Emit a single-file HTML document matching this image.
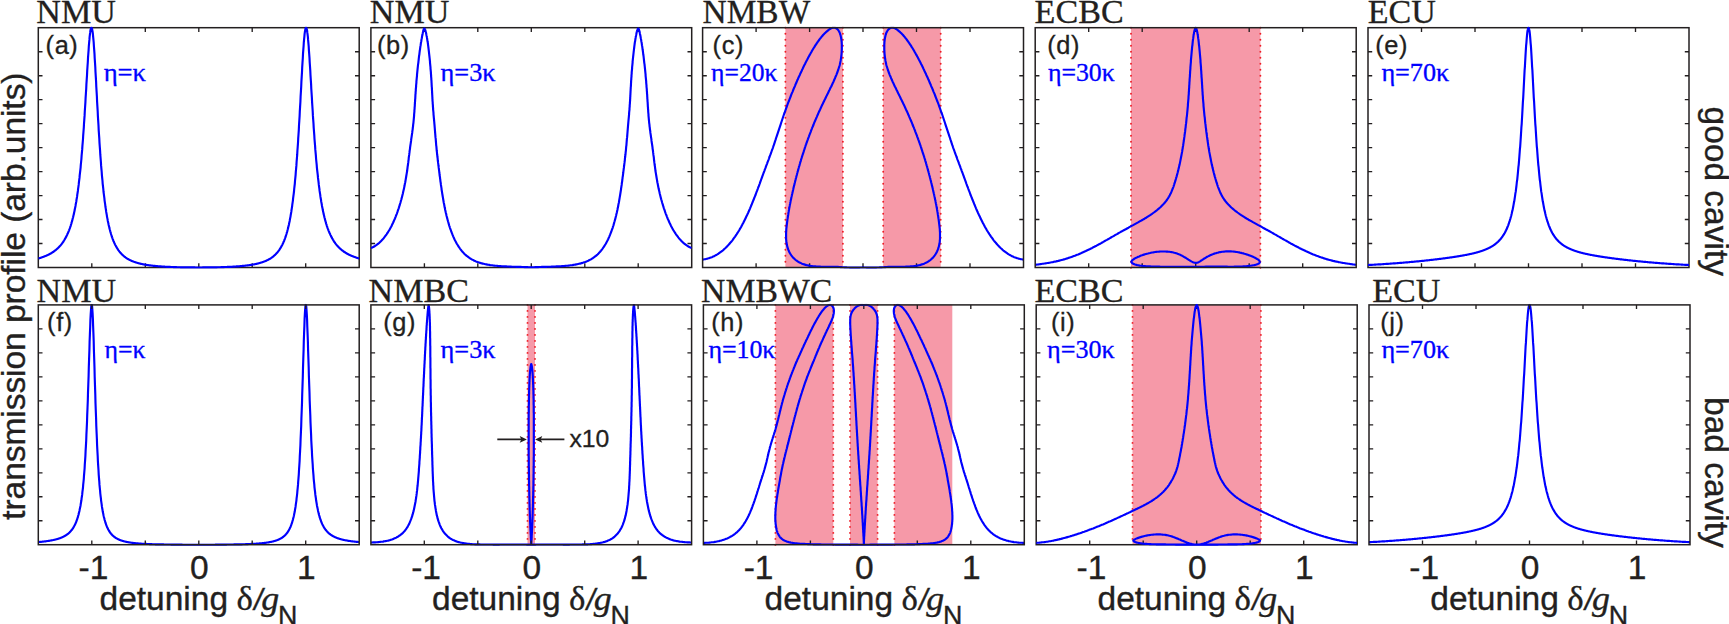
<!DOCTYPE html>
<html lang="en"><head><meta charset="utf-8"><title>Transmission profiles</title>
<style>html,body{margin:0;padding:0;background:#fff}svg{display:block}text{white-space:pre}</style></head>
<body>
<svg width="1729" height="624" viewBox="0 0 1729 624">
<rect width="1729" height="624" fill="#fff"/>
<g id="p-a">
<clipPath id="cl-a"><rect x="38.3" y="26.5" width="320.9" height="242.20000000000002"/></clipPath>
<rect x="38.3" y="27.7" width="320.9" height="239.8" fill="none" stroke="#231f20" stroke-width="1.5"/>
<path d="M91.8 27.7v4.2M91.8 267.5v-4.2M145.3 27.7v4.2M145.3 267.5v-4.2M198.8 27.7v4.2M198.8 267.5v-4.2M252.2 27.7v4.2M252.2 267.5v-4.2M305.7 27.7v4.2M305.7 267.5v-4.2M38.3 51.7h4.2M359.2 51.7h-4.2M38.3 75.7h4.2M359.2 75.7h-4.2M38.3 99.6h4.2M359.2 99.6h-4.2M38.3 123.6h4.2M359.2 123.6h-4.2M38.3 147.6h4.2M359.2 147.6h-4.2M38.3 171.6h4.2M359.2 171.6h-4.2M38.3 195.6h4.2M359.2 195.6h-4.2M38.3 219.5h4.2M359.2 219.5h-4.2M38.3 243.5h4.2M359.2 243.5h-4.2" stroke="#231f20" stroke-width="1.35" fill="none"/>
<path d="M38.3 258.5 L38.6 258.4 L38.8 258.3 L39.1 258.3 L39.4 258.2 L39.6 258.1 L39.9 258.0 L40.2 257.9 L40.4 257.9 L40.7 257.8 L41.0 257.7 L41.2 257.6 L41.5 257.5 L41.8 257.4 L42.0 257.3 L42.3 257.2 L42.6 257.1 L42.8 257.0 L43.1 256.9 L43.4 256.9 L43.6 256.8 L43.9 256.6 L44.2 256.5 L44.5 256.4 L44.7 256.3 L45.0 256.2 L45.3 256.1 L45.5 256.0 L45.8 255.9 L46.1 255.8 L46.3 255.7 L46.6 255.5 L46.9 255.4 L47.1 255.3 L47.4 255.2 L47.7 255.1 L47.9 254.9 L48.2 254.8 L48.5 254.7 L48.7 254.5 L49.0 254.4 L49.3 254.3 L49.5 254.1 L49.8 254.0 L50.1 253.8 L50.3 253.7 L50.6 253.5 L50.9 253.4 L51.1 253.2 L51.4 253.1 L51.7 252.9 L51.9 252.7 L52.2 252.6 L52.5 252.4 L52.7 252.2 L53.0 252.0 L53.3 251.9 L53.5 251.7 L53.8 251.5 L54.1 251.3 L54.3 251.1 L54.6 250.9 L54.9 250.7 L55.1 250.5 L55.4 250.3 L55.7 250.1 L55.9 249.8 L56.2 249.6 L56.5 249.4 L56.8 249.2 L57.0 248.9 L57.3 248.7 L57.6 248.4 L57.8 248.2 L58.1 247.9 L58.4 247.7 L58.6 247.4 L58.9 247.1 L59.2 246.9 L59.4 246.6 L59.7 246.3 L60.0 246.0 L60.2 245.7 L60.5 245.4 L60.8 245.1 L61.0 244.7 L61.3 244.4 L61.6 244.1 L61.8 243.7 L62.1 243.4 L62.4 243.0 L62.6 242.6 L62.9 242.2 L63.2 241.9 L63.4 241.5 L63.7 241.0 L64.0 240.6 L64.2 240.2 L64.5 239.8 L64.8 239.3 L65.0 238.8 L65.3 238.4 L65.6 237.9 L65.8 237.4 L66.1 236.9 L66.4 236.4 L66.6 235.8 L66.9 235.3 L67.2 234.7 L67.4 234.1 L67.7 233.5 L68.0 232.9 L68.3 232.3 L68.5 231.6 L68.8 231.0 L69.1 230.3 L69.3 229.6 L69.6 228.9 L69.9 228.1 L70.1 227.4 L70.4 226.6 L70.7 225.8 L70.9 224.9 L71.2 224.1 L71.5 223.2 L71.7 222.3 L72.0 221.3 L72.3 220.4 L72.5 219.4 L72.8 218.3 L73.1 217.3 L73.3 216.2 L73.6 215.0 L73.9 213.9 L74.1 212.7 L74.4 211.4 L74.7 210.1 L74.9 208.8 L75.2 207.4 L75.5 206.0 L75.7 204.5 L76.0 203.0 L76.3 201.5 L76.5 199.8 L76.8 198.2 L77.1 196.4 L77.3 194.6 L77.6 192.8 L77.9 190.9 L78.1 188.9 L78.4 186.8 L78.7 184.7 L78.9 182.5 L79.2 180.2 L79.5 177.9 L79.7 175.4 L80.0 172.9 L80.3 170.3 L80.6 167.6 L80.8 164.8 L81.1 162.0 L81.4 159.0 L81.6 155.9 L81.9 152.7 L82.2 149.4 L82.4 146.1 L82.7 142.6 L83.0 139.0 L83.2 135.3 L83.5 131.5 L83.8 127.6 L84.0 123.7 L84.3 119.6 L84.6 115.4 L84.8 111.2 L85.1 106.8 L85.4 102.4 L85.6 98.0 L85.9 93.5 L86.2 89.0 L86.4 84.4 L86.7 79.9 L87.0 75.4 L87.2 70.9 L87.5 66.5 L87.8 62.2 L88.0 58.0 L88.3 54.0 L88.6 50.1 L88.8 46.5 L89.1 43.1 L89.4 39.9 L89.6 37.1 L89.9 34.6 L90.2 32.4 L90.4 30.6 L90.7 29.3 L91.0 28.3 L91.2 27.8 L91.5 27.7 L91.8 28.1 L92.1 28.9 L92.3 30.1 L92.6 31.8 L92.9 33.9 L93.1 36.4 L93.4 39.3 L93.7 42.5 L93.9 46.0 L94.2 49.8 L94.5 53.9 L94.7 58.2 L95.0 62.6 L95.3 67.3 L95.5 72.0 L95.8 76.9 L96.1 81.8 L96.3 86.8 L96.6 91.8 L96.9 96.7 L97.1 101.7 L97.4 106.6 L97.7 111.5 L97.9 116.2 L98.2 120.9 L98.5 125.5 L98.7 130.1 L99.0 134.5 L99.3 138.7 L99.5 142.9 L99.8 147.0 L100.1 150.9 L100.3 154.7 L100.6 158.4 L100.9 162.0 L101.1 165.4 L101.4 168.8 L101.7 172.0 L101.9 175.1 L102.2 178.1 L102.5 181.0 L102.7 183.8 L103.0 186.4 L103.3 189.0 L103.5 191.5 L103.8 193.9 L104.1 196.2 L104.4 198.4 L104.6 200.6 L104.9 202.7 L105.2 204.6 L105.4 206.5 L105.7 208.4 L106.0 210.2 L106.2 211.9 L106.5 213.5 L106.8 215.1 L107.0 216.6 L107.3 218.1 L107.6 219.5 L107.8 220.9 L108.1 222.2 L108.4 223.5 L108.6 224.7 L108.9 225.9 L109.2 227.0 L109.4 228.1 L109.7 229.2 L110.0 230.2 L110.2 231.2 L110.5 232.2 L110.8 233.1 L111.0 234.0 L111.3 234.9 L111.6 235.7 L111.8 236.5 L112.1 237.3 L112.4 238.0 L112.6 238.8 L112.9 239.5 L113.2 240.2 L113.4 240.9 L113.7 241.5 L114.0 242.1 L114.2 242.7 L114.5 243.3 L114.8 243.9 L115.0 244.4 L115.3 245.0 L115.6 245.5 L115.9 246.0 L116.1 246.5 L116.4 247.0 L116.7 247.4 L116.9 247.9 L117.2 248.3 L117.5 248.7 L117.7 249.2 L118.0 249.6 L118.3 250.0 L118.5 250.3 L118.8 250.7 L119.1 251.1 L119.3 251.4 L119.6 251.8 L119.9 252.1 L120.1 252.4 L120.4 252.7 L120.7 253.0 L120.9 253.3 L121.2 253.6 L121.5 253.9 L121.7 254.2 L122.0 254.4 L122.3 254.7 L122.5 255.0 L122.8 255.2 L123.1 255.4 L123.3 255.7 L123.6 255.9 L123.9 256.1 L124.1 256.4 L124.4 256.6 L124.7 256.8 L124.9 257.0 L125.2 257.2 L125.5 257.4 L125.7 257.6 L126.0 257.8 L126.3 257.9 L126.5 258.1 L126.8 258.3 L127.1 258.5 L127.3 258.6 L127.6 258.8 L127.9 259.0 L128.2 259.1 L128.4 259.3 L128.7 259.4 L129.0 259.6 L129.2 259.7 L129.5 259.8 L129.8 260.0 L130.0 260.1 L130.3 260.2 L130.6 260.4 L130.8 260.5 L131.1 260.6 L131.4 260.7 L131.6 260.9 L131.9 261.0 L132.2 261.1 L132.4 261.2 L132.7 261.3 L133.0 261.4 L133.2 261.5 L133.5 261.6 L133.8 261.7 L134.0 261.8 L134.3 261.9 L134.6 262.0 L134.8 262.1 L135.1 262.2 L135.4 262.3 L135.6 262.4 L135.9 262.5 L136.2 262.5 L136.4 262.6 L136.7 262.7 L137.0 262.8 L137.2 262.9 L137.5 262.9 L137.8 263.0 L138.0 263.1 L138.3 263.2 L138.6 263.2 L138.8 263.3 L139.1 263.4 L139.4 263.4 L139.7 263.5 L139.9 263.6 L140.2 263.6 L140.5 263.7 L140.7 263.8 L141.0 263.8 L141.3 263.9 L141.5 263.9 L141.8 264.0 L142.1 264.1 L142.3 264.1 L142.6 264.2 L142.9 264.2 L143.1 264.3 L143.4 264.3 L143.7 264.4 L143.9 264.4 L144.2 264.5 L144.5 264.5 L144.7 264.6 L145.0 264.6 L145.3 264.7 L145.5 264.7 L145.8 264.8 L146.1 264.8 L146.3 264.8 L146.6 264.9 L146.9 264.9 L147.1 265.0 L147.4 265.0 L147.7 265.0 L147.9 265.1 L148.2 265.1 L148.5 265.2 L148.7 265.2 L149.0 265.2 L149.3 265.3 L149.5 265.3 L149.8 265.3 L150.1 265.4 L150.3 265.4 L150.6 265.4 L150.9 265.5 L151.1 265.5 L151.4 265.5 L151.7 265.6 L152.0 265.6 L152.2 265.6 L152.5 265.7 L152.8 265.7 L153.0 265.7 L153.3 265.8 L153.6 265.8 L153.8 265.8 L154.1 265.8 L154.4 265.9 L154.6 265.9 L154.9 265.9 L155.2 265.9 L155.4 266.0 L155.7 266.0 L156.0 266.0 L156.2 266.0 L156.5 266.1 L156.8 266.1 L157.0 266.1 L157.3 266.1 L157.6 266.2 L157.8 266.2 L158.1 266.2 L158.4 266.2 L158.6 266.2 L158.9 266.3 L159.2 266.3 L159.4 266.3 L159.7 266.3 L160.0 266.4 L160.2 266.4 L160.5 266.4 L160.8 266.4 L161.0 266.4 L161.3 266.4 L161.6 266.5 L161.8 266.5 L162.1 266.5 L162.4 266.5 L162.6 266.5 L162.9 266.6 L163.2 266.6 L163.5 266.6 L163.7 266.6 L164.0 266.6 L164.3 266.6 L164.5 266.6 L164.8 266.7 L165.1 266.7 L165.3 266.7 L165.6 266.7 L165.9 266.7 L166.1 266.7 L166.4 266.8 L166.7 266.8 L166.9 266.8 L167.2 266.8 L167.5 266.8 L167.7 266.8 L168.0 266.8 L168.3 266.8 L168.5 266.9 L168.8 266.9 L169.1 266.9 L169.3 266.9 L169.6 266.9 L169.9 266.9 L170.1 266.9 L170.4 266.9 L170.7 267.0 L170.9 267.0 L171.2 267.0 L171.5 267.0 L171.7 267.0 L172.0 267.0 L172.3 267.0 L172.5 267.0 L172.8 267.0 L173.1 267.0 L173.3 267.1 L173.6 267.1 L173.9 267.1 L174.1 267.1 L174.4 267.1 L174.7 267.1 L174.9 267.1 L175.2 267.1 L175.5 267.1 L175.8 267.1 L176.0 267.1 L176.3 267.1 L176.6 267.2 L176.8 267.2 L177.1 267.2 L177.4 267.2 L177.6 267.2 L177.9 267.2 L178.2 267.2 L178.4 267.2 L178.7 267.2 L179.0 267.2 L179.2 267.2 L179.5 267.2 L179.8 267.2 L180.0 267.2 L180.3 267.3 L180.6 267.3 L180.8 267.3 L181.1 267.3 L181.4 267.3 L181.6 267.3 L181.9 267.3 L182.2 267.3 L182.4 267.3 L182.7 267.3 L183.0 267.3 L183.2 267.3 L183.5 267.3 L183.8 267.3 L184.0 267.3 L184.3 267.3 L184.6 267.3 L184.8 267.3 L185.1 267.3 L185.4 267.4 L185.6 267.4 L185.9 267.4 L186.2 267.4 L186.4 267.4 L186.7 267.4 L187.0 267.4 L187.3 267.4 L187.5 267.4 L187.8 267.4 L188.1 267.4 L188.3 267.4 L188.6 267.4 L188.9 267.4 L189.1 267.4 L189.4 267.4 L189.7 267.4 L189.9 267.4 L190.2 267.4 L190.5 267.4 L190.7 267.4 L191.0 267.4 L191.3 267.4 L191.5 267.4 L191.8 267.4 L192.1 267.4 L192.3 267.4 L192.6 267.4 L192.9 267.4 L193.1 267.4 L193.4 267.4 L193.7 267.4 L193.9 267.4 L194.2 267.4 L194.5 267.4 L194.7 267.4 L195.0 267.4 L195.3 267.5 L195.5 267.5 L195.8 267.5 L196.1 267.5 L196.3 267.5 L196.6 267.5 L196.9 267.5 L197.1 267.5 L197.4 267.5 L197.7 267.5 L197.9 267.5 L198.2 267.5 L198.5 267.5 L198.8 267.5 L199.0 267.5 L199.3 267.5 L199.6 267.5 L199.8 267.5 L200.1 267.5 L200.4 267.5 L200.6 267.5 L200.9 267.5 L201.2 267.5 L201.4 267.5 L201.7 267.5 L202.0 267.5 L202.2 267.5 L202.5 267.4 L202.8 267.4 L203.0 267.4 L203.3 267.4 L203.6 267.4 L203.8 267.4 L204.1 267.4 L204.4 267.4 L204.6 267.4 L204.9 267.4 L205.2 267.4 L205.4 267.4 L205.7 267.4 L206.0 267.4 L206.2 267.4 L206.5 267.4 L206.8 267.4 L207.0 267.4 L207.3 267.4 L207.6 267.4 L207.8 267.4 L208.1 267.4 L208.4 267.4 L208.6 267.4 L208.9 267.4 L209.2 267.4 L209.4 267.4 L209.7 267.4 L210.0 267.4 L210.2 267.4 L210.5 267.4 L210.8 267.4 L211.1 267.4 L211.3 267.4 L211.6 267.4 L211.9 267.4 L212.1 267.4 L212.4 267.3 L212.7 267.3 L212.9 267.3 L213.2 267.3 L213.5 267.3 L213.7 267.3 L214.0 267.3 L214.3 267.3 L214.5 267.3 L214.8 267.3 L215.1 267.3 L215.3 267.3 L215.6 267.3 L215.9 267.3 L216.1 267.3 L216.4 267.3 L216.7 267.3 L216.9 267.3 L217.2 267.3 L217.5 267.2 L217.7 267.2 L218.0 267.2 L218.3 267.2 L218.5 267.2 L218.8 267.2 L219.1 267.2 L219.3 267.2 L219.6 267.2 L219.9 267.2 L220.1 267.2 L220.4 267.2 L220.7 267.2 L220.9 267.2 L221.2 267.1 L221.5 267.1 L221.7 267.1 L222.0 267.1 L222.3 267.1 L222.6 267.1 L222.8 267.1 L223.1 267.1 L223.4 267.1 L223.6 267.1 L223.9 267.1 L224.2 267.1 L224.4 267.0 L224.7 267.0 L225.0 267.0 L225.2 267.0 L225.5 267.0 L225.8 267.0 L226.0 267.0 L226.3 267.0 L226.6 267.0 L226.8 267.0 L227.1 266.9 L227.4 266.9 L227.6 266.9 L227.9 266.9 L228.2 266.9 L228.4 266.9 L228.7 266.9 L229.0 266.9 L229.2 266.8 L229.5 266.8 L229.8 266.8 L230.0 266.8 L230.3 266.8 L230.6 266.8 L230.8 266.8 L231.1 266.8 L231.4 266.7 L231.6 266.7 L231.9 266.7 L232.2 266.7 L232.4 266.7 L232.7 266.7 L233.0 266.6 L233.2 266.6 L233.5 266.6 L233.8 266.6 L234.0 266.6 L234.3 266.6 L234.6 266.6 L234.9 266.5 L235.1 266.5 L235.4 266.5 L235.7 266.5 L235.9 266.5 L236.2 266.4 L236.5 266.4 L236.7 266.4 L237.0 266.4 L237.3 266.4 L237.5 266.4 L237.8 266.3 L238.1 266.3 L238.3 266.3 L238.6 266.3 L238.9 266.2 L239.1 266.2 L239.4 266.2 L239.7 266.2 L239.9 266.2 L240.2 266.1 L240.5 266.1 L240.7 266.1 L241.0 266.1 L241.3 266.0 L241.5 266.0 L241.8 266.0 L242.1 266.0 L242.3 265.9 L242.6 265.9 L242.9 265.9 L243.1 265.9 L243.4 265.8 L243.7 265.8 L243.9 265.8 L244.2 265.8 L244.5 265.7 L244.7 265.7 L245.0 265.7 L245.3 265.6 L245.5 265.6 L245.8 265.6 L246.1 265.5 L246.4 265.5 L246.6 265.5 L246.9 265.4 L247.2 265.4 L247.4 265.4 L247.7 265.3 L248.0 265.3 L248.2 265.3 L248.5 265.2 L248.8 265.2 L249.0 265.2 L249.3 265.1 L249.6 265.1 L249.8 265.0 L250.1 265.0 L250.4 265.0 L250.6 264.9 L250.9 264.9 L251.2 264.8 L251.4 264.8 L251.7 264.8 L252.0 264.7 L252.2 264.7 L252.5 264.6 L252.8 264.6 L253.0 264.5 L253.3 264.5 L253.6 264.4 L253.8 264.4 L254.1 264.3 L254.4 264.3 L254.6 264.2 L254.9 264.2 L255.2 264.1 L255.4 264.1 L255.7 264.0 L256.0 263.9 L256.2 263.9 L256.5 263.8 L256.8 263.8 L257.0 263.7 L257.3 263.6 L257.6 263.6 L257.8 263.5 L258.1 263.4 L258.4 263.4 L258.7 263.3 L258.9 263.2 L259.2 263.2 L259.5 263.1 L259.7 263.0 L260.0 262.9 L260.3 262.9 L260.5 262.8 L260.8 262.7 L261.1 262.6 L261.3 262.5 L261.6 262.5 L261.9 262.4 L262.1 262.3 L262.4 262.2 L262.7 262.1 L262.9 262.0 L263.2 261.9 L263.5 261.8 L263.7 261.7 L264.0 261.6 L264.3 261.5 L264.5 261.4 L264.8 261.3 L265.1 261.2 L265.3 261.1 L265.6 261.0 L265.9 260.9 L266.1 260.7 L266.4 260.6 L266.7 260.5 L266.9 260.4 L267.2 260.2 L267.5 260.1 L267.7 260.0 L268.0 259.8 L268.3 259.7 L268.5 259.6 L268.8 259.4 L269.1 259.3 L269.3 259.1 L269.6 259.0 L269.9 258.8 L270.2 258.6 L270.4 258.5 L270.7 258.3 L271.0 258.1 L271.2 257.9 L271.5 257.8 L271.8 257.6 L272.0 257.4 L272.3 257.2 L272.6 257.0 L272.8 256.8 L273.1 256.6 L273.4 256.4 L273.6 256.1 L273.9 255.9 L274.2 255.7 L274.4 255.4 L274.7 255.2 L275.0 255.0 L275.2 254.7 L275.5 254.4 L275.8 254.2 L276.0 253.9 L276.3 253.6 L276.6 253.3 L276.8 253.0 L277.1 252.7 L277.4 252.4 L277.6 252.1 L277.9 251.8 L278.2 251.4 L278.4 251.1 L278.7 250.7 L279.0 250.3 L279.2 250.0 L279.5 249.6 L279.8 249.2 L280.0 248.7 L280.3 248.3 L280.6 247.9 L280.8 247.4 L281.1 247.0 L281.4 246.5 L281.6 246.0 L281.9 245.5 L282.2 245.0 L282.5 244.4 L282.7 243.9 L283.0 243.3 L283.3 242.7 L283.5 242.1 L283.8 241.5 L284.1 240.9 L284.3 240.2 L284.6 239.5 L284.9 238.8 L285.1 238.0 L285.4 237.3 L285.7 236.5 L285.9 235.7 L286.2 234.9 L286.5 234.0 L286.7 233.1 L287.0 232.2 L287.3 231.2 L287.5 230.2 L287.8 229.2 L288.1 228.1 L288.3 227.0 L288.6 225.9 L288.9 224.7 L289.1 223.5 L289.4 222.2 L289.7 220.9 L289.9 219.5 L290.2 218.1 L290.5 216.6 L290.7 215.1 L291.0 213.5 L291.3 211.9 L291.5 210.2 L291.8 208.4 L292.1 206.5 L292.3 204.6 L292.6 202.7 L292.9 200.6 L293.1 198.4 L293.4 196.2 L293.7 193.9 L294.0 191.5 L294.2 189.0 L294.5 186.4 L294.8 183.8 L295.0 181.0 L295.3 178.1 L295.6 175.1 L295.8 172.0 L296.1 168.8 L296.4 165.4 L296.6 162.0 L296.9 158.4 L297.2 154.7 L297.4 150.9 L297.7 147.0 L298.0 142.9 L298.2 138.7 L298.5 134.5 L298.8 130.1 L299.0 125.5 L299.3 120.9 L299.6 116.2 L299.8 111.5 L300.1 106.6 L300.4 101.7 L300.6 96.7 L300.9 91.8 L301.2 86.8 L301.4 81.8 L301.7 76.9 L302.0 72.0 L302.2 67.3 L302.5 62.6 L302.8 58.2 L303.0 53.9 L303.3 49.8 L303.6 46.0 L303.8 42.5 L304.1 39.3 L304.4 36.4 L304.6 33.9 L304.9 31.8 L305.2 30.1 L305.4 28.9 L305.7 28.1 L306.0 27.7 L306.3 27.8 L306.5 28.3 L306.8 29.3 L307.1 30.6 L307.3 32.4 L307.6 34.6 L307.9 37.1 L308.1 39.9 L308.4 43.1 L308.7 46.5 L308.9 50.1 L309.2 54.0 L309.5 58.0 L309.7 62.2 L310.0 66.5 L310.3 70.9 L310.5 75.4 L310.8 79.9 L311.1 84.4 L311.3 89.0 L311.6 93.5 L311.9 98.0 L312.1 102.4 L312.4 106.8 L312.7 111.2 L312.9 115.4 L313.2 119.6 L313.5 123.7 L313.7 127.6 L314.0 131.5 L314.3 135.3 L314.5 139.0 L314.8 142.6 L315.1 146.1 L315.3 149.4 L315.6 152.7 L315.9 155.9 L316.1 159.0 L316.4 162.0 L316.7 164.8 L316.9 167.6 L317.2 170.3 L317.5 172.9 L317.8 175.4 L318.0 177.9 L318.3 180.2 L318.6 182.5 L318.8 184.7 L319.1 186.8 L319.4 188.9 L319.6 190.9 L319.9 192.8 L320.2 194.6 L320.4 196.4 L320.7 198.2 L321.0 199.8 L321.2 201.5 L321.5 203.0 L321.8 204.5 L322.0 206.0 L322.3 207.4 L322.6 208.8 L322.8 210.1 L323.1 211.4 L323.4 212.7 L323.6 213.9 L323.9 215.0 L324.2 216.2 L324.4 217.3 L324.7 218.3 L325.0 219.4 L325.2 220.4 L325.5 221.3 L325.8 222.3 L326.0 223.2 L326.3 224.1 L326.6 224.9 L326.8 225.8 L327.1 226.6 L327.4 227.4 L327.6 228.1 L327.9 228.9 L328.2 229.6 L328.4 230.3 L328.7 231.0 L329.0 231.6 L329.2 232.3 L329.5 232.9 L329.8 233.5 L330.1 234.1 L330.3 234.7 L330.6 235.3 L330.9 235.8 L331.1 236.4 L331.4 236.9 L331.7 237.4 L331.9 237.9 L332.2 238.4 L332.5 238.8 L332.7 239.3 L333.0 239.8 L333.3 240.2 L333.5 240.6 L333.8 241.0 L334.1 241.5 L334.3 241.9 L334.6 242.2 L334.9 242.6 L335.1 243.0 L335.4 243.4 L335.7 243.7 L335.9 244.1 L336.2 244.4 L336.5 244.7 L336.7 245.1 L337.0 245.4 L337.3 245.7 L337.5 246.0 L337.8 246.3 L338.1 246.6 L338.3 246.9 L338.6 247.1 L338.9 247.4 L339.1 247.7 L339.4 247.9 L339.7 248.2 L339.9 248.4 L340.2 248.7 L340.5 248.9 L340.7 249.2 L341.0 249.4 L341.3 249.6 L341.6 249.8 L341.8 250.1 L342.1 250.3 L342.4 250.5 L342.6 250.7 L342.9 250.9 L343.2 251.1 L343.4 251.3 L343.7 251.5 L344.0 251.7 L344.2 251.9 L344.5 252.0 L344.8 252.2 L345.0 252.4 L345.3 252.6 L345.6 252.7 L345.8 252.9 L346.1 253.1 L346.4 253.2 L346.6 253.4 L346.9 253.5 L347.2 253.7 L347.4 253.8 L347.7 254.0 L348.0 254.1 L348.2 254.3 L348.5 254.4 L348.8 254.5 L349.0 254.7 L349.3 254.8 L349.6 254.9 L349.8 255.1 L350.1 255.2 L350.4 255.3 L350.6 255.4 L350.9 255.5 L351.2 255.7 L351.4 255.8 L351.7 255.9 L352.0 256.0 L352.2 256.1 L352.5 256.2 L352.8 256.3 L353.0 256.4 L353.3 256.5 L353.6 256.6 L353.9 256.8 L354.1 256.9 L354.4 256.9 L354.7 257.0 L354.9 257.1 L355.2 257.2 L355.5 257.3 L355.7 257.4 L356.0 257.5 L356.3 257.6 L356.5 257.7 L356.8 257.8 L357.1 257.9 L357.3 257.9 L357.6 258.0 L357.9 258.1 L358.1 258.2 L358.4 258.3 L358.7 258.3 L358.9 258.4 L359.2 258.5" fill="none" stroke="#0000ff" stroke-width="2.15" stroke-linejoin="round" clip-path="url(#cl-a)"/>
</g>
<g id="p-b">
<clipPath id="cl-b"><rect x="370.9" y="26.5" width="320.80000000000007" height="242.20000000000002"/></clipPath>
<rect x="370.9" y="27.7" width="320.8" height="239.8" fill="none" stroke="#231f20" stroke-width="1.5"/>
<path d="M424.4 27.7v4.2M424.4 267.5v-4.2M477.8 27.7v4.2M477.8 267.5v-4.2M531.3 27.7v4.2M531.3 267.5v-4.2M584.8 27.7v4.2M584.8 267.5v-4.2M638.2 27.7v4.2M638.2 267.5v-4.2M370.9 51.7h4.2M691.7 51.7h-4.2M370.9 75.7h4.2M691.7 75.7h-4.2M370.9 99.6h4.2M691.7 99.6h-4.2M370.9 123.6h4.2M691.7 123.6h-4.2M370.9 147.6h4.2M691.7 147.6h-4.2M370.9 171.6h4.2M691.7 171.6h-4.2M370.9 195.6h4.2M691.7 195.6h-4.2M370.9 219.5h4.2M691.7 219.5h-4.2M370.9 243.5h4.2M691.7 243.5h-4.2" stroke="#231f20" stroke-width="1.35" fill="none"/>
<path d="M370.9 248.1 L371.6 247.8 L372.4 247.4 L373.1 247.1 L373.8 246.7 L374.5 246.3 L375.2 245.8 L375.9 245.4 L376.6 244.9 L377.3 244.4 L378.0 243.9 L378.6 243.3 L379.3 242.8 L379.9 242.2 L380.6 241.5 L381.2 240.9 L381.8 240.3 L382.5 239.6 L383.1 238.9 L383.7 238.2 L384.3 237.4 L384.8 236.7 L385.4 235.9 L386.0 235.1 L386.6 234.3 L387.1 233.5 L387.7 232.7 L388.2 231.8 L388.7 231.0 L389.3 230.1 L389.8 229.2 L390.3 228.3 L390.8 227.3 L391.3 226.4 L391.8 225.4 L392.2 224.5 L392.7 223.5 L393.2 222.5 L393.6 221.5 L394.1 220.5 L394.5 219.4 L395.0 218.4 L395.4 217.3 L395.8 216.3 L396.2 215.2 L396.7 214.1 L397.1 213.0 L397.5 211.9 L397.8 210.8 L398.2 209.7 L398.6 208.6 L399.0 207.4 L399.3 206.3 L399.7 205.2 L400.0 204.0 L400.4 202.8 L400.7 201.7 L401.0 200.5 L401.4 199.3 L401.7 198.1 L402.0 197.0 L402.3 195.8 L402.6 194.6 L402.9 193.4 L403.1 192.2 L403.4 191.0 L403.7 189.8 L404.0 188.6 L404.2 187.4 L404.5 186.1 L404.7 184.9 L404.9 183.7 L405.2 182.5 L405.4 181.3 L405.6 180.1 L405.8 178.9 L406.0 177.7 L406.2 176.5 L406.4 175.3 L406.6 174.1 L406.8 172.9 L407.0 171.7 L407.2 170.5 L407.3 169.3 L407.5 168.1 L407.6 166.9 L407.8 165.7 L408.0 164.5 L408.1 163.4 L408.3 162.2 L408.4 161.0 L408.6 159.8 L408.7 158.5 L408.8 157.3 L409.0 156.1 L409.2 154.9 L409.3 153.6 L409.5 152.4 L409.6 151.1 L409.8 149.8 L410.0 148.6 L410.1 147.3 L410.3 146.0 L410.5 144.6 L410.7 143.3 L410.9 142.0 L411.1 140.7 L411.2 139.4 L411.4 138.1 L411.6 136.8 L411.8 135.4 L412.0 134.1 L412.2 132.9 L412.3 131.6 L412.5 130.3 L412.7 129.1 L412.8 127.8 L413.0 126.6 L413.1 125.4 L413.2 124.3 L413.4 123.1 L413.5 122.0 L413.6 120.9 L413.7 119.8 L413.8 118.8 L413.9 117.7 L414.0 116.7 L414.1 115.6 L414.1 114.6 L414.2 113.6 L414.3 112.6 L414.4 111.7 L414.4 110.7 L414.5 109.7 L414.6 108.7 L414.6 107.8 L414.7 106.8 L414.8 105.8 L414.8 104.9 L414.9 103.9 L414.9 102.9 L415.0 102.0 L415.1 101.0 L415.1 100.0 L415.2 99.1 L415.3 98.1 L415.3 97.1 L415.4 96.2 L415.4 95.2 L415.5 94.2 L415.6 93.3 L415.6 92.3 L415.7 91.3 L415.8 90.4 L415.8 89.4 L415.9 88.4 L416.0 87.5 L416.1 86.5 L416.1 85.5 L416.2 84.6 L416.3 83.6 L416.4 82.6 L416.4 81.6 L416.5 80.7 L416.6 79.7 L416.7 78.7 L416.8 77.7 L416.9 76.7 L417.0 75.8 L417.0 74.8 L417.1 73.8 L417.2 72.8 L417.3 71.8 L417.4 70.9 L417.5 69.9 L417.6 68.9 L417.7 67.9 L417.8 67.0 L417.9 66.0 L418.0 65.1 L418.1 64.1 L418.3 63.1 L418.4 62.2 L418.5 61.2 L418.6 60.3 L418.7 59.4 L418.8 58.4 L418.9 57.5 L419.0 56.6 L419.1 55.7 L419.3 54.8 L419.4 53.9 L419.5 53.0 L419.6 52.1 L419.7 51.3 L419.8 50.4 L420.0 49.6 L420.1 48.7 L420.2 47.9 L420.3 47.1 L420.4 46.3 L420.6 45.5 L420.7 44.7 L420.8 43.9 L420.9 43.2 L421.0 42.4 L421.2 41.7 L421.3 41.0 L421.4 40.3 L421.5 39.6 L421.6 38.9 L421.8 38.2 L421.9 37.6 L422.0 36.9 L422.1 36.3 L422.2 35.7 L422.4 35.1 L422.5 34.6 L422.6 34.0 L422.7 33.5 L422.8 32.9 L422.9 32.4 L423.0 32.0 L423.2 31.5 L423.3 31.1 L423.4 30.6 L423.5 30.2 L423.6 29.9 L423.7 29.5 L423.8 29.2 L423.9 29.0 L424.0 28.8 L424.2 28.6 L424.3 28.5 L424.4 28.5 L424.5 28.5 L424.6 28.6 L424.7 28.7 L424.8 28.9 L424.9 29.1 L425.1 29.4 L425.2 29.7 L425.3 30.1 L425.4 30.4 L425.5 30.8 L425.6 31.3 L425.7 31.7 L425.9 32.2 L426.0 32.7 L426.1 33.2 L426.2 33.7 L426.3 34.3 L426.4 34.8 L426.5 35.4 L426.6 36.0 L426.8 36.6 L426.9 37.2 L427.0 37.9 L427.1 38.5 L427.2 39.2 L427.3 39.9 L427.4 40.6 L427.5 41.3 L427.7 42.0 L427.8 42.8 L427.9 43.5 L428.0 44.3 L428.1 45.1 L428.2 45.9 L428.3 46.7 L428.4 47.5 L428.5 48.3 L428.6 49.2 L428.7 50.0 L428.8 50.9 L428.9 51.7 L429.0 52.6 L429.1 53.5 L429.2 54.4 L429.3 55.3 L429.4 56.2 L429.5 57.1 L429.6 58.0 L429.7 58.9 L429.8 59.9 L429.9 60.8 L430.0 61.7 L430.0 62.7 L430.1 63.6 L430.2 64.6 L430.3 65.6 L430.4 66.5 L430.5 67.5 L430.5 68.5 L430.6 69.4 L430.7 70.4 L430.8 71.4 L430.9 72.4 L430.9 73.4 L431.0 74.3 L431.1 75.3 L431.1 76.3 L431.2 77.3 L431.3 78.3 L431.3 79.2 L431.4 80.2 L431.5 81.2 L431.5 82.2 L431.6 83.1 L431.6 84.1 L431.7 85.1 L431.7 86.1 L431.8 87.0 L431.9 88.0 L431.9 89.0 L432.0 89.9 L432.0 90.9 L432.1 91.9 L432.1 92.8 L432.2 93.8 L432.2 94.8 L432.3 95.7 L432.3 96.7 L432.4 97.7 L432.4 98.6 L432.5 99.6 L432.5 100.6 L432.6 101.5 L432.7 102.5 L432.7 103.5 L432.8 104.4 L432.9 105.4 L432.9 106.4 L433.0 107.3 L433.1 108.3 L433.1 109.3 L433.2 110.3 L433.3 111.2 L433.4 112.2 L433.5 113.2 L433.5 114.2 L433.6 115.2 L433.7 116.2 L433.8 117.3 L433.9 118.3 L434.0 119.4 L434.1 120.4 L434.2 121.5 L434.3 122.6 L434.4 123.8 L434.5 124.9 L434.6 126.1 L434.7 127.3 L434.8 128.5 L434.9 129.8 L435.0 131.0 L435.1 132.3 L435.2 133.5 L435.3 134.8 L435.4 136.1 L435.5 137.4 L435.7 138.7 L435.8 140.1 L435.9 141.4 L436.0 142.7 L436.1 144.0 L436.2 145.3 L436.4 146.6 L436.5 147.9 L436.6 149.2 L436.7 150.5 L436.9 151.8 L437.0 153.0 L437.1 154.3 L437.3 155.5 L437.4 156.8 L437.6 158.0 L437.7 159.2 L437.8 160.5 L438.0 161.7 L438.1 162.9 L438.3 164.1 L438.4 165.3 L438.6 166.5 L438.7 167.7 L438.9 168.9 L439.0 170.1 L439.2 171.3 L439.3 172.5 L439.5 173.8 L439.6 175.0 L439.8 176.2 L440.0 177.4 L440.1 178.6 L440.3 179.8 L440.4 181.1 L440.6 182.3 L440.8 183.5 L440.9 184.7 L441.1 185.9 L441.3 187.2 L441.5 188.4 L441.6 189.6 L441.8 190.8 L442.0 192.0 L442.2 193.3 L442.4 194.5 L442.6 195.7 L442.8 196.9 L443.0 198.1 L443.2 199.3 L443.4 200.5 L443.6 201.7 L443.8 202.9 L444.1 204.1 L444.3 205.3 L444.5 206.5 L444.7 207.6 L445.0 208.8 L445.2 210.0 L445.5 211.1 L445.7 212.3 L446.0 213.4 L446.3 214.6 L446.5 215.7 L446.8 216.8 L447.1 217.9 L447.4 219.1 L447.7 220.2 L448.0 221.3 L448.3 222.3 L448.6 223.4 L448.9 224.5 L449.2 225.6 L449.6 226.6 L449.9 227.7 L450.2 228.7 L450.6 229.7 L451.0 230.7 L451.3 231.7 L451.7 232.7 L452.1 233.7 L452.5 234.7 L452.9 235.6 L453.3 236.6 L453.7 237.5 L454.1 238.4 L454.5 239.4 L455.0 240.3 L455.4 241.1 L455.9 242.0 L456.4 242.9 L456.8 243.7 L457.3 244.5 L457.8 245.3 L458.3 246.1 L458.8 246.9 L459.4 247.7 L459.9 248.5 L460.4 249.2 L461.0 249.9 L461.5 250.6 L462.1 251.3 L462.7 252.0 L463.3 252.6 L463.9 253.3 L464.5 253.9 L465.1 254.5 L465.8 255.1 L466.4 255.6 L467.1 256.2 L467.8 256.7 L468.4 257.2 L469.1 257.7 L469.8 258.2 L470.6 258.6 L471.3 259.1 L472.0 259.5 L472.8 259.9 L473.6 260.3 L474.3 260.7 L475.1 261.0 L475.9 261.4 L476.7 261.7 L477.5 262.0 L478.4 262.3 L479.2 262.6 L480.1 262.9 L480.9 263.1 L481.8 263.4 L482.7 263.6 L483.6 263.8 L484.5 264.0 L485.4 264.2 L486.4 264.4 L487.3 264.6 L488.3 264.8 L489.2 264.9 L490.2 265.1 L491.2 265.2 L492.2 265.3 L493.2 265.5 L494.2 265.6 L495.3 265.7 L496.3 265.8 L497.4 265.9 L498.4 266.0 L499.5 266.1 L500.6 266.1 L501.7 266.2 L502.8 266.3 L503.9 266.3 L505.1 266.4 L506.2 266.4 L507.3 266.5 L508.5 266.5 L509.7 266.6 L510.9 266.6 L512.1 266.7 L513.3 266.7 L514.5 266.7 L515.7 266.8 L517.0 266.8 L518.2 266.9 L519.5 266.9 L520.7 266.9 L522.0 267.0 L523.3 267.0 L524.6 267.1 L525.9 267.1 L527.3 267.1 L528.6 267.2 L529.9 267.2 L531.3 267.3 L531.3 267.3 L532.7 267.2 L534.0 267.2 L535.3 267.1 L536.7 267.1 L538.0 267.1 L539.3 267.0 L540.6 267.0 L541.9 266.9 L543.1 266.9 L544.4 266.9 L545.6 266.8 L546.9 266.8 L548.1 266.7 L549.3 266.7 L550.5 266.7 L551.7 266.6 L552.9 266.6 L554.1 266.5 L555.3 266.5 L556.4 266.4 L557.5 266.4 L558.7 266.3 L559.8 266.3 L560.9 266.2 L562.0 266.1 L563.1 266.1 L564.2 266.0 L565.2 265.9 L566.3 265.8 L567.3 265.7 L568.4 265.6 L569.4 265.5 L570.4 265.3 L571.4 265.2 L572.4 265.1 L573.4 264.9 L574.3 264.8 L575.3 264.6 L576.2 264.4 L577.2 264.2 L578.1 264.0 L579.0 263.8 L579.9 263.6 L580.8 263.4 L581.7 263.1 L582.5 262.9 L583.4 262.6 L584.2 262.3 L585.1 262.0 L585.9 261.7 L586.7 261.4 L587.5 261.0 L588.3 260.7 L589.0 260.3 L589.8 259.9 L590.6 259.5 L591.3 259.1 L592.0 258.6 L592.8 258.2 L593.5 257.7 L594.2 257.2 L594.8 256.7 L595.5 256.2 L596.2 255.6 L596.8 255.1 L597.5 254.5 L598.1 253.9 L598.7 253.3 L599.3 252.6 L599.9 252.0 L600.5 251.3 L601.1 250.6 L601.6 249.9 L602.2 249.2 L602.7 248.5 L603.2 247.7 L603.8 246.9 L604.3 246.1 L604.8 245.3 L605.3 244.5 L605.8 243.7 L606.2 242.9 L606.7 242.0 L607.2 241.1 L607.6 240.3 L608.1 239.4 L608.5 238.4 L608.9 237.5 L609.3 236.6 L609.7 235.6 L610.1 234.7 L610.5 233.7 L610.9 232.7 L611.3 231.7 L611.6 230.7 L612.0 229.7 L612.4 228.7 L612.7 227.7 L613.0 226.6 L613.4 225.6 L613.7 224.5 L614.0 223.4 L614.3 222.3 L614.6 221.3 L614.9 220.2 L615.2 219.1 L615.5 217.9 L615.8 216.8 L616.1 215.7 L616.3 214.6 L616.6 213.4 L616.9 212.3 L617.1 211.1 L617.4 210.0 L617.6 208.8 L617.9 207.6 L618.1 206.5 L618.3 205.3 L618.5 204.1 L618.8 202.9 L619.0 201.7 L619.2 200.5 L619.4 199.3 L619.6 198.1 L619.8 196.9 L620.0 195.7 L620.2 194.5 L620.4 193.3 L620.6 192.0 L620.8 190.8 L621.0 189.6 L621.1 188.4 L621.3 187.2 L621.5 185.9 L621.7 184.7 L621.8 183.5 L622.0 182.3 L622.2 181.1 L622.3 179.8 L622.5 178.6 L622.6 177.4 L622.8 176.2 L623.0 175.0 L623.1 173.8 L623.3 172.5 L623.4 171.3 L623.6 170.1 L623.7 168.9 L623.9 167.7 L624.0 166.5 L624.2 165.3 L624.3 164.1 L624.5 162.9 L624.6 161.7 L624.8 160.5 L624.9 159.2 L625.0 158.0 L625.2 156.8 L625.3 155.5 L625.5 154.3 L625.6 153.0 L625.7 151.8 L625.9 150.5 L626.0 149.2 L626.1 147.9 L626.2 146.6 L626.4 145.3 L626.5 144.0 L626.6 142.7 L626.7 141.4 L626.8 140.1 L626.9 138.7 L627.1 137.4 L627.2 136.1 L627.3 134.8 L627.4 133.5 L627.5 132.3 L627.6 131.0 L627.7 129.8 L627.8 128.5 L627.9 127.3 L628.0 126.1 L628.1 124.9 L628.2 123.8 L628.3 122.6 L628.4 121.5 L628.5 120.4 L628.6 119.4 L628.7 118.3 L628.8 117.3 L628.9 116.2 L629.0 115.2 L629.1 114.2 L629.1 113.2 L629.2 112.2 L629.3 111.2 L629.4 110.3 L629.5 109.3 L629.5 108.3 L629.6 107.3 L629.7 106.4 L629.7 105.4 L629.8 104.4 L629.9 103.5 L629.9 102.5 L630.0 101.5 L630.1 100.6 L630.1 99.6 L630.2 98.6 L630.2 97.7 L630.3 96.7 L630.3 95.7 L630.4 94.8 L630.4 93.8 L630.5 92.8 L630.5 91.9 L630.6 90.9 L630.6 89.9 L630.7 89.0 L630.7 88.0 L630.8 87.0 L630.9 86.1 L630.9 85.1 L631.0 84.1 L631.0 83.1 L631.1 82.2 L631.1 81.2 L631.2 80.2 L631.3 79.2 L631.3 78.3 L631.4 77.3 L631.5 76.3 L631.5 75.3 L631.6 74.3 L631.7 73.4 L631.7 72.4 L631.8 71.4 L631.9 70.4 L632.0 69.4 L632.1 68.5 L632.1 67.5 L632.2 66.5 L632.3 65.6 L632.4 64.6 L632.5 63.6 L632.6 62.7 L632.6 61.7 L632.7 60.8 L632.8 59.9 L632.9 58.9 L633.0 58.0 L633.1 57.1 L633.2 56.2 L633.3 55.3 L633.4 54.4 L633.5 53.5 L633.6 52.6 L633.7 51.7 L633.8 50.9 L633.9 50.0 L634.0 49.2 L634.1 48.3 L634.2 47.5 L634.3 46.7 L634.4 45.9 L634.5 45.1 L634.6 44.3 L634.7 43.5 L634.8 42.8 L634.9 42.0 L635.1 41.3 L635.2 40.6 L635.3 39.9 L635.4 39.2 L635.5 38.5 L635.6 37.9 L635.7 37.2 L635.8 36.6 L636.0 36.0 L636.1 35.4 L636.2 34.8 L636.3 34.3 L636.4 33.7 L636.5 33.2 L636.6 32.7 L636.7 32.2 L636.9 31.7 L637.0 31.3 L637.1 30.8 L637.2 30.4 L637.3 30.1 L637.4 29.7 L637.5 29.4 L637.7 29.1 L637.8 28.9 L637.9 28.7 L638.0 28.6 L638.1 28.5 L638.2 28.5 L638.3 28.5 L638.4 28.6 L638.6 28.8 L638.7 29.0 L638.8 29.2 L638.9 29.5 L639.0 29.9 L639.1 30.2 L639.2 30.6 L639.3 31.1 L639.4 31.5 L639.6 32.0 L639.7 32.4 L639.8 32.9 L639.9 33.5 L640.0 34.0 L640.1 34.6 L640.2 35.1 L640.4 35.7 L640.5 36.3 L640.6 36.9 L640.7 37.6 L640.8 38.2 L641.0 38.9 L641.1 39.6 L641.2 40.3 L641.3 41.0 L641.4 41.7 L641.6 42.4 L641.7 43.2 L641.8 43.9 L641.9 44.7 L642.0 45.5 L642.2 46.3 L642.3 47.1 L642.4 47.9 L642.5 48.7 L642.6 49.6 L642.8 50.4 L642.9 51.3 L643.0 52.1 L643.1 53.0 L643.2 53.9 L643.3 54.8 L643.5 55.7 L643.6 56.6 L643.7 57.5 L643.8 58.4 L643.9 59.4 L644.0 60.3 L644.1 61.2 L644.2 62.2 L644.3 63.1 L644.5 64.1 L644.6 65.1 L644.7 66.0 L644.8 67.0 L644.9 67.9 L645.0 68.9 L645.1 69.9 L645.2 70.9 L645.3 71.8 L645.4 72.8 L645.5 73.8 L645.6 74.8 L645.6 75.8 L645.7 76.7 L645.8 77.7 L645.9 78.7 L646.0 79.7 L646.1 80.7 L646.2 81.6 L646.2 82.6 L646.3 83.6 L646.4 84.6 L646.5 85.5 L646.5 86.5 L646.6 87.5 L646.7 88.4 L646.8 89.4 L646.8 90.4 L646.9 91.3 L647.0 92.3 L647.0 93.3 L647.1 94.2 L647.2 95.2 L647.2 96.2 L647.3 97.1 L647.3 98.1 L647.4 99.1 L647.5 100.0 L647.5 101.0 L647.6 102.0 L647.7 102.9 L647.7 103.9 L647.8 104.9 L647.8 105.8 L647.9 106.8 L648.0 107.8 L648.0 108.7 L648.1 109.7 L648.2 110.7 L648.2 111.7 L648.3 112.6 L648.4 113.6 L648.5 114.6 L648.5 115.6 L648.6 116.7 L648.7 117.7 L648.8 118.8 L648.9 119.8 L649.0 120.9 L649.1 122.0 L649.2 123.1 L649.4 124.3 L649.5 125.4 L649.6 126.6 L649.8 127.8 L649.9 129.1 L650.1 130.3 L650.3 131.6 L650.4 132.9 L650.6 134.1 L650.8 135.4 L651.0 136.8 L651.2 138.1 L651.4 139.4 L651.5 140.7 L651.7 142.0 L651.9 143.3 L652.1 144.6 L652.3 146.0 L652.5 147.3 L652.6 148.6 L652.8 149.8 L653.0 151.1 L653.1 152.4 L653.3 153.6 L653.4 154.9 L653.6 156.1 L653.8 157.3 L653.9 158.5 L654.0 159.8 L654.2 161.0 L654.3 162.2 L654.5 163.4 L654.6 164.5 L654.8 165.7 L655.0 166.9 L655.1 168.1 L655.3 169.3 L655.4 170.5 L655.6 171.7 L655.8 172.9 L656.0 174.1 L656.2 175.3 L656.4 176.5 L656.6 177.7 L656.8 178.9 L657.0 180.1 L657.2 181.3 L657.4 182.5 L657.7 183.7 L657.9 184.9 L658.1 186.1 L658.4 187.4 L658.6 188.6 L658.9 189.8 L659.2 191.0 L659.5 192.2 L659.7 193.4 L660.0 194.6 L660.3 195.8 L660.6 197.0 L660.9 198.1 L661.2 199.3 L661.6 200.5 L661.9 201.7 L662.2 202.8 L662.6 204.0 L662.9 205.2 L663.3 206.3 L663.6 207.4 L664.0 208.6 L664.4 209.7 L664.8 210.8 L665.1 211.9 L665.5 213.0 L665.9 214.1 L666.4 215.2 L666.8 216.3 L667.2 217.3 L667.6 218.4 L668.1 219.4 L668.5 220.5 L669.0 221.5 L669.4 222.5 L669.9 223.5 L670.4 224.5 L670.8 225.4 L671.3 226.4 L671.8 227.3 L672.3 228.3 L672.8 229.2 L673.3 230.1 L673.9 231.0 L674.4 231.8 L674.9 232.7 L675.5 233.5 L676.0 234.3 L676.6 235.1 L677.2 235.9 L677.8 236.7 L678.3 237.4 L678.9 238.2 L679.5 238.9 L680.1 239.6 L680.8 240.3 L681.4 240.9 L682.0 241.5 L682.7 242.2 L683.3 242.8 L684.0 243.3 L684.6 243.9 L685.3 244.4 L686.0 244.9 L686.7 245.4 L687.4 245.8 L688.1 246.3 L688.8 246.7 L689.5 247.1 L690.2 247.4 L691.0 247.8 L691.7 248.1" fill="none" stroke="#0000ff" stroke-width="2.15" stroke-linejoin="round" clip-path="url(#cl-b)"/>
</g>
<g id="p-c">
<clipPath id="cl-c"><rect x="702.6" y="26.5" width="320.9" height="242.20000000000002"/></clipPath>
<rect x="785.4" y="27.7" width="57.5" height="239.8" fill="#f699a8"/>
<line x1="785.4" y1="27.7" x2="785.4" y2="267.5" stroke="#ee1c25" stroke-width="1.9" stroke-dasharray="0.01 5.99" stroke-linecap="round"/>
<line x1="842.9" y1="27.7" x2="842.9" y2="267.5" stroke="#ee1c25" stroke-width="1.9" stroke-dasharray="0.01 5.99" stroke-linecap="round"/>
<rect x="883.2" y="27.7" width="57.5" height="239.8" fill="#f699a8"/>
<line x1="883.2" y1="27.7" x2="883.2" y2="267.5" stroke="#ee1c25" stroke-width="1.9" stroke-dasharray="0.01 5.99" stroke-linecap="round"/>
<line x1="940.7" y1="27.7" x2="940.7" y2="267.5" stroke="#ee1c25" stroke-width="1.9" stroke-dasharray="0.01 5.99" stroke-linecap="round"/>
<path d="M756.1 27.7v4.2M756.1 267.5v-4.2M809.6 27.7v4.2M809.6 267.5v-4.2M863.0 27.7v4.2M863.0 267.5v-4.2M916.5 27.7v4.2M916.5 267.5v-4.2M970.0 27.7v4.2M970.0 267.5v-4.2M702.6 51.7h4.2M1023.5 51.7h-4.2M702.6 75.7h4.2M1023.5 75.7h-4.2M702.6 99.6h4.2M1023.5 99.6h-4.2M702.6 123.6h4.2M1023.5 123.6h-4.2M702.6 147.6h4.2M1023.5 147.6h-4.2M702.6 171.6h4.2M1023.5 171.6h-4.2M702.6 195.6h4.2M1023.5 195.6h-4.2M702.6 219.5h4.2M1023.5 219.5h-4.2M702.6 243.5h4.2M1023.5 243.5h-4.2" stroke="#231f20" stroke-width="1.35" fill="none"/>
<path d="M702.6 259.6 L703.5 259.5 L704.3 259.3 L705.2 259.2 L706.0 259.0 L706.8 258.8 L707.7 258.6 L708.5 258.3 L709.3 258.1 L710.1 257.8 L710.9 257.5 L711.7 257.2 L712.4 256.9 L713.2 256.5 L714.0 256.2 L714.7 255.8 L715.5 255.4 L716.2 255.0 L716.9 254.6 L717.7 254.1 L718.4 253.7 L719.1 253.2 L719.8 252.7 L720.5 252.2 L721.2 251.7 L721.9 251.1 L722.6 250.6 L723.3 250.0 L723.9 249.4 L724.6 248.8 L725.3 248.2 L725.9 247.6 L726.6 246.9 L727.2 246.3 L727.9 245.6 L728.5 244.9 L729.1 244.2 L729.7 243.5 L730.3 242.8 L731.0 242.1 L731.6 241.3 L732.2 240.6 L732.8 239.8 L733.3 239.0 L733.9 238.2 L734.5 237.4 L735.1 236.6 L735.6 235.8 L736.2 234.9 L736.8 234.1 L737.3 233.2 L737.9 232.3 L738.4 231.5 L739.0 230.6 L739.5 229.7 L740.0 228.7 L740.6 227.8 L741.1 226.9 L741.6 225.9 L742.1 225.0 L742.6 224.0 L743.2 223.1 L743.7 222.1 L744.2 221.1 L744.7 220.1 L745.2 219.1 L745.7 218.1 L746.1 217.0 L746.6 216.0 L747.1 215.0 L747.6 213.9 L748.1 212.9 L748.6 211.8 L749.0 210.8 L749.5 209.7 L750.0 208.6 L750.4 207.5 L750.9 206.4 L751.3 205.3 L751.8 204.2 L752.2 203.1 L752.7 202.0 L753.1 200.9 L753.6 199.8 L754.0 198.6 L754.5 197.5 L754.9 196.4 L755.4 195.3 L755.8 194.1 L756.2 193.0 L756.6 191.9 L757.1 190.7 L757.5 189.6 L757.9 188.5 L758.3 187.3 L758.8 186.2 L759.2 185.1 L759.6 184.0 L760.0 182.8 L760.4 181.7 L760.8 180.6 L761.2 179.5 L761.6 178.4 L762.0 177.3 L762.4 176.2 L762.8 175.1 L763.2 174.0 L763.6 172.9 L764.0 171.8 L764.4 170.8 L764.8 169.7 L765.2 168.7 L765.6 167.6 L765.9 166.6 L766.3 165.6 L766.7 164.6 L767.1 163.6 L767.4 162.6 L767.8 161.6 L768.2 160.6 L768.6 159.6 L769.0 158.5 L769.3 157.5 L769.7 156.5 L770.1 155.4 L770.5 154.4 L770.9 153.3 L771.3 152.2 L771.7 151.0 L772.1 149.9 L772.6 148.7 L773.0 147.5 L773.4 146.2 L773.9 144.9 L774.3 143.6 L774.8 142.2 L775.2 140.8 L775.7 139.4 L776.1 138.0 L776.6 136.6 L777.1 135.1 L777.6 133.6 L778.1 132.1 L778.6 130.6 L779.1 129.1 L779.6 127.6 L780.1 126.1 L780.6 124.6 L781.1 123.0 L781.6 121.5 L782.1 120.0 L782.6 118.5 L783.1 117.0 L783.6 115.5 L784.1 114.0 L784.7 112.5 L785.2 111.0 L785.7 109.6 L786.2 108.2 L786.7 106.8 L787.2 105.4 L787.7 104.0 L788.2 102.6 L788.8 101.3 L789.3 99.9 L789.8 98.6 L790.3 97.3 L790.8 96.0 L791.3 94.7 L791.8 93.4 L792.4 92.1 L792.9 90.8 L793.4 89.5 L793.9 88.3 L794.5 87.0 L795.0 85.8 L795.5 84.5 L796.1 83.3 L796.6 82.0 L797.1 80.8 L797.7 79.6 L798.2 78.3 L798.8 77.1 L799.3 75.9 L799.9 74.7 L800.4 73.4 L801.0 72.2 L801.6 71.0 L802.1 69.8 L802.7 68.7 L803.2 67.5 L803.8 66.3 L804.4 65.1 L805.0 64.0 L805.5 62.8 L806.1 61.7 L806.7 60.6 L807.3 59.5 L807.8 58.4 L808.4 57.3 L809.0 56.2 L809.6 55.1 L810.2 54.1 L810.8 53.0 L811.4 52.0 L811.9 51.0 L812.5 50.0 L813.1 49.0 L813.7 48.0 L814.3 47.1 L814.9 46.1 L815.5 45.2 L816.1 44.3 L816.7 43.4 L817.3 42.5 L817.9 41.7 L818.5 40.8 L819.1 40.0 L819.7 39.2 L820.3 38.4 L820.9 37.7 L821.5 36.9 L822.1 36.2 L822.7 35.5 L823.3 34.8 L823.9 34.2 L824.5 33.6 L825.1 33.0 L825.7 32.4 L826.3 31.8 L826.9 31.3 L827.5 30.8 L828.1 30.3 L828.7 29.8 L829.3 29.4 L829.9 29.0 L830.5 28.7 L831.1 28.4 L831.7 28.1 L832.2 27.9 L832.8 27.8 L833.4 27.7 L833.9 27.7 L834.4 27.7 L835.0 27.8 L835.5 28.0 L836.0 28.2 L836.5 28.5 L836.9 28.8 L837.4 29.2 L837.8 29.6 L838.2 30.1 L838.6 30.6 L838.9 31.2 L839.3 31.9 L839.6 32.5 L839.9 33.2 L840.1 34.0 L840.4 34.8 L840.6 35.6 L840.8 36.4 L841.0 37.2 L841.1 38.1 L841.3 38.9 L841.4 39.8 L841.5 40.7 L841.6 41.6 L841.7 42.5 L841.7 43.4 L841.8 44.3 L841.8 45.1 L841.8 46.0 L841.8 46.9 L841.8 47.8 L841.8 48.7 L841.8 49.6 L841.7 50.5 L841.7 51.4 L841.6 52.3 L841.6 53.2 L841.5 54.1 L841.4 55.0 L841.3 55.9 L841.2 56.8 L841.1 57.7 L841.0 58.6 L840.8 59.5 L840.7 60.4 L840.5 61.4 L840.3 62.3 L840.1 63.2 L839.9 64.2 L839.7 65.1 L839.4 66.1 L839.1 67.0 L838.8 68.0 L838.5 69.0 L838.2 70.0 L837.8 71.0 L837.5 72.0 L837.1 73.0 L836.7 74.0 L836.3 75.1 L835.9 76.1 L835.4 77.1 L835.0 78.2 L834.5 79.2 L834.1 80.3 L833.6 81.4 L833.1 82.4 L832.6 83.5 L832.1 84.6 L831.6 85.7 L831.1 86.8 L830.5 87.8 L830.0 88.9 L829.5 90.0 L828.9 91.1 L828.4 92.2 L827.9 93.3 L827.3 94.4 L826.8 95.5 L826.2 96.6 L825.7 97.7 L825.2 98.8 L824.6 99.9 L824.1 101.0 L823.6 102.1 L823.0 103.2 L822.5 104.3 L822.0 105.3 L821.5 106.4 L821.0 107.5 L820.5 108.6 L820.0 109.7 L819.5 110.7 L819.0 111.8 L818.5 112.9 L818.1 114.0 L817.6 115.0 L817.1 116.1 L816.7 117.1 L816.2 118.2 L815.8 119.2 L815.3 120.3 L814.9 121.3 L814.4 122.4 L814.0 123.4 L813.6 124.5 L813.2 125.5 L812.8 126.5 L812.3 127.5 L811.9 128.6 L811.5 129.6 L811.1 130.6 L810.8 131.6 L810.4 132.6 L810.0 133.6 L809.6 134.6 L809.2 135.6 L808.9 136.6 L808.5 137.6 L808.1 138.6 L807.8 139.6 L807.4 140.5 L807.1 141.5 L806.7 142.5 L806.4 143.4 L806.1 144.4 L805.7 145.3 L805.4 146.3 L805.1 147.2 L804.8 148.2 L804.5 149.1 L804.2 150.0 L803.9 150.9 L803.6 151.9 L803.3 152.8 L803.0 153.7 L802.7 154.6 L802.4 155.5 L802.1 156.4 L801.8 157.3 L801.6 158.1 L801.3 159.0 L801.0 159.9 L800.8 160.8 L800.5 161.7 L800.2 162.6 L800.0 163.5 L799.7 164.4 L799.5 165.3 L799.2 166.2 L798.9 167.1 L798.7 168.0 L798.4 169.0 L798.2 169.9 L797.9 170.9 L797.6 171.8 L797.4 172.8 L797.1 173.8 L796.9 174.7 L796.6 175.7 L796.3 176.7 L796.1 177.7 L795.8 178.7 L795.6 179.6 L795.3 180.6 L795.1 181.6 L794.9 182.5 L794.6 183.5 L794.4 184.4 L794.2 185.4 L793.9 186.3 L793.7 187.2 L793.5 188.1 L793.3 189.1 L793.1 190.0 L792.9 190.8 L792.7 191.7 L792.5 192.6 L792.3 193.5 L792.1 194.3 L791.9 195.2 L791.7 196.0 L791.5 196.9 L791.3 197.7 L791.2 198.6 L791.0 199.4 L790.8 200.2 L790.6 201.1 L790.5 201.9 L790.3 202.7 L790.2 203.5 L790.0 204.3 L789.8 205.2 L789.7 206.0 L789.5 206.8 L789.4 207.6 L789.2 208.4 L789.1 209.2 L789.0 210.0 L788.8 210.8 L788.7 211.7 L788.5 212.5 L788.4 213.3 L788.3 214.1 L788.2 214.9 L788.0 215.8 L787.9 216.6 L787.8 217.4 L787.7 218.2 L787.5 219.1 L787.4 219.9 L787.3 220.8 L787.2 221.6 L787.1 222.4 L787.0 223.3 L786.9 224.1 L786.8 225.0 L786.7 225.9 L786.6 226.7 L786.5 227.6 L786.4 228.4 L786.3 229.2 L786.3 230.1 L786.2 230.9 L786.2 231.8 L786.1 232.6 L786.1 233.4 L786.1 234.2 L786.1 235.1 L786.1 235.9 L786.1 236.7 L786.1 237.5 L786.1 238.3 L786.1 239.0 L786.2 239.8 L786.3 240.6 L786.3 241.3 L786.4 242.1 L786.5 242.8 L786.7 243.5 L786.8 244.2 L786.9 244.9 L787.1 245.6 L787.2 246.3 L787.4 247.0 L787.6 247.7 L787.8 248.3 L788.0 249.0 L788.3 249.6 L788.5 250.2 L788.8 250.8 L789.0 251.4 L789.3 252.0 L789.6 252.6 L789.9 253.2 L790.3 253.7 L790.6 254.3 L791.0 254.8 L791.3 255.3 L791.7 255.8 L792.1 256.3 L792.5 256.8 L792.9 257.3 L793.3 257.8 L793.8 258.2 L794.3 258.7 L794.7 259.1 L795.2 259.5 L795.7 260.0 L796.2 260.4 L796.8 260.7 L797.3 261.1 L797.9 261.5 L798.4 261.8 L799.0 262.2 L799.6 262.5 L800.2 262.8 L800.9 263.1 L801.5 263.4 L802.2 263.7 L802.8 263.9 L803.5 264.2 L804.2 264.4 L804.9 264.6 L805.7 264.9 L806.4 265.1 L807.2 265.2 L808.0 265.4 L808.7 265.6 L809.5 265.7 L810.4 265.9 L811.2 266.0 L812.0 266.1 L812.9 266.2 L813.8 266.3 L814.6 266.3 L815.5 266.4 L816.4 266.5 L817.3 266.5 L818.2 266.6 L819.2 266.6 L820.1 266.6 L821.0 266.7 L821.9 266.7 L822.9 266.7 L823.8 266.7 L824.7 266.7 L825.6 266.7 L826.6 266.7 L827.5 266.7 L828.4 266.7 L829.3 266.7 L830.2 266.7 L831.1 266.7 L832.0 266.8 L832.9 266.8 L833.8 266.8 L834.7 266.8 L835.5 266.8 L836.4 266.9 L837.2 266.9 L838.1 266.9 L838.9 267.0 L839.7 267.0 L840.5 267.1 L841.3 267.1 L842.2 267.2 L843.0 267.2 L843.8 267.3 L844.7 267.3 L845.5 267.4 L846.4 267.4 L847.2 267.5 L848.1 267.5 L849.0 267.5 L849.9 267.6 L850.9 267.6 L851.8 267.6 L852.8 267.6 L853.8 267.6 L854.9 267.6 L855.9 267.6 L857.0 267.6 L858.2 267.6 L859.3 267.6 L860.5 267.5 L861.8 267.5 L863.0 267.4 L863.1 267.4 L864.3 267.5 L865.6 267.5 L866.8 267.6 L867.9 267.6 L869.1 267.6 L870.2 267.6 L871.2 267.6 L872.3 267.6 L873.3 267.6 L874.3 267.6 L875.2 267.6 L876.2 267.6 L877.1 267.5 L878.0 267.5 L878.9 267.5 L879.7 267.4 L880.6 267.4 L881.4 267.3 L882.3 267.3 L883.1 267.2 L883.9 267.2 L884.8 267.1 L885.6 267.1 L886.4 267.0 L887.2 267.0 L888.0 266.9 L888.9 266.9 L889.7 266.9 L890.6 266.8 L891.4 266.8 L892.3 266.8 L893.2 266.8 L894.1 266.8 L895.0 266.7 L895.9 266.7 L896.8 266.7 L897.7 266.7 L898.6 266.7 L899.5 266.7 L900.5 266.7 L901.4 266.7 L902.3 266.7 L903.2 266.7 L904.2 266.7 L905.1 266.7 L906.0 266.6 L906.9 266.6 L907.9 266.6 L908.8 266.5 L909.7 266.5 L910.6 266.4 L911.5 266.3 L912.3 266.3 L913.2 266.2 L914.1 266.1 L914.9 266.0 L915.7 265.9 L916.6 265.7 L917.4 265.6 L918.1 265.4 L918.9 265.2 L919.7 265.1 L920.4 264.9 L921.2 264.6 L921.9 264.4 L922.6 264.2 L923.3 263.9 L923.9 263.7 L924.6 263.4 L925.2 263.1 L925.9 262.8 L926.5 262.5 L927.1 262.2 L927.7 261.8 L928.2 261.5 L928.8 261.1 L929.3 260.7 L929.9 260.4 L930.4 260.0 L930.9 259.5 L931.4 259.1 L931.8 258.7 L932.3 258.2 L932.8 257.8 L933.2 257.3 L933.6 256.8 L934.0 256.3 L934.4 255.8 L934.8 255.3 L935.1 254.8 L935.5 254.3 L935.8 253.7 L936.2 253.2 L936.5 252.6 L936.8 252.0 L937.1 251.4 L937.3 250.8 L937.6 250.2 L937.8 249.6 L938.1 249.0 L938.3 248.3 L938.5 247.7 L938.7 247.0 L938.9 246.3 L939.0 245.6 L939.2 244.9 L939.3 244.2 L939.4 243.5 L939.6 242.8 L939.7 242.1 L939.8 241.3 L939.8 240.6 L939.9 239.8 L940.0 239.0 L940.0 238.3 L940.0 237.5 L940.0 236.7 L940.0 235.9 L940.0 235.1 L940.0 234.2 L940.0 233.4 L940.0 232.6 L939.9 231.8 L939.9 230.9 L939.8 230.1 L939.8 229.2 L939.7 228.4 L939.6 227.6 L939.5 226.7 L939.4 225.9 L939.3 225.0 L939.2 224.1 L939.1 223.3 L939.0 222.4 L938.9 221.6 L938.8 220.8 L938.7 219.9 L938.6 219.1 L938.4 218.2 L938.3 217.4 L938.2 216.6 L938.1 215.8 L937.9 214.9 L937.8 214.1 L937.7 213.3 L937.6 212.5 L937.4 211.7 L937.3 210.8 L937.1 210.0 L937.0 209.2 L936.9 208.4 L936.7 207.6 L936.6 206.8 L936.4 206.0 L936.3 205.2 L936.1 204.3 L935.9 203.5 L935.8 202.7 L935.6 201.9 L935.5 201.1 L935.3 200.2 L935.1 199.4 L934.9 198.6 L934.8 197.7 L934.6 196.9 L934.4 196.0 L934.2 195.2 L934.0 194.3 L933.8 193.5 L933.6 192.6 L933.4 191.7 L933.2 190.8 L933.0 190.0 L932.8 189.1 L932.6 188.1 L932.4 187.2 L932.2 186.3 L931.9 185.4 L931.7 184.4 L931.5 183.5 L931.2 182.5 L931.0 181.6 L930.8 180.6 L930.5 179.6 L930.3 178.7 L930.0 177.7 L929.8 176.7 L929.5 175.7 L929.2 174.7 L929.0 173.8 L928.7 172.8 L928.5 171.8 L928.2 170.9 L927.9 169.9 L927.7 169.0 L927.4 168.0 L927.2 167.1 L926.9 166.2 L926.6 165.3 L926.4 164.4 L926.1 163.5 L925.9 162.6 L925.6 161.7 L925.3 160.8 L925.1 159.9 L924.8 159.0 L924.5 158.1 L924.3 157.3 L924.0 156.4 L923.7 155.5 L923.4 154.6 L923.1 153.7 L922.8 152.8 L922.5 151.9 L922.2 150.9 L921.9 150.0 L921.6 149.1 L921.3 148.2 L921.0 147.2 L920.7 146.3 L920.4 145.3 L920.0 144.4 L919.7 143.4 L919.4 142.5 L919.0 141.5 L918.7 140.5 L918.3 139.6 L918.0 138.6 L917.6 137.6 L917.2 136.6 L916.9 135.6 L916.5 134.6 L916.1 133.6 L915.7 132.6 L915.3 131.6 L915.0 130.6 L914.6 129.6 L914.2 128.6 L913.8 127.5 L913.3 126.5 L912.9 125.5 L912.5 124.5 L912.1 123.4 L911.7 122.4 L911.2 121.3 L910.8 120.3 L910.3 119.2 L909.9 118.2 L909.4 117.1 L909.0 116.1 L908.5 115.0 L908.0 114.0 L907.6 112.9 L907.1 111.8 L906.6 110.7 L906.1 109.7 L905.6 108.6 L905.1 107.5 L904.6 106.4 L904.1 105.3 L903.6 104.3 L903.1 103.2 L902.5 102.1 L902.0 101.0 L901.5 99.9 L900.9 98.8 L900.4 97.7 L899.9 96.6 L899.3 95.5 L898.8 94.4 L898.2 93.3 L897.7 92.2 L897.2 91.1 L896.6 90.0 L896.1 88.9 L895.6 87.8 L895.0 86.8 L894.5 85.7 L894.0 84.6 L893.5 83.5 L893.0 82.4 L892.5 81.4 L892.0 80.3 L891.6 79.2 L891.1 78.2 L890.7 77.1 L890.2 76.1 L889.8 75.1 L889.4 74.0 L889.0 73.0 L888.6 72.0 L888.3 71.0 L887.9 70.0 L887.6 69.0 L887.3 68.0 L887.0 67.0 L886.7 66.1 L886.4 65.1 L886.2 64.2 L886.0 63.2 L885.8 62.3 L885.6 61.4 L885.4 60.4 L885.3 59.5 L885.1 58.6 L885.0 57.7 L884.9 56.8 L884.8 55.9 L884.7 55.0 L884.6 54.1 L884.5 53.2 L884.5 52.3 L884.4 51.4 L884.4 50.5 L884.3 49.6 L884.3 48.7 L884.3 47.8 L884.3 46.9 L884.3 46.0 L884.3 45.1 L884.3 44.3 L884.4 43.4 L884.4 42.5 L884.5 41.6 L884.6 40.7 L884.7 39.8 L884.8 38.9 L885.0 38.1 L885.1 37.2 L885.3 36.4 L885.5 35.6 L885.7 34.8 L886.0 34.0 L886.2 33.2 L886.5 32.5 L886.8 31.9 L887.2 31.2 L887.5 30.6 L887.9 30.1 L888.3 29.6 L888.7 29.2 L889.2 28.8 L889.6 28.5 L890.1 28.2 L890.6 28.0 L891.1 27.8 L891.7 27.7 L892.2 27.7 L892.7 27.7 L893.3 27.8 L893.9 27.9 L894.4 28.1 L895.0 28.4 L895.6 28.7 L896.2 29.0 L896.8 29.4 L897.4 29.8 L898.0 30.3 L898.6 30.8 L899.2 31.3 L899.8 31.8 L900.4 32.4 L901.0 33.0 L901.6 33.6 L902.2 34.2 L902.8 34.8 L903.4 35.5 L904.0 36.2 L904.6 36.9 L905.2 37.7 L905.8 38.4 L906.4 39.2 L907.0 40.0 L907.6 40.8 L908.2 41.7 L908.8 42.5 L909.4 43.4 L910.0 44.3 L910.6 45.2 L911.2 46.1 L911.8 47.1 L912.4 48.0 L913.0 49.0 L913.6 50.0 L914.2 51.0 L914.7 52.0 L915.3 53.0 L915.9 54.1 L916.5 55.1 L917.1 56.2 L917.7 57.3 L918.3 58.4 L918.8 59.5 L919.4 60.6 L920.0 61.7 L920.6 62.8 L921.1 64.0 L921.7 65.1 L922.3 66.3 L922.9 67.5 L923.4 68.7 L924.0 69.8 L924.5 71.0 L925.1 72.2 L925.7 73.4 L926.2 74.7 L926.8 75.9 L927.3 77.1 L927.9 78.3 L928.4 79.6 L929.0 80.8 L929.5 82.0 L930.0 83.3 L930.6 84.5 L931.1 85.8 L931.6 87.0 L932.2 88.3 L932.7 89.5 L933.2 90.8 L933.7 92.1 L934.3 93.4 L934.8 94.7 L935.3 96.0 L935.8 97.3 L936.3 98.6 L936.8 99.9 L937.3 101.3 L937.9 102.6 L938.4 104.0 L938.9 105.4 L939.4 106.8 L939.9 108.2 L940.4 109.6 L940.9 111.0 L941.4 112.5 L942.0 114.0 L942.5 115.5 L943.0 117.0 L943.5 118.5 L944.0 120.0 L944.5 121.5 L945.0 123.0 L945.5 124.6 L946.0 126.1 L946.5 127.6 L947.0 129.1 L947.5 130.6 L948.0 132.1 L948.5 133.6 L949.0 135.1 L949.5 136.6 L950.0 138.0 L950.4 139.4 L950.9 140.8 L951.3 142.2 L951.8 143.6 L952.2 144.9 L952.7 146.2 L953.1 147.5 L953.5 148.7 L954.0 149.9 L954.4 151.0 L954.8 152.2 L955.2 153.3 L955.6 154.4 L956.0 155.4 L956.4 156.5 L956.8 157.5 L957.1 158.5 L957.5 159.6 L957.9 160.6 L958.3 161.6 L958.7 162.6 L959.0 163.6 L959.4 164.6 L959.8 165.6 L960.2 166.6 L960.5 167.6 L960.9 168.7 L961.3 169.7 L961.7 170.8 L962.1 171.8 L962.5 172.9 L962.9 174.0 L963.3 175.1 L963.7 176.2 L964.1 177.3 L964.5 178.4 L964.9 179.5 L965.3 180.6 L965.7 181.7 L966.1 182.8 L966.5 184.0 L966.9 185.1 L967.3 186.2 L967.8 187.3 L968.2 188.5 L968.6 189.6 L969.0 190.7 L969.5 191.9 L969.9 193.0 L970.3 194.1 L970.7 195.3 L971.2 196.4 L971.6 197.5 L972.1 198.6 L972.5 199.8 L973.0 200.9 L973.4 202.0 L973.9 203.1 L974.3 204.2 L974.8 205.3 L975.2 206.4 L975.7 207.5 L976.1 208.6 L976.6 209.7 L977.1 210.8 L977.5 211.8 L978.0 212.9 L978.5 213.9 L979.0 215.0 L979.5 216.0 L980.0 217.0 L980.4 218.1 L980.9 219.1 L981.4 220.1 L981.9 221.1 L982.4 222.1 L982.9 223.1 L983.5 224.0 L984.0 225.0 L984.5 225.9 L985.0 226.9 L985.5 227.8 L986.1 228.7 L986.6 229.7 L987.1 230.6 L987.7 231.5 L988.2 232.3 L988.8 233.2 L989.3 234.1 L989.9 234.9 L990.5 235.8 L991.0 236.6 L991.6 237.4 L992.2 238.2 L992.8 239.0 L993.3 239.8 L993.9 240.6 L994.5 241.3 L995.1 242.1 L995.8 242.8 L996.4 243.5 L997.0 244.2 L997.6 244.9 L998.2 245.6 L998.9 246.3 L999.5 246.9 L1000.2 247.6 L1000.8 248.2 L1001.5 248.8 L1002.2 249.4 L1002.8 250.0 L1003.5 250.6 L1004.2 251.1 L1004.9 251.7 L1005.6 252.2 L1006.3 252.7 L1007.0 253.2 L1007.7 253.7 L1008.4 254.1 L1009.2 254.6 L1009.9 255.0 L1010.6 255.4 L1011.4 255.8 L1012.1 256.2 L1012.9 256.5 L1013.7 256.9 L1014.4 257.2 L1015.2 257.5 L1016.0 257.8 L1016.8 258.1 L1017.6 258.3 L1018.4 258.6 L1019.3 258.8 L1020.1 259.0 L1020.9 259.2 L1021.8 259.3 L1022.6 259.5 L1023.5 259.6" fill="none" stroke="#0000ff" stroke-width="2.15" stroke-linejoin="round" clip-path="url(#cl-c)"/>
<rect x="702.6" y="27.7" width="320.9" height="239.8" fill="none" stroke="#231f20" stroke-width="1.5"/>
</g>
<g id="p-d">
<clipPath id="cl-d"><rect x="1035.2" y="26.5" width="321.0" height="242.20000000000002"/></clipPath>
<rect x="1131.0" y="27.7" width="129.4" height="239.8" fill="#f699a8"/>
<line x1="1131.0" y1="27.7" x2="1131.0" y2="270.1" stroke="#ee1c25" stroke-width="1.9" stroke-dasharray="0.01 5.99" stroke-linecap="round"/>
<line x1="1260.4" y1="27.7" x2="1260.4" y2="270.1" stroke="#ee1c25" stroke-width="1.9" stroke-dasharray="0.01 5.99" stroke-linecap="round"/>
<path d="M1088.7 27.7v4.2M1088.7 267.5v-4.2M1142.2 27.7v4.2M1142.2 267.5v-4.2M1195.7 27.7v4.2M1195.7 267.5v-4.2M1249.2 27.7v4.2M1249.2 267.5v-4.2M1302.7 27.7v4.2M1302.7 267.5v-4.2M1035.2 51.7h4.2M1356.2 51.7h-4.2M1035.2 75.7h4.2M1356.2 75.7h-4.2M1035.2 99.6h4.2M1356.2 99.6h-4.2M1035.2 123.6h4.2M1356.2 123.6h-4.2M1035.2 147.6h4.2M1356.2 147.6h-4.2M1035.2 171.6h4.2M1356.2 171.6h-4.2M1035.2 195.6h4.2M1356.2 195.6h-4.2M1035.2 219.5h4.2M1356.2 219.5h-4.2M1035.2 243.5h4.2M1356.2 243.5h-4.2" stroke="#231f20" stroke-width="1.35" fill="none"/>
<path d="M1035.2 264.8 L1036.0 264.7 L1036.8 264.6 L1037.7 264.5 L1038.6 264.4 L1039.5 264.2 L1040.4 264.1 L1041.4 264.0 L1042.3 263.8 L1043.3 263.7 L1044.3 263.5 L1045.3 263.4 L1046.4 263.2 L1047.4 263.0 L1048.5 262.9 L1049.5 262.7 L1050.6 262.5 L1051.7 262.3 L1052.8 262.1 L1053.9 261.8 L1055.0 261.6 L1056.1 261.4 L1057.2 261.1 L1058.3 260.9 L1059.4 260.6 L1060.6 260.3 L1061.7 260.0 L1062.8 259.7 L1063.9 259.4 L1065.0 259.1 L1066.1 258.7 L1067.2 258.4 L1068.3 258.0 L1069.4 257.6 L1070.5 257.3 L1071.6 256.9 L1072.7 256.5 L1073.8 256.1 L1074.9 255.7 L1076.0 255.2 L1077.1 254.8 L1078.2 254.4 L1079.3 253.9 L1080.4 253.4 L1081.4 253.0 L1082.5 252.5 L1083.6 252.0 L1084.7 251.5 L1085.8 251.0 L1086.8 250.5 L1087.9 250.0 L1089.0 249.5 L1090.1 249.0 L1091.1 248.4 L1092.2 247.9 L1093.3 247.3 L1094.3 246.8 L1095.4 246.2 L1096.5 245.7 L1097.5 245.1 L1098.6 244.5 L1099.6 243.9 L1100.7 243.4 L1101.7 242.8 L1102.8 242.2 L1103.8 241.6 L1104.8 241.0 L1105.9 240.4 L1106.9 239.9 L1107.9 239.3 L1109.0 238.7 L1110.0 238.1 L1111.0 237.5 L1112.0 236.9 L1113.0 236.4 L1114.0 235.8 L1115.0 235.2 L1116.0 234.6 L1117.0 234.1 L1118.0 233.5 L1119.0 232.9 L1119.9 232.4 L1120.9 231.8 L1121.9 231.3 L1122.8 230.8 L1123.8 230.2 L1124.7 229.7 L1125.7 229.2 L1126.6 228.7 L1127.5 228.2 L1128.5 227.7 L1129.4 227.1 L1130.3 226.6 L1131.2 226.1 L1132.1 225.6 L1133.1 225.1 L1134.0 224.6 L1134.9 224.1 L1135.8 223.6 L1136.7 223.1 L1137.6 222.6 L1138.5 222.1 L1139.3 221.6 L1140.2 221.1 L1141.1 220.7 L1141.9 220.2 L1142.8 219.7 L1143.6 219.2 L1144.5 218.7 L1145.3 218.2 L1146.2 217.7 L1147.0 217.1 L1147.8 216.6 L1148.6 216.1 L1149.4 215.6 L1150.2 215.1 L1150.9 214.6 L1151.7 214.1 L1152.5 213.5 L1153.2 213.0 L1153.9 212.5 L1154.7 211.9 L1155.4 211.4 L1156.1 210.8 L1156.8 210.3 L1157.5 209.7 L1158.2 209.2 L1158.8 208.6 L1159.5 208.0 L1160.1 207.5 L1160.7 206.9 L1161.3 206.3 L1161.9 205.7 L1162.5 205.1 L1163.1 204.5 L1163.6 203.9 L1164.2 203.3 L1164.7 202.7 L1165.2 202.1 L1165.7 201.5 L1166.2 200.9 L1166.6 200.3 L1167.1 199.7 L1167.5 199.0 L1167.9 198.4 L1168.3 197.8 L1168.7 197.1 L1169.1 196.5 L1169.4 195.9 L1169.8 195.2 L1170.1 194.6 L1170.4 193.9 L1170.8 193.3 L1171.1 192.6 L1171.4 191.9 L1171.6 191.3 L1171.9 190.6 L1172.2 189.9 L1172.5 189.2 L1172.8 188.5 L1173.0 187.8 L1173.3 187.1 L1173.6 186.3 L1173.8 185.6 L1174.1 184.8 L1174.3 184.0 L1174.6 183.2 L1174.9 182.4 L1175.1 181.6 L1175.4 180.7 L1175.6 179.9 L1175.9 179.0 L1176.1 178.1 L1176.4 177.2 L1176.7 176.3 L1176.9 175.3 L1177.2 174.4 L1177.4 173.5 L1177.7 172.5 L1177.9 171.5 L1178.2 170.6 L1178.4 169.6 L1178.6 168.6 L1178.9 167.6 L1179.1 166.6 L1179.3 165.6 L1179.6 164.6 L1179.8 163.6 L1180.0 162.6 L1180.2 161.6 L1180.4 160.6 L1180.6 159.5 L1180.8 158.5 L1181.0 157.5 L1181.2 156.5 L1181.4 155.5 L1181.6 154.4 L1181.8 153.4 L1182.0 152.4 L1182.2 151.4 L1182.3 150.3 L1182.5 149.3 L1182.7 148.3 L1182.8 147.2 L1183.0 146.2 L1183.2 145.2 L1183.3 144.1 L1183.5 143.1 L1183.6 142.1 L1183.8 141.0 L1183.9 140.0 L1184.1 139.0 L1184.2 137.9 L1184.4 136.9 L1184.5 135.9 L1184.6 134.8 L1184.8 133.8 L1184.9 132.7 L1185.1 131.7 L1185.2 130.7 L1185.3 129.6 L1185.4 128.6 L1185.6 127.6 L1185.7 126.5 L1185.8 125.5 L1185.9 124.4 L1186.1 123.4 L1186.2 122.3 L1186.3 121.3 L1186.4 120.3 L1186.5 119.2 L1186.6 118.2 L1186.7 117.1 L1186.9 116.1 L1187.0 115.0 L1187.1 114.0 L1187.2 112.9 L1187.3 111.9 L1187.4 110.8 L1187.5 109.8 L1187.6 108.7 L1187.7 107.7 L1187.8 106.6 L1187.9 105.5 L1187.9 104.5 L1188.0 103.4 L1188.1 102.3 L1188.2 101.3 L1188.3 100.2 L1188.4 99.1 L1188.5 98.1 L1188.5 97.0 L1188.6 95.9 L1188.7 94.9 L1188.8 93.8 L1188.8 92.7 L1188.9 91.6 L1189.0 90.5 L1189.0 89.5 L1189.1 88.4 L1189.2 87.3 L1189.2 86.2 L1189.3 85.1 L1189.4 84.0 L1189.4 82.9 L1189.5 81.8 L1189.6 80.7 L1189.6 79.6 L1189.7 78.5 L1189.8 77.4 L1189.9 76.3 L1189.9 75.2 L1190.0 74.1 L1190.1 73.0 L1190.1 71.9 L1190.2 70.8 L1190.3 69.6 L1190.4 68.5 L1190.4 67.4 L1190.5 66.3 L1190.6 65.2 L1190.7 64.0 L1190.8 62.9 L1190.9 61.8 L1190.9 60.7 L1191.0 59.5 L1191.1 58.4 L1191.2 57.3 L1191.3 56.2 L1191.4 55.1 L1191.5 54.0 L1191.6 52.8 L1191.7 51.7 L1191.8 50.6 L1191.9 49.6 L1192.0 48.5 L1192.1 47.4 L1192.2 46.3 L1192.4 45.3 L1192.5 44.2 L1192.6 43.2 L1192.7 42.2 L1192.8 41.2 L1192.9 40.3 L1193.0 39.4 L1193.2 38.4 L1193.3 37.6 L1193.4 36.7 L1193.5 35.9 L1193.6 35.1 L1193.8 34.3 L1193.9 33.6 L1194.0 32.9 L1194.1 32.2 L1194.3 31.6 L1194.4 31.0 L1194.5 30.5 L1194.7 30.0 L1194.8 29.5 L1195.0 29.1 L1195.1 28.7 L1195.2 28.4 L1195.4 28.1 L1195.5 27.9 L1195.7 27.7 L1195.7 27.7 L1195.9 27.9 L1196.0 28.1 L1196.2 28.4 L1196.3 28.7 L1196.4 29.1 L1196.6 29.5 L1196.7 30.0 L1196.9 30.5 L1197.0 31.0 L1197.1 31.6 L1197.3 32.2 L1197.4 32.9 L1197.5 33.6 L1197.6 34.3 L1197.8 35.1 L1197.9 35.9 L1198.0 36.7 L1198.1 37.6 L1198.2 38.4 L1198.4 39.4 L1198.5 40.3 L1198.6 41.2 L1198.7 42.2 L1198.8 43.2 L1198.9 44.2 L1199.0 45.3 L1199.2 46.3 L1199.3 47.4 L1199.4 48.5 L1199.5 49.6 L1199.6 50.6 L1199.7 51.7 L1199.8 52.8 L1199.9 54.0 L1200.0 55.1 L1200.1 56.2 L1200.2 57.3 L1200.3 58.4 L1200.4 59.5 L1200.5 60.7 L1200.5 61.8 L1200.6 62.9 L1200.7 64.0 L1200.8 65.2 L1200.9 66.3 L1201.0 67.4 L1201.0 68.5 L1201.1 69.6 L1201.2 70.8 L1201.3 71.9 L1201.3 73.0 L1201.4 74.1 L1201.5 75.2 L1201.5 76.3 L1201.6 77.4 L1201.7 78.5 L1201.8 79.6 L1201.8 80.7 L1201.9 81.8 L1202.0 82.9 L1202.0 84.0 L1202.1 85.1 L1202.2 86.2 L1202.2 87.3 L1202.3 88.4 L1202.4 89.5 L1202.4 90.5 L1202.5 91.6 L1202.6 92.7 L1202.6 93.8 L1202.7 94.9 L1202.8 95.9 L1202.9 97.0 L1202.9 98.1 L1203.0 99.1 L1203.1 100.2 L1203.2 101.3 L1203.3 102.3 L1203.4 103.4 L1203.5 104.5 L1203.5 105.5 L1203.6 106.6 L1203.7 107.7 L1203.8 108.7 L1203.9 109.8 L1204.0 110.8 L1204.1 111.9 L1204.2 112.9 L1204.3 114.0 L1204.4 115.0 L1204.5 116.1 L1204.7 117.1 L1204.8 118.2 L1204.9 119.2 L1205.0 120.3 L1205.1 121.3 L1205.2 122.3 L1205.3 123.4 L1205.5 124.4 L1205.6 125.5 L1205.7 126.5 L1205.8 127.6 L1206.0 128.6 L1206.1 129.6 L1206.2 130.7 L1206.3 131.7 L1206.5 132.7 L1206.6 133.8 L1206.8 134.8 L1206.9 135.9 L1207.0 136.9 L1207.2 137.9 L1207.3 139.0 L1207.5 140.0 L1207.6 141.0 L1207.8 142.1 L1207.9 143.1 L1208.1 144.1 L1208.2 145.2 L1208.4 146.2 L1208.6 147.2 L1208.7 148.3 L1208.9 149.3 L1209.1 150.3 L1209.2 151.4 L1209.4 152.4 L1209.6 153.4 L1209.8 154.4 L1210.0 155.5 L1210.2 156.5 L1210.4 157.5 L1210.6 158.5 L1210.8 159.5 L1211.0 160.6 L1211.2 161.6 L1211.4 162.6 L1211.6 163.6 L1211.8 164.6 L1212.1 165.6 L1212.3 166.6 L1212.5 167.6 L1212.8 168.6 L1213.0 169.6 L1213.2 170.6 L1213.5 171.5 L1213.7 172.5 L1214.0 173.5 L1214.2 174.4 L1214.5 175.3 L1214.7 176.3 L1215.0 177.2 L1215.3 178.1 L1215.5 179.0 L1215.8 179.9 L1216.0 180.7 L1216.3 181.6 L1216.5 182.4 L1216.8 183.2 L1217.1 184.0 L1217.3 184.8 L1217.6 185.6 L1217.8 186.3 L1218.1 187.1 L1218.4 187.8 L1218.6 188.5 L1218.9 189.2 L1219.2 189.9 L1219.5 190.6 L1219.8 191.3 L1220.0 191.9 L1220.3 192.6 L1220.6 193.3 L1221.0 193.9 L1221.3 194.6 L1221.6 195.2 L1222.0 195.9 L1222.3 196.5 L1222.7 197.1 L1223.1 197.8 L1223.5 198.4 L1223.9 199.0 L1224.3 199.7 L1224.8 200.3 L1225.2 200.9 L1225.7 201.5 L1226.2 202.1 L1226.7 202.7 L1227.2 203.3 L1227.8 203.9 L1228.3 204.5 L1228.9 205.1 L1229.5 205.7 L1230.1 206.3 L1230.7 206.9 L1231.3 207.5 L1231.9 208.0 L1232.6 208.6 L1233.2 209.2 L1233.9 209.7 L1234.6 210.3 L1235.3 210.8 L1236.0 211.4 L1236.7 211.9 L1237.5 212.5 L1238.2 213.0 L1238.9 213.5 L1239.7 214.1 L1240.5 214.6 L1241.2 215.1 L1242.0 215.6 L1242.8 216.1 L1243.6 216.6 L1244.4 217.1 L1245.2 217.7 L1246.1 218.2 L1246.9 218.7 L1247.8 219.2 L1248.6 219.7 L1249.5 220.2 L1250.3 220.7 L1251.2 221.1 L1252.1 221.6 L1252.9 222.1 L1253.8 222.6 L1254.7 223.1 L1255.6 223.6 L1256.5 224.1 L1257.4 224.6 L1258.3 225.1 L1259.3 225.6 L1260.2 226.1 L1261.1 226.6 L1262.0 227.1 L1262.9 227.7 L1263.9 228.2 L1264.8 228.7 L1265.7 229.2 L1266.7 229.7 L1267.6 230.2 L1268.6 230.8 L1269.5 231.3 L1270.5 231.8 L1271.5 232.4 L1272.4 232.9 L1273.4 233.5 L1274.4 234.1 L1275.4 234.6 L1276.4 235.2 L1277.4 235.8 L1278.4 236.4 L1279.4 236.9 L1280.4 237.5 L1281.4 238.1 L1282.4 238.7 L1283.5 239.3 L1284.5 239.9 L1285.5 240.4 L1286.6 241.0 L1287.6 241.6 L1288.6 242.2 L1289.7 242.8 L1290.7 243.4 L1291.8 243.9 L1292.8 244.5 L1293.9 245.1 L1294.9 245.7 L1296.0 246.2 L1297.1 246.8 L1298.1 247.3 L1299.2 247.9 L1300.3 248.4 L1301.3 249.0 L1302.4 249.5 L1303.5 250.0 L1304.6 250.5 L1305.6 251.0 L1306.7 251.5 L1307.8 252.0 L1308.9 252.5 L1310.0 253.0 L1311.0 253.4 L1312.1 253.9 L1313.2 254.4 L1314.3 254.8 L1315.4 255.2 L1316.5 255.7 L1317.6 256.1 L1318.7 256.5 L1319.8 256.9 L1320.9 257.3 L1322.0 257.6 L1323.1 258.0 L1324.2 258.4 L1325.3 258.7 L1326.4 259.1 L1327.5 259.4 L1328.6 259.7 L1329.7 260.0 L1330.8 260.3 L1332.0 260.6 L1333.1 260.9 L1334.2 261.1 L1335.3 261.4 L1336.4 261.6 L1337.5 261.8 L1338.6 262.1 L1339.7 262.3 L1340.8 262.5 L1341.9 262.7 L1342.9 262.9 L1344.0 263.0 L1345.0 263.2 L1346.1 263.4 L1347.1 263.5 L1348.1 263.7 L1349.1 263.8 L1350.0 264.0 L1351.0 264.1 L1351.9 264.2 L1352.8 264.4 L1353.7 264.5 L1354.6 264.6 L1355.4 264.7 L1356.2 264.8" fill="none" stroke="#0000ff" stroke-width="2.15" stroke-linejoin="round" clip-path="url(#cl-d)"/>
<path d="M1195.7 266.8 L1193.6 266.8 L1191.5 266.8 L1189.4 266.8 L1187.5 266.8 L1185.5 266.7 L1183.7 266.7 L1181.8 266.7 L1180.0 266.7 L1178.3 266.7 L1176.6 266.7 L1175.0 266.7 L1173.4 266.7 L1171.8 266.7 L1170.3 266.7 L1168.8 266.7 L1167.3 266.7 L1165.9 266.7 L1164.5 266.7 L1163.2 266.7 L1161.9 266.7 L1160.6 266.7 L1159.3 266.6 L1158.1 266.6 L1156.9 266.6 L1155.7 266.6 L1154.5 266.6 L1153.4 266.5 L1152.3 266.5 L1151.2 266.5 L1150.1 266.4 L1149.1 266.4 L1148.0 266.3 L1147.0 266.3 L1146.0 266.2 L1145.0 266.1 L1144.0 266.1 L1143.1 266.0 L1142.2 265.9 L1141.3 265.8 L1140.4 265.7 L1139.6 265.6 L1138.8 265.4 L1138.0 265.3 L1137.2 265.1 L1136.5 264.9 L1135.8 264.7 L1135.1 264.5 L1134.5 264.3 L1133.9 264.1 L1133.3 263.8 L1132.8 263.6 L1132.4 263.3 L1132.0 263.0 L1131.8 262.7 L1131.6 262.3 L1131.4 262.0 L1131.4 261.6 L1131.5 261.3 L1131.8 260.9 L1132.1 260.5 L1132.5 260.1 L1133.0 259.7 L1133.6 259.3 L1134.2 258.8 L1134.9 258.4 L1135.7 258.0 L1136.5 257.6 L1137.4 257.2 L1138.2 256.8 L1139.2 256.4 L1140.1 256.0 L1141.1 255.6 L1142.0 255.3 L1143.0 254.9 L1144.0 254.6 L1145.0 254.3 L1146.0 254.0 L1147.0 253.7 L1148.0 253.5 L1149.0 253.2 L1150.0 253.0 L1151.0 252.7 L1152.1 252.5 L1153.1 252.4 L1154.1 252.2 L1155.2 252.0 L1156.2 251.9 L1157.2 251.8 L1158.3 251.7 L1159.3 251.6 L1160.3 251.5 L1161.4 251.5 L1162.4 251.5 L1163.4 251.5 L1164.5 251.5 L1165.5 251.5 L1166.5 251.6 L1167.5 251.6 L1168.5 251.7 L1169.5 251.8 L1170.5 252.0 L1171.5 252.1 L1172.4 252.3 L1173.4 252.5 L1174.3 252.8 L1175.3 253.0 L1176.2 253.3 L1177.1 253.6 L1178.0 253.9 L1178.9 254.3 L1179.8 254.6 L1180.6 255.0 L1181.5 255.4 L1182.3 255.9 L1183.1 256.3 L1183.9 256.8 L1184.7 257.3 L1185.5 257.7 L1186.2 258.2 L1187.0 258.7 L1187.7 259.1 L1188.4 259.6 L1189.1 260.0 L1189.8 260.5 L1190.5 260.9 L1191.1 261.2 L1191.8 261.6 L1192.4 261.9 L1193.0 262.2 L1193.6 262.4 L1194.2 262.6 L1194.8 262.7 L1195.3 262.8 L1195.9 262.8 L1196.4 262.8 L1197.0 262.7 L1197.5 262.6 L1198.0 262.4 L1198.5 262.2 L1199.1 261.9 L1199.6 261.6 L1200.1 261.3 L1200.7 260.9 L1201.3 260.5 L1201.9 260.1 L1202.6 259.6 L1203.3 259.2 L1204.0 258.7 L1204.7 258.3 L1205.5 257.8 L1206.3 257.3 L1207.2 256.8 L1208.0 256.4 L1208.9 255.9 L1209.8 255.5 L1210.7 255.1 L1211.6 254.7 L1212.6 254.3 L1213.5 254.0 L1214.4 253.6 L1215.4 253.3 L1216.4 253.1 L1217.3 252.8 L1218.3 252.6 L1219.2 252.3 L1220.2 252.1 L1221.2 252.0 L1222.1 251.8 L1223.1 251.7 L1224.1 251.6 L1225.1 251.5 L1226.0 251.4 L1227.0 251.4 L1228.0 251.3 L1229.0 251.3 L1230.0 251.4 L1231.0 251.4 L1232.0 251.5 L1233.0 251.5 L1234.0 251.6 L1235.0 251.7 L1236.0 251.9 L1237.0 252.0 L1238.1 252.2 L1239.1 252.4 L1240.2 252.7 L1241.2 252.9 L1242.3 253.2 L1243.4 253.4 L1244.4 253.7 L1245.5 254.0 L1246.6 254.4 L1247.6 254.7 L1248.6 255.1 L1249.6 255.4 L1250.6 255.8 L1251.6 256.2 L1252.5 256.6 L1253.4 257.0 L1254.2 257.4 L1255.0 257.8 L1255.8 258.2 L1256.5 258.6 L1257.1 259.0 L1257.7 259.3 L1258.3 259.7 L1258.7 260.1 L1259.1 260.5 L1259.4 260.9 L1259.7 261.2 L1259.8 261.6 L1259.9 261.9 L1259.8 262.3 L1259.7 262.6 L1259.4 262.9 L1259.1 263.2 L1258.8 263.5 L1258.3 263.8 L1257.8 264.0 L1257.2 264.2 L1256.5 264.5 L1255.8 264.7 L1255.1 264.9 L1254.3 265.1 L1253.5 265.2 L1252.6 265.4 L1251.8 265.5 L1250.9 265.7 L1249.9 265.8 L1249.0 265.9 L1248.1 266.0 L1247.2 266.1 L1246.2 266.2 L1245.2 266.3 L1244.3 266.3 L1243.3 266.4 L1242.2 266.5 L1241.2 266.5 L1240.2 266.5 L1239.1 266.6 L1238.0 266.6 L1236.9 266.6 L1235.7 266.6 L1234.6 266.6 L1233.4 266.7 L1232.1 266.7 L1230.9 266.7 L1229.6 266.7 L1228.3 266.7 L1226.9 266.6 L1225.6 266.6 L1224.2 266.6 L1222.7 266.6 L1221.2 266.6 L1219.7 266.6 L1218.1 266.6 L1216.5 266.6 L1214.8 266.6 L1213.1 266.6 L1211.4 266.6 L1209.6 266.6 L1207.8 266.6 L1205.9 266.6 L1204.0 266.7 L1202.0 266.7 L1199.9 266.7 L1197.8 266.8 L1195.7 266.8" fill="none" stroke="#0000ff" stroke-width="2.15" stroke-linejoin="round" clip-path="url(#cl-d)"/>
<rect x="1035.2" y="27.7" width="321.0" height="239.8" fill="none" stroke="#231f20" stroke-width="1.5"/>
</g>
<g id="p-e">
<clipPath id="cl-e"><rect x="1368.0" y="26.5" width="321.0" height="242.20000000000002"/></clipPath>
<rect x="1368.0" y="27.7" width="321.0" height="239.8" fill="none" stroke="#231f20" stroke-width="1.5"/>
<path d="M1421.5 27.7v4.2M1421.5 267.5v-4.2M1475.0 27.7v4.2M1475.0 267.5v-4.2M1528.5 27.7v4.2M1528.5 267.5v-4.2M1582.0 27.7v4.2M1582.0 267.5v-4.2M1635.5 27.7v4.2M1635.5 267.5v-4.2M1368.0 51.7h4.2M1689.0 51.7h-4.2M1368.0 75.7h4.2M1689.0 75.7h-4.2M1368.0 99.6h4.2M1689.0 99.6h-4.2M1368.0 123.6h4.2M1689.0 123.6h-4.2M1368.0 147.6h4.2M1689.0 147.6h-4.2M1368.0 171.6h4.2M1689.0 171.6h-4.2M1368.0 195.6h4.2M1689.0 195.6h-4.2M1368.0 219.5h4.2M1689.0 219.5h-4.2M1368.0 243.5h4.2M1689.0 243.5h-4.2" stroke="#231f20" stroke-width="1.35" fill="none"/>
<path d="M1368.0 265.0 L1368.2 265.0 L1368.4 265.0 L1368.6 265.0 L1368.9 264.9 L1369.1 264.9 L1369.3 264.9 L1369.5 264.9 L1369.7 264.9 L1369.9 264.9 L1370.1 264.9 L1370.4 264.9 L1370.6 264.9 L1370.8 264.8 L1371.0 264.8 L1371.2 264.8 L1371.4 264.8 L1371.6 264.8 L1371.9 264.8 L1372.1 264.8 L1372.3 264.8 L1372.5 264.7 L1372.7 264.7 L1372.9 264.7 L1373.1 264.7 L1373.3 264.7 L1373.6 264.7 L1373.8 264.7 L1374.0 264.7 L1374.2 264.7 L1374.4 264.6 L1374.6 264.6 L1374.8 264.6 L1375.1 264.6 L1375.3 264.6 L1375.5 264.6 L1375.7 264.6 L1375.9 264.6 L1376.1 264.5 L1376.3 264.5 L1376.6 264.5 L1376.8 264.5 L1377.0 264.5 L1377.2 264.5 L1377.4 264.5 L1377.6 264.5 L1377.8 264.4 L1378.1 264.4 L1378.3 264.4 L1378.5 264.4 L1378.7 264.4 L1378.9 264.4 L1379.1 264.4 L1379.3 264.4 L1379.6 264.3 L1379.8 264.3 L1380.0 264.3 L1380.2 264.3 L1380.4 264.3 L1380.6 264.3 L1380.8 264.3 L1381.1 264.3 L1381.3 264.2 L1381.5 264.2 L1381.7 264.2 L1381.9 264.2 L1382.1 264.2 L1382.3 264.2 L1382.6 264.2 L1382.8 264.1 L1383.0 264.1 L1383.2 264.1 L1383.4 264.1 L1383.6 264.1 L1383.8 264.1 L1384.0 264.1 L1384.3 264.0 L1384.5 264.0 L1384.7 264.0 L1384.9 264.0 L1385.1 264.0 L1385.3 264.0 L1385.5 264.0 L1385.8 263.9 L1386.0 263.9 L1386.2 263.9 L1386.4 263.9 L1386.6 263.9 L1386.8 263.9 L1387.0 263.9 L1387.3 263.8 L1387.5 263.8 L1387.7 263.8 L1387.9 263.8 L1388.1 263.8 L1388.3 263.8 L1388.5 263.8 L1388.8 263.7 L1389.0 263.7 L1389.2 263.7 L1389.4 263.7 L1389.6 263.7 L1389.8 263.7 L1390.0 263.7 L1390.3 263.6 L1390.5 263.6 L1390.7 263.6 L1390.9 263.6 L1391.1 263.6 L1391.3 263.6 L1391.5 263.5 L1391.8 263.5 L1392.0 263.5 L1392.2 263.5 L1392.4 263.5 L1392.6 263.5 L1392.8 263.5 L1393.0 263.4 L1393.3 263.4 L1393.5 263.4 L1393.7 263.4 L1393.9 263.4 L1394.1 263.4 L1394.3 263.3 L1394.5 263.3 L1394.8 263.3 L1395.0 263.3 L1395.2 263.3 L1395.4 263.3 L1395.6 263.2 L1395.8 263.2 L1396.0 263.2 L1396.2 263.2 L1396.5 263.2 L1396.7 263.2 L1396.9 263.2 L1397.1 263.1 L1397.3 263.1 L1397.5 263.1 L1397.7 263.1 L1398.0 263.1 L1398.2 263.1 L1398.4 263.0 L1398.6 263.0 L1398.8 263.0 L1399.0 263.0 L1399.2 263.0 L1399.5 263.0 L1399.7 262.9 L1399.9 262.9 L1400.1 262.9 L1400.3 262.9 L1400.5 262.9 L1400.7 262.8 L1401.0 262.8 L1401.2 262.8 L1401.4 262.8 L1401.6 262.8 L1401.8 262.8 L1402.0 262.7 L1402.2 262.7 L1402.5 262.7 L1402.7 262.7 L1402.9 262.7 L1403.1 262.7 L1403.3 262.6 L1403.5 262.6 L1403.7 262.6 L1404.0 262.6 L1404.2 262.6 L1404.4 262.5 L1404.6 262.5 L1404.8 262.5 L1405.0 262.5 L1405.2 262.5 L1405.5 262.5 L1405.7 262.4 L1405.9 262.4 L1406.1 262.4 L1406.3 262.4 L1406.5 262.4 L1406.7 262.3 L1406.9 262.3 L1407.2 262.3 L1407.4 262.3 L1407.6 262.3 L1407.8 262.3 L1408.0 262.2 L1408.2 262.2 L1408.4 262.2 L1408.7 262.2 L1408.9 262.2 L1409.1 262.1 L1409.3 262.1 L1409.5 262.1 L1409.7 262.1 L1409.9 262.1 L1410.2 262.0 L1410.4 262.0 L1410.6 262.0 L1410.8 262.0 L1411.0 262.0 L1411.2 261.9 L1411.4 261.9 L1411.7 261.9 L1411.9 261.9 L1412.1 261.9 L1412.3 261.8 L1412.5 261.8 L1412.7 261.8 L1412.9 261.8 L1413.2 261.8 L1413.4 261.7 L1413.6 261.7 L1413.8 261.7 L1414.0 261.7 L1414.2 261.7 L1414.4 261.6 L1414.7 261.6 L1414.9 261.6 L1415.1 261.6 L1415.3 261.6 L1415.5 261.5 L1415.7 261.5 L1415.9 261.5 L1416.2 261.5 L1416.4 261.5 L1416.6 261.4 L1416.8 261.4 L1417.0 261.4 L1417.2 261.4 L1417.4 261.4 L1417.6 261.3 L1417.9 261.3 L1418.1 261.3 L1418.3 261.3 L1418.5 261.3 L1418.7 261.2 L1418.9 261.2 L1419.1 261.2 L1419.4 261.2 L1419.6 261.1 L1419.8 261.1 L1420.0 261.1 L1420.2 261.1 L1420.4 261.1 L1420.6 261.0 L1420.9 261.0 L1421.1 261.0 L1421.3 261.0 L1421.5 261.0 L1421.7 260.9 L1421.9 260.9 L1422.1 260.9 L1422.4 260.9 L1422.6 260.8 L1422.8 260.8 L1423.0 260.8 L1423.2 260.8 L1423.4 260.8 L1423.6 260.7 L1423.9 260.7 L1424.1 260.7 L1424.3 260.7 L1424.5 260.6 L1424.7 260.6 L1424.9 260.6 L1425.1 260.6 L1425.4 260.5 L1425.6 260.5 L1425.8 260.5 L1426.0 260.5 L1426.2 260.5 L1426.4 260.4 L1426.6 260.4 L1426.8 260.4 L1427.1 260.4 L1427.3 260.3 L1427.5 260.3 L1427.7 260.3 L1427.9 260.3 L1428.1 260.2 L1428.3 260.2 L1428.6 260.2 L1428.8 260.2 L1429.0 260.2 L1429.2 260.1 L1429.4 260.1 L1429.6 260.1 L1429.8 260.1 L1430.1 260.0 L1430.3 260.0 L1430.5 260.0 L1430.7 260.0 L1430.9 259.9 L1431.1 259.9 L1431.3 259.9 L1431.6 259.9 L1431.8 259.8 L1432.0 259.8 L1432.2 259.8 L1432.4 259.8 L1432.6 259.7 L1432.8 259.7 L1433.1 259.7 L1433.3 259.7 L1433.5 259.6 L1433.7 259.6 L1433.9 259.6 L1434.1 259.6 L1434.3 259.5 L1434.6 259.5 L1434.8 259.5 L1435.0 259.5 L1435.2 259.4 L1435.4 259.4 L1435.6 259.4 L1435.8 259.4 L1436.1 259.3 L1436.3 259.3 L1436.5 259.3 L1436.7 259.3 L1436.9 259.2 L1437.1 259.2 L1437.3 259.2 L1437.5 259.2 L1437.8 259.1 L1438.0 259.1 L1438.2 259.1 L1438.4 259.1 L1438.6 259.0 L1438.8 259.0 L1439.0 259.0 L1439.3 258.9 L1439.5 258.9 L1439.7 258.9 L1439.9 258.9 L1440.1 258.8 L1440.3 258.8 L1440.5 258.8 L1440.8 258.8 L1441.0 258.7 L1441.2 258.7 L1441.4 258.7 L1441.6 258.7 L1441.8 258.6 L1442.0 258.6 L1442.3 258.6 L1442.5 258.5 L1442.7 258.5 L1442.9 258.5 L1443.1 258.5 L1443.3 258.4 L1443.5 258.4 L1443.8 258.4 L1444.0 258.3 L1444.2 258.3 L1444.4 258.3 L1444.6 258.3 L1444.8 258.2 L1445.0 258.2 L1445.3 258.2 L1445.5 258.1 L1445.7 258.1 L1445.9 258.1 L1446.1 258.1 L1446.3 258.0 L1446.5 258.0 L1446.8 258.0 L1447.0 257.9 L1447.2 257.9 L1447.4 257.9 L1447.6 257.9 L1447.8 257.8 L1448.0 257.8 L1448.2 257.8 L1448.5 257.7 L1448.7 257.7 L1448.9 257.7 L1449.1 257.6 L1449.3 257.6 L1449.5 257.6 L1449.7 257.6 L1450.0 257.5 L1450.2 257.5 L1450.4 257.5 L1450.6 257.4 L1450.8 257.4 L1451.0 257.4 L1451.2 257.3 L1451.5 257.3 L1451.7 257.3 L1451.9 257.2 L1452.1 257.2 L1452.3 257.2 L1452.5 257.2 L1452.7 257.1 L1453.0 257.1 L1453.2 257.1 L1453.4 257.0 L1453.6 257.0 L1453.8 257.0 L1454.0 256.9 L1454.2 256.9 L1454.5 256.9 L1454.7 256.8 L1454.9 256.8 L1455.1 256.8 L1455.3 256.7 L1455.5 256.7 L1455.7 256.7 L1456.0 256.6 L1456.2 256.6 L1456.4 256.6 L1456.6 256.5 L1456.8 256.5 L1457.0 256.5 L1457.2 256.4 L1457.5 256.4 L1457.7 256.4 L1457.9 256.3 L1458.1 256.3 L1458.3 256.3 L1458.5 256.2 L1458.7 256.2 L1459.0 256.1 L1459.2 256.1 L1459.4 256.1 L1459.6 256.0 L1459.8 256.0 L1460.0 256.0 L1460.2 255.9 L1460.4 255.9 L1460.7 255.9 L1460.9 255.8 L1461.1 255.8 L1461.3 255.7 L1461.5 255.7 L1461.7 255.7 L1461.9 255.6 L1462.2 255.6 L1462.4 255.6 L1462.6 255.5 L1462.8 255.5 L1463.0 255.4 L1463.2 255.4 L1463.4 255.4 L1463.7 255.3 L1463.9 255.3 L1464.1 255.2 L1464.3 255.2 L1464.5 255.2 L1464.7 255.1 L1464.9 255.1 L1465.2 255.0 L1465.4 255.0 L1465.6 255.0 L1465.8 254.9 L1466.0 254.9 L1466.2 254.8 L1466.4 254.8 L1466.7 254.8 L1466.9 254.7 L1467.1 254.7 L1467.3 254.6 L1467.5 254.6 L1467.7 254.5 L1467.9 254.5 L1468.2 254.5 L1468.4 254.4 L1468.6 254.4 L1468.8 254.3 L1469.0 254.3 L1469.2 254.2 L1469.4 254.2 L1469.7 254.1 L1469.9 254.1 L1470.1 254.0 L1470.3 254.0 L1470.5 254.0 L1470.7 253.9 L1470.9 253.9 L1471.1 253.8 L1471.4 253.8 L1471.6 253.7 L1471.8 253.7 L1472.0 253.6 L1472.2 253.6 L1472.4 253.5 L1472.6 253.5 L1472.9 253.4 L1473.1 253.4 L1473.3 253.3 L1473.5 253.3 L1473.7 253.2 L1473.9 253.2 L1474.1 253.1 L1474.4 253.1 L1474.6 253.0 L1474.8 252.9 L1475.0 252.9 L1475.2 252.8 L1475.4 252.8 L1475.6 252.7 L1475.9 252.7 L1476.1 252.6 L1476.3 252.6 L1476.5 252.5 L1476.7 252.4 L1476.9 252.4 L1477.1 252.3 L1477.4 252.3 L1477.6 252.2 L1477.8 252.1 L1478.0 252.1 L1478.2 252.0 L1478.4 252.0 L1478.6 251.9 L1478.9 251.8 L1479.1 251.8 L1479.3 251.7 L1479.5 251.6 L1479.7 251.6 L1479.9 251.5 L1480.1 251.4 L1480.3 251.4 L1480.6 251.3 L1480.8 251.2 L1481.0 251.2 L1481.2 251.1 L1481.4 251.0 L1481.6 251.0 L1481.8 250.9 L1482.1 250.8 L1482.3 250.7 L1482.5 250.7 L1482.7 250.6 L1482.9 250.5 L1483.1 250.4 L1483.3 250.4 L1483.6 250.3 L1483.8 250.2 L1484.0 250.1 L1484.2 250.0 L1484.4 250.0 L1484.6 249.9 L1484.8 249.8 L1485.1 249.7 L1485.3 249.6 L1485.5 249.5 L1485.7 249.5 L1485.9 249.4 L1486.1 249.3 L1486.3 249.2 L1486.6 249.1 L1486.8 249.0 L1487.0 248.9 L1487.2 248.8 L1487.4 248.7 L1487.6 248.6 L1487.8 248.5 L1488.1 248.4 L1488.3 248.3 L1488.5 248.2 L1488.7 248.1 L1488.9 248.0 L1489.1 247.9 L1489.3 247.8 L1489.6 247.7 L1489.8 247.6 L1490.0 247.5 L1490.2 247.3 L1490.4 247.2 L1490.6 247.1 L1490.8 247.0 L1491.0 246.9 L1491.3 246.7 L1491.5 246.6 L1491.7 246.5 L1491.9 246.4 L1492.1 246.2 L1492.3 246.1 L1492.5 246.0 L1492.8 245.8 L1493.0 245.7 L1493.2 245.6 L1493.4 245.4 L1493.6 245.3 L1493.8 245.1 L1494.0 245.0 L1494.3 244.8 L1494.5 244.7 L1494.7 244.5 L1494.9 244.4 L1495.1 244.2 L1495.3 244.0 L1495.5 243.9 L1495.8 243.7 L1496.0 243.5 L1496.2 243.4 L1496.4 243.2 L1496.6 243.0 L1496.8 242.8 L1497.0 242.6 L1497.3 242.4 L1497.5 242.3 L1497.7 242.1 L1497.9 241.9 L1498.1 241.7 L1498.3 241.4 L1498.5 241.2 L1498.8 241.0 L1499.0 240.8 L1499.2 240.6 L1499.4 240.3 L1499.6 240.1 L1499.8 239.9 L1500.0 239.6 L1500.3 239.4 L1500.5 239.1 L1500.7 238.9 L1500.9 238.6 L1501.1 238.4 L1501.3 238.1 L1501.5 237.8 L1501.8 237.5 L1502.0 237.2 L1502.2 236.9 L1502.4 236.6 L1502.6 236.3 L1502.8 236.0 L1503.0 235.7 L1503.2 235.4 L1503.5 235.0 L1503.7 234.7 L1503.9 234.4 L1504.1 234.0 L1504.3 233.6 L1504.5 233.3 L1504.7 232.9 L1505.0 232.5 L1505.2 232.1 L1505.4 231.7 L1505.6 231.3 L1505.8 230.8 L1506.0 230.4 L1506.2 229.9 L1506.5 229.5 L1506.7 229.0 L1506.9 228.5 L1507.1 228.0 L1507.3 227.5 L1507.5 227.0 L1507.7 226.5 L1508.0 225.9 L1508.2 225.4 L1508.4 224.8 L1508.6 224.2 L1508.8 223.6 L1509.0 223.0 L1509.2 222.4 L1509.5 221.7 L1509.7 221.0 L1509.9 220.3 L1510.1 219.6 L1510.3 218.9 L1510.5 218.2 L1510.7 217.4 L1511.0 216.6 L1511.2 215.8 L1511.4 214.9 L1511.6 214.1 L1511.8 213.2 L1512.0 212.3 L1512.2 211.3 L1512.5 210.4 L1512.7 209.4 L1512.9 208.4 L1513.1 207.3 L1513.3 206.2 L1513.5 205.1 L1513.7 204.0 L1513.9 202.8 L1514.2 201.6 L1514.4 200.3 L1514.6 199.0 L1514.8 197.7 L1515.0 196.3 L1515.2 194.8 L1515.4 193.4 L1515.7 191.9 L1515.9 190.3 L1516.1 188.7 L1516.3 187.0 L1516.5 185.3 L1516.7 183.5 L1516.9 181.7 L1517.2 179.8 L1517.4 177.9 L1517.6 175.8 L1517.8 173.8 L1518.0 171.6 L1518.2 169.4 L1518.4 167.2 L1518.7 164.8 L1518.9 162.4 L1519.1 159.9 L1519.3 157.3 L1519.5 154.7 L1519.7 152.0 L1519.9 149.2 L1520.2 146.3 L1520.4 143.3 L1520.6 140.3 L1520.8 137.1 L1521.0 133.9 L1521.2 130.7 L1521.4 127.3 L1521.7 123.8 L1521.9 120.3 L1522.1 116.7 L1522.3 113.1 L1522.5 109.4 L1522.7 105.6 L1522.9 101.8 L1523.2 97.9 L1523.4 94.0 L1523.6 90.1 L1523.8 86.1 L1524.0 82.2 L1524.2 78.2 L1524.4 74.3 L1524.6 70.4 L1524.9 66.6 L1525.1 62.8 L1525.3 59.2 L1525.5 55.6 L1525.7 52.2 L1525.9 48.9 L1526.1 45.8 L1526.4 42.8 L1526.6 40.1 L1526.8 37.6 L1527.0 35.4 L1527.2 33.4 L1527.4 31.7 L1527.6 30.3 L1527.9 29.2 L1528.1 28.3 L1528.3 27.9 L1528.5 27.7 L1528.7 27.9 L1528.9 28.3 L1529.1 29.2 L1529.4 30.3 L1529.6 31.7 L1529.8 33.4 L1530.0 35.4 L1530.2 37.6 L1530.4 40.1 L1530.6 42.8 L1530.9 45.8 L1531.1 48.9 L1531.3 52.2 L1531.5 55.6 L1531.7 59.2 L1531.9 62.8 L1532.1 66.6 L1532.4 70.4 L1532.6 74.3 L1532.8 78.2 L1533.0 82.2 L1533.2 86.1 L1533.4 90.1 L1533.6 94.0 L1533.8 97.9 L1534.1 101.8 L1534.3 105.6 L1534.5 109.4 L1534.7 113.1 L1534.9 116.7 L1535.1 120.3 L1535.3 123.8 L1535.6 127.3 L1535.8 130.7 L1536.0 133.9 L1536.2 137.1 L1536.4 140.3 L1536.6 143.3 L1536.8 146.3 L1537.1 149.2 L1537.3 152.0 L1537.5 154.7 L1537.7 157.3 L1537.9 159.9 L1538.1 162.4 L1538.3 164.8 L1538.6 167.2 L1538.8 169.4 L1539.0 171.6 L1539.2 173.8 L1539.4 175.8 L1539.6 177.9 L1539.8 179.8 L1540.1 181.7 L1540.3 183.5 L1540.5 185.3 L1540.7 187.0 L1540.9 188.7 L1541.1 190.3 L1541.3 191.9 L1541.6 193.4 L1541.8 194.8 L1542.0 196.3 L1542.2 197.7 L1542.4 199.0 L1542.6 200.3 L1542.8 201.6 L1543.1 202.8 L1543.3 204.0 L1543.5 205.1 L1543.7 206.2 L1543.9 207.3 L1544.1 208.4 L1544.3 209.4 L1544.5 210.4 L1544.8 211.3 L1545.0 212.3 L1545.2 213.2 L1545.4 214.1 L1545.6 214.9 L1545.8 215.8 L1546.0 216.6 L1546.3 217.4 L1546.5 218.2 L1546.7 218.9 L1546.9 219.6 L1547.1 220.3 L1547.3 221.0 L1547.5 221.7 L1547.8 222.4 L1548.0 223.0 L1548.2 223.6 L1548.4 224.2 L1548.6 224.8 L1548.8 225.4 L1549.0 225.9 L1549.3 226.5 L1549.5 227.0 L1549.7 227.5 L1549.9 228.0 L1550.1 228.5 L1550.3 229.0 L1550.5 229.5 L1550.8 229.9 L1551.0 230.4 L1551.2 230.8 L1551.4 231.3 L1551.6 231.7 L1551.8 232.1 L1552.0 232.5 L1552.3 232.9 L1552.5 233.3 L1552.7 233.6 L1552.9 234.0 L1553.1 234.4 L1553.3 234.7 L1553.5 235.0 L1553.8 235.4 L1554.0 235.7 L1554.2 236.0 L1554.4 236.3 L1554.6 236.6 L1554.8 236.9 L1555.0 237.2 L1555.2 237.5 L1555.5 237.8 L1555.7 238.1 L1555.9 238.4 L1556.1 238.6 L1556.3 238.9 L1556.5 239.1 L1556.7 239.4 L1557.0 239.6 L1557.2 239.9 L1557.4 240.1 L1557.6 240.3 L1557.8 240.6 L1558.0 240.8 L1558.2 241.0 L1558.5 241.2 L1558.7 241.4 L1558.9 241.7 L1559.1 241.9 L1559.3 242.1 L1559.5 242.3 L1559.7 242.4 L1560.0 242.6 L1560.2 242.8 L1560.4 243.0 L1560.6 243.2 L1560.8 243.4 L1561.0 243.5 L1561.2 243.7 L1561.5 243.9 L1561.7 244.0 L1561.9 244.2 L1562.1 244.4 L1562.3 244.5 L1562.5 244.7 L1562.7 244.8 L1563.0 245.0 L1563.2 245.1 L1563.4 245.3 L1563.6 245.4 L1563.8 245.6 L1564.0 245.7 L1564.2 245.8 L1564.5 246.0 L1564.7 246.1 L1564.9 246.2 L1565.1 246.4 L1565.3 246.5 L1565.5 246.6 L1565.7 246.7 L1566.0 246.9 L1566.2 247.0 L1566.4 247.1 L1566.6 247.2 L1566.8 247.3 L1567.0 247.5 L1567.2 247.6 L1567.4 247.7 L1567.7 247.8 L1567.9 247.9 L1568.1 248.0 L1568.3 248.1 L1568.5 248.2 L1568.7 248.3 L1568.9 248.4 L1569.2 248.5 L1569.4 248.6 L1569.6 248.7 L1569.8 248.8 L1570.0 248.9 L1570.2 249.0 L1570.4 249.1 L1570.7 249.2 L1570.9 249.3 L1571.1 249.4 L1571.3 249.5 L1571.5 249.5 L1571.7 249.6 L1571.9 249.7 L1572.2 249.8 L1572.4 249.9 L1572.6 250.0 L1572.8 250.0 L1573.0 250.1 L1573.2 250.2 L1573.4 250.3 L1573.7 250.4 L1573.9 250.4 L1574.1 250.5 L1574.3 250.6 L1574.5 250.7 L1574.7 250.7 L1574.9 250.8 L1575.2 250.9 L1575.4 251.0 L1575.6 251.0 L1575.8 251.1 L1576.0 251.2 L1576.2 251.2 L1576.4 251.3 L1576.7 251.4 L1576.9 251.4 L1577.1 251.5 L1577.3 251.6 L1577.5 251.6 L1577.7 251.7 L1577.9 251.8 L1578.1 251.8 L1578.4 251.9 L1578.6 252.0 L1578.8 252.0 L1579.0 252.1 L1579.2 252.1 L1579.4 252.2 L1579.6 252.3 L1579.9 252.3 L1580.1 252.4 L1580.3 252.4 L1580.5 252.5 L1580.7 252.6 L1580.9 252.6 L1581.1 252.7 L1581.4 252.7 L1581.6 252.8 L1581.8 252.8 L1582.0 252.9 L1582.2 252.9 L1582.4 253.0 L1582.6 253.1 L1582.9 253.1 L1583.1 253.2 L1583.3 253.2 L1583.5 253.3 L1583.7 253.3 L1583.9 253.4 L1584.1 253.4 L1584.4 253.5 L1584.6 253.5 L1584.8 253.6 L1585.0 253.6 L1585.2 253.7 L1585.4 253.7 L1585.6 253.8 L1585.9 253.8 L1586.1 253.9 L1586.3 253.9 L1586.5 254.0 L1586.7 254.0 L1586.9 254.0 L1587.1 254.1 L1587.3 254.1 L1587.6 254.2 L1587.8 254.2 L1588.0 254.3 L1588.2 254.3 L1588.4 254.4 L1588.6 254.4 L1588.8 254.5 L1589.1 254.5 L1589.3 254.5 L1589.5 254.6 L1589.7 254.6 L1589.9 254.7 L1590.1 254.7 L1590.3 254.8 L1590.6 254.8 L1590.8 254.8 L1591.0 254.9 L1591.2 254.9 L1591.4 255.0 L1591.6 255.0 L1591.8 255.0 L1592.1 255.1 L1592.3 255.1 L1592.5 255.2 L1592.7 255.2 L1592.9 255.2 L1593.1 255.3 L1593.3 255.3 L1593.6 255.4 L1593.8 255.4 L1594.0 255.4 L1594.2 255.5 L1594.4 255.5 L1594.6 255.6 L1594.8 255.6 L1595.1 255.6 L1595.3 255.7 L1595.5 255.7 L1595.7 255.7 L1595.9 255.8 L1596.1 255.8 L1596.3 255.9 L1596.6 255.9 L1596.8 255.9 L1597.0 256.0 L1597.2 256.0 L1597.4 256.0 L1597.6 256.1 L1597.8 256.1 L1598.0 256.1 L1598.3 256.2 L1598.5 256.2 L1598.7 256.3 L1598.9 256.3 L1599.1 256.3 L1599.3 256.4 L1599.5 256.4 L1599.8 256.4 L1600.0 256.5 L1600.2 256.5 L1600.4 256.5 L1600.6 256.6 L1600.8 256.6 L1601.0 256.6 L1601.3 256.7 L1601.5 256.7 L1601.7 256.7 L1601.9 256.8 L1602.1 256.8 L1602.3 256.8 L1602.5 256.9 L1602.8 256.9 L1603.0 256.9 L1603.2 257.0 L1603.4 257.0 L1603.6 257.0 L1603.8 257.1 L1604.0 257.1 L1604.3 257.1 L1604.5 257.2 L1604.7 257.2 L1604.9 257.2 L1605.1 257.2 L1605.3 257.3 L1605.5 257.3 L1605.8 257.3 L1606.0 257.4 L1606.2 257.4 L1606.4 257.4 L1606.6 257.5 L1606.8 257.5 L1607.0 257.5 L1607.3 257.6 L1607.5 257.6 L1607.7 257.6 L1607.9 257.6 L1608.1 257.7 L1608.3 257.7 L1608.5 257.7 L1608.8 257.8 L1609.0 257.8 L1609.2 257.8 L1609.4 257.9 L1609.6 257.9 L1609.8 257.9 L1610.0 257.9 L1610.2 258.0 L1610.5 258.0 L1610.7 258.0 L1610.9 258.1 L1611.1 258.1 L1611.3 258.1 L1611.5 258.1 L1611.7 258.2 L1612.0 258.2 L1612.2 258.2 L1612.4 258.3 L1612.6 258.3 L1612.8 258.3 L1613.0 258.3 L1613.2 258.4 L1613.5 258.4 L1613.7 258.4 L1613.9 258.5 L1614.1 258.5 L1614.3 258.5 L1614.5 258.5 L1614.7 258.6 L1615.0 258.6 L1615.2 258.6 L1615.4 258.7 L1615.6 258.7 L1615.8 258.7 L1616.0 258.7 L1616.2 258.8 L1616.5 258.8 L1616.7 258.8 L1616.9 258.8 L1617.1 258.9 L1617.3 258.9 L1617.5 258.9 L1617.7 258.9 L1618.0 259.0 L1618.2 259.0 L1618.4 259.0 L1618.6 259.1 L1618.8 259.1 L1619.0 259.1 L1619.2 259.1 L1619.5 259.2 L1619.7 259.2 L1619.9 259.2 L1620.1 259.2 L1620.3 259.3 L1620.5 259.3 L1620.7 259.3 L1620.9 259.3 L1621.2 259.4 L1621.4 259.4 L1621.6 259.4 L1621.8 259.4 L1622.0 259.5 L1622.2 259.5 L1622.4 259.5 L1622.7 259.5 L1622.9 259.6 L1623.1 259.6 L1623.3 259.6 L1623.5 259.6 L1623.7 259.7 L1623.9 259.7 L1624.2 259.7 L1624.4 259.7 L1624.6 259.8 L1624.8 259.8 L1625.0 259.8 L1625.2 259.8 L1625.4 259.9 L1625.7 259.9 L1625.9 259.9 L1626.1 259.9 L1626.3 260.0 L1626.5 260.0 L1626.7 260.0 L1626.9 260.0 L1627.2 260.1 L1627.4 260.1 L1627.6 260.1 L1627.8 260.1 L1628.0 260.2 L1628.2 260.2 L1628.4 260.2 L1628.7 260.2 L1628.9 260.2 L1629.1 260.3 L1629.3 260.3 L1629.5 260.3 L1629.7 260.3 L1629.9 260.4 L1630.2 260.4 L1630.4 260.4 L1630.6 260.4 L1630.8 260.5 L1631.0 260.5 L1631.2 260.5 L1631.4 260.5 L1631.6 260.5 L1631.9 260.6 L1632.1 260.6 L1632.3 260.6 L1632.5 260.6 L1632.7 260.7 L1632.9 260.7 L1633.1 260.7 L1633.4 260.7 L1633.6 260.8 L1633.8 260.8 L1634.0 260.8 L1634.2 260.8 L1634.4 260.8 L1634.6 260.9 L1634.9 260.9 L1635.1 260.9 L1635.3 260.9 L1635.5 261.0 L1635.7 261.0 L1635.9 261.0 L1636.1 261.0 L1636.4 261.0 L1636.6 261.1 L1636.8 261.1 L1637.0 261.1 L1637.2 261.1 L1637.4 261.1 L1637.6 261.2 L1637.9 261.2 L1638.1 261.2 L1638.3 261.2 L1638.5 261.3 L1638.7 261.3 L1638.9 261.3 L1639.1 261.3 L1639.4 261.3 L1639.6 261.4 L1639.8 261.4 L1640.0 261.4 L1640.2 261.4 L1640.4 261.4 L1640.6 261.5 L1640.8 261.5 L1641.1 261.5 L1641.3 261.5 L1641.5 261.5 L1641.7 261.6 L1641.9 261.6 L1642.1 261.6 L1642.3 261.6 L1642.6 261.6 L1642.8 261.7 L1643.0 261.7 L1643.2 261.7 L1643.4 261.7 L1643.6 261.7 L1643.8 261.8 L1644.1 261.8 L1644.3 261.8 L1644.5 261.8 L1644.7 261.8 L1644.9 261.9 L1645.1 261.9 L1645.3 261.9 L1645.6 261.9 L1645.8 261.9 L1646.0 262.0 L1646.2 262.0 L1646.4 262.0 L1646.6 262.0 L1646.8 262.0 L1647.1 262.1 L1647.3 262.1 L1647.5 262.1 L1647.7 262.1 L1647.9 262.1 L1648.1 262.2 L1648.3 262.2 L1648.6 262.2 L1648.8 262.2 L1649.0 262.2 L1649.2 262.3 L1649.4 262.3 L1649.6 262.3 L1649.8 262.3 L1650.1 262.3 L1650.3 262.3 L1650.5 262.4 L1650.7 262.4 L1650.9 262.4 L1651.1 262.4 L1651.3 262.4 L1651.5 262.5 L1651.8 262.5 L1652.0 262.5 L1652.2 262.5 L1652.4 262.5 L1652.6 262.5 L1652.8 262.6 L1653.0 262.6 L1653.3 262.6 L1653.5 262.6 L1653.7 262.6 L1653.9 262.7 L1654.1 262.7 L1654.3 262.7 L1654.5 262.7 L1654.8 262.7 L1655.0 262.7 L1655.2 262.8 L1655.4 262.8 L1655.6 262.8 L1655.8 262.8 L1656.0 262.8 L1656.3 262.8 L1656.5 262.9 L1656.7 262.9 L1656.9 262.9 L1657.1 262.9 L1657.3 262.9 L1657.5 263.0 L1657.8 263.0 L1658.0 263.0 L1658.2 263.0 L1658.4 263.0 L1658.6 263.0 L1658.8 263.1 L1659.0 263.1 L1659.3 263.1 L1659.5 263.1 L1659.7 263.1 L1659.9 263.1 L1660.1 263.2 L1660.3 263.2 L1660.5 263.2 L1660.8 263.2 L1661.0 263.2 L1661.2 263.2 L1661.4 263.2 L1661.6 263.3 L1661.8 263.3 L1662.0 263.3 L1662.2 263.3 L1662.5 263.3 L1662.7 263.3 L1662.9 263.4 L1663.1 263.4 L1663.3 263.4 L1663.5 263.4 L1663.7 263.4 L1664.0 263.4 L1664.2 263.5 L1664.4 263.5 L1664.6 263.5 L1664.8 263.5 L1665.0 263.5 L1665.2 263.5 L1665.5 263.5 L1665.7 263.6 L1665.9 263.6 L1666.1 263.6 L1666.3 263.6 L1666.5 263.6 L1666.7 263.6 L1667.0 263.7 L1667.2 263.7 L1667.4 263.7 L1667.6 263.7 L1667.8 263.7 L1668.0 263.7 L1668.2 263.7 L1668.5 263.8 L1668.7 263.8 L1668.9 263.8 L1669.1 263.8 L1669.3 263.8 L1669.5 263.8 L1669.7 263.8 L1670.0 263.9 L1670.2 263.9 L1670.4 263.9 L1670.6 263.9 L1670.8 263.9 L1671.0 263.9 L1671.2 263.9 L1671.5 264.0 L1671.7 264.0 L1671.9 264.0 L1672.1 264.0 L1672.3 264.0 L1672.5 264.0 L1672.7 264.0 L1673.0 264.1 L1673.2 264.1 L1673.4 264.1 L1673.6 264.1 L1673.8 264.1 L1674.0 264.1 L1674.2 264.1 L1674.4 264.2 L1674.7 264.2 L1674.9 264.2 L1675.1 264.2 L1675.3 264.2 L1675.5 264.2 L1675.7 264.2 L1675.9 264.3 L1676.2 264.3 L1676.4 264.3 L1676.6 264.3 L1676.8 264.3 L1677.0 264.3 L1677.2 264.3 L1677.4 264.3 L1677.7 264.4 L1677.9 264.4 L1678.1 264.4 L1678.3 264.4 L1678.5 264.4 L1678.7 264.4 L1678.9 264.4 L1679.2 264.4 L1679.4 264.5 L1679.6 264.5 L1679.8 264.5 L1680.0 264.5 L1680.2 264.5 L1680.4 264.5 L1680.7 264.5 L1680.9 264.5 L1681.1 264.6 L1681.3 264.6 L1681.5 264.6 L1681.7 264.6 L1681.9 264.6 L1682.2 264.6 L1682.4 264.6 L1682.6 264.6 L1682.8 264.7 L1683.0 264.7 L1683.2 264.7 L1683.4 264.7 L1683.7 264.7 L1683.9 264.7 L1684.1 264.7 L1684.3 264.7 L1684.5 264.7 L1684.7 264.8 L1684.9 264.8 L1685.1 264.8 L1685.4 264.8 L1685.6 264.8 L1685.8 264.8 L1686.0 264.8 L1686.2 264.8 L1686.4 264.9 L1686.6 264.9 L1686.9 264.9 L1687.1 264.9 L1687.3 264.9 L1687.5 264.9 L1687.7 264.9 L1687.9 264.9 L1688.1 264.9 L1688.4 265.0 L1688.6 265.0 L1688.8 265.0 L1689.0 265.0" fill="none" stroke="#0000ff" stroke-width="2.15" stroke-linejoin="round" clip-path="url(#cl-e)"/>
</g>
<g id="p-f">
<clipPath id="cl-f"><rect x="38.3" y="303.7" width="320.9" height="242.20000000000007"/></clipPath>
<path d="M38.3 542.0 L38.6 542.0 L38.8 542.0 L39.1 542.0 L39.4 542.0 L39.6 541.9 L39.9 541.9 L40.2 541.9 L40.4 541.9 L40.7 541.8 L41.0 541.8 L41.2 541.8 L41.5 541.8 L41.8 541.7 L42.0 541.7 L42.3 541.7 L42.6 541.6 L42.8 541.6 L43.1 541.6 L43.4 541.6 L43.6 541.5 L43.9 541.5 L44.2 541.5 L44.5 541.4 L44.7 541.4 L45.0 541.4 L45.3 541.3 L45.5 541.3 L45.8 541.3 L46.1 541.2 L46.3 541.2 L46.6 541.2 L46.9 541.1 L47.1 541.1 L47.4 541.0 L47.7 541.0 L47.9 541.0 L48.2 540.9 L48.5 540.9 L48.7 540.8 L49.0 540.8 L49.3 540.8 L49.5 540.7 L49.8 540.7 L50.1 540.6 L50.3 540.6 L50.6 540.5 L50.9 540.5 L51.1 540.4 L51.4 540.4 L51.7 540.3 L51.9 540.3 L52.2 540.2 L52.5 540.2 L52.7 540.1 L53.0 540.1 L53.3 540.0 L53.5 540.0 L53.8 539.9 L54.1 539.8 L54.3 539.8 L54.6 539.7 L54.9 539.7 L55.1 539.6 L55.4 539.5 L55.7 539.5 L55.9 539.4 L56.2 539.3 L56.5 539.2 L56.8 539.2 L57.0 539.1 L57.3 539.0 L57.6 538.9 L57.8 538.9 L58.1 538.8 L58.4 538.7 L58.6 538.6 L58.9 538.5 L59.2 538.4 L59.4 538.3 L59.7 538.3 L60.0 538.2 L60.2 538.1 L60.5 538.0 L60.8 537.9 L61.0 537.8 L61.3 537.6 L61.6 537.5 L61.8 537.4 L62.1 537.3 L62.4 537.2 L62.6 537.1 L62.9 536.9 L63.2 536.8 L63.4 536.7 L63.7 536.5 L64.0 536.4 L64.2 536.3 L64.5 536.1 L64.8 536.0 L65.0 535.8 L65.3 535.7 L65.6 535.5 L65.8 535.3 L66.1 535.1 L66.4 535.0 L66.6 534.8 L66.9 534.6 L67.2 534.4 L67.4 534.2 L67.7 534.0 L68.0 533.8 L68.3 533.6 L68.5 533.3 L68.8 533.1 L69.1 532.9 L69.3 532.6 L69.6 532.4 L69.9 532.1 L70.1 531.8 L70.4 531.5 L70.7 531.2 L70.9 530.9 L71.2 530.6 L71.5 530.3 L71.7 530.0 L72.0 529.6 L72.3 529.2 L72.5 528.9 L72.8 528.5 L73.1 528.1 L73.3 527.6 L73.6 527.2 L73.9 526.7 L74.1 526.3 L74.4 525.8 L74.7 525.3 L74.9 524.7 L75.2 524.2 L75.5 523.6 L75.7 523.0 L76.0 522.3 L76.3 521.7 L76.5 521.0 L76.8 520.2 L77.1 519.5 L77.3 518.7 L77.6 517.8 L77.9 517.0 L78.1 516.0 L78.4 515.1 L78.7 514.1 L78.9 513.0 L79.2 511.9 L79.5 510.7 L79.7 509.4 L80.0 508.1 L80.3 506.7 L80.6 505.2 L80.8 503.7 L81.1 502.0 L81.4 500.3 L81.6 498.4 L81.9 496.5 L82.2 494.4 L82.4 492.2 L82.7 489.8 L83.0 487.3 L83.2 484.7 L83.5 481.8 L83.8 478.8 L84.0 475.6 L84.3 472.1 L84.6 468.5 L84.8 464.5 L85.1 460.4 L85.4 455.9 L85.6 451.1 L85.9 446.1 L86.2 440.7 L86.4 434.9 L86.7 428.8 L87.0 422.3 L87.2 415.4 L87.5 408.2 L87.8 400.7 L88.0 392.8 L88.3 384.6 L88.6 376.1 L88.8 367.6 L89.1 358.9 L89.4 350.4 L89.6 342.0 L89.9 334.1 L90.2 326.7 L90.4 320.1 L90.7 314.4 L91.0 309.9 L91.2 306.8 L91.5 305.1 L91.8 304.9 L92.1 306.3 L92.3 309.1 L92.6 313.4 L92.9 319.0 L93.1 325.6 L93.4 333.1 L93.7 341.3 L93.9 349.9 L94.2 358.9 L94.5 368.0 L94.7 377.0 L95.0 385.9 L95.3 394.6 L95.5 403.0 L95.8 411.0 L96.1 418.7 L96.3 426.0 L96.6 432.8 L96.9 439.3 L97.1 445.3 L97.4 451.0 L97.7 456.3 L97.9 461.3 L98.2 465.9 L98.5 470.3 L98.7 474.3 L99.0 478.1 L99.3 481.6 L99.5 484.9 L99.8 488.0 L100.1 490.8 L100.3 493.5 L100.6 496.1 L100.9 498.4 L101.1 500.6 L101.4 502.7 L101.7 504.6 L101.9 506.4 L102.2 508.2 L102.5 509.8 L102.7 511.3 L103.0 512.7 L103.3 514.1 L103.5 515.3 L103.8 516.6 L104.1 517.7 L104.4 518.8 L104.6 519.8 L104.9 520.7 L105.2 521.7 L105.4 522.5 L105.7 523.3 L106.0 524.1 L106.2 524.9 L106.5 525.6 L106.8 526.3 L107.0 526.9 L107.3 527.5 L107.6 528.1 L107.8 528.6 L108.1 529.2 L108.4 529.7 L108.6 530.2 L108.9 530.6 L109.2 531.1 L109.4 531.5 L109.7 531.9 L110.0 532.3 L110.2 532.7 L110.5 533.0 L110.8 533.4 L111.0 533.7 L111.3 534.0 L111.6 534.3 L111.8 534.6 L112.1 534.9 L112.4 535.2 L112.6 535.4 L112.9 535.7 L113.2 535.9 L113.4 536.2 L113.7 536.4 L114.0 536.6 L114.2 536.8 L114.5 537.0 L114.8 537.2 L115.0 537.4 L115.3 537.6 L115.6 537.8 L115.9 538.0 L116.1 538.1 L116.4 538.3 L116.7 538.4 L116.9 538.6 L117.2 538.7 L117.5 538.9 L117.7 539.0 L118.0 539.1 L118.3 539.3 L118.5 539.4 L118.8 539.5 L119.1 539.6 L119.3 539.8 L119.6 539.9 L119.9 540.0 L120.1 540.1 L120.4 540.2 L120.7 540.3 L120.9 540.4 L121.2 540.5 L121.5 540.6 L121.7 540.6 L122.0 540.7 L122.3 540.8 L122.5 540.9 L122.8 541.0 L123.1 541.0 L123.3 541.1 L123.6 541.2 L123.9 541.3 L124.1 541.3 L124.4 541.4 L124.7 541.5 L124.9 541.5 L125.2 541.6 L125.5 541.7 L125.7 541.7 L126.0 541.8 L126.3 541.8 L126.5 541.9 L126.8 541.9 L127.1 542.0 L127.3 542.0 L127.6 542.1 L127.9 542.1 L128.2 542.2 L128.4 542.2 L128.7 542.3 L129.0 542.3 L129.2 542.4 L129.5 542.4 L129.8 542.5 L130.0 542.5 L130.3 542.5 L130.6 542.6 L130.8 542.6 L131.1 542.7 L131.4 542.7 L131.6 542.7 L131.9 542.8 L132.2 542.8 L132.4 542.8 L132.7 542.9 L133.0 542.9 L133.2 542.9 L133.5 543.0 L133.8 543.0 L134.0 543.0 L134.3 543.1 L134.6 543.1 L134.8 543.1 L135.1 543.1 L135.4 543.2 L135.6 543.2 L135.9 543.2 L136.2 543.2 L136.4 543.3 L136.7 543.3 L137.0 543.3 L137.2 543.3 L137.5 543.4 L137.8 543.4 L138.0 543.4 L138.3 543.4 L138.6 543.5 L138.8 543.5 L139.1 543.5 L139.4 543.5 L139.7 543.5 L139.9 543.6 L140.2 543.6 L140.5 543.6 L140.7 543.6 L141.0 543.6 L141.3 543.6 L141.5 543.7 L141.8 543.7 L142.1 543.7 L142.3 543.7 L142.6 543.7 L142.9 543.7 L143.1 543.8 L143.4 543.8 L143.7 543.8 L143.9 543.8 L144.2 543.8 L144.5 543.8 L144.7 543.8 L145.0 543.9 L145.3 543.9 L145.5 543.9 L145.8 543.9 L146.1 543.9 L146.3 543.9 L146.6 543.9 L146.9 544.0 L147.1 544.0 L147.4 544.0 L147.7 544.0 L147.9 544.0 L148.2 544.0 L148.5 544.0 L148.7 544.0 L149.0 544.0 L149.3 544.1 L149.5 544.1 L149.8 544.1 L150.1 544.1 L150.3 544.1 L150.6 544.1 L150.9 544.1 L151.1 544.1 L151.4 544.1 L151.7 544.1 L152.0 544.2 L152.2 544.2 L152.5 544.2 L152.8 544.2 L153.0 544.2 L153.3 544.2 L153.6 544.2 L153.8 544.2 L154.1 544.2 L154.4 544.2 L154.6 544.2 L154.9 544.2 L155.2 544.3 L155.4 544.3 L155.7 544.3 L156.0 544.3 L156.2 544.3 L156.5 544.3 L156.8 544.3 L157.0 544.3 L157.3 544.3 L157.6 544.3 L157.8 544.3 L158.1 544.3 L158.4 544.3 L158.6 544.3 L158.9 544.4 L159.2 544.4 L159.4 544.4 L159.7 544.4 L160.0 544.4 L160.2 544.4 L160.5 544.4 L160.8 544.4 L161.0 544.4 L161.3 544.4 L161.6 544.4 L161.8 544.4 L162.1 544.4 L162.4 544.4 L162.6 544.4 L162.9 544.4 L163.2 544.4 L163.5 544.4 L163.7 544.4 L164.0 544.5 L164.3 544.5 L164.5 544.5 L164.8 544.5 L165.1 544.5 L165.3 544.5 L165.6 544.5 L165.9 544.5 L166.1 544.5 L166.4 544.5 L166.7 544.5 L166.9 544.5 L167.2 544.5 L167.5 544.5 L167.7 544.5 L168.0 544.5 L168.3 544.5 L168.5 544.5 L168.8 544.5 L169.1 544.5 L169.3 544.5 L169.6 544.5 L169.9 544.5 L170.1 544.5 L170.4 544.5 L170.7 544.5 L170.9 544.6 L171.2 544.6 L171.5 544.6 L171.7 544.6 L172.0 544.6 L172.3 544.6 L172.5 544.6 L172.8 544.6 L173.1 544.6 L173.3 544.6 L173.6 544.6 L173.9 544.6 L174.1 544.6 L174.4 544.6 L174.7 544.6 L174.9 544.6 L175.2 544.6 L175.5 544.6 L175.8 544.6 L176.0 544.6 L176.3 544.6 L176.6 544.6 L176.8 544.6 L177.1 544.6 L177.4 544.6 L177.6 544.6 L177.9 544.6 L178.2 544.6 L178.4 544.6 L178.7 544.6 L179.0 544.6 L179.2 544.6 L179.5 544.6 L179.8 544.6 L180.0 544.6 L180.3 544.6 L180.6 544.6 L180.8 544.6 L181.1 544.6 L181.4 544.6 L181.6 544.6 L181.9 544.6 L182.2 544.6 L182.4 544.7 L182.7 544.7 L183.0 544.7 L183.2 544.7 L183.5 544.7 L183.8 544.7 L184.0 544.7 L184.3 544.7 L184.6 544.7 L184.8 544.7 L185.1 544.7 L185.4 544.7 L185.6 544.7 L185.9 544.7 L186.2 544.7 L186.4 544.7 L186.7 544.7 L187.0 544.7 L187.3 544.7 L187.5 544.7 L187.8 544.7 L188.1 544.7 L188.3 544.7 L188.6 544.7 L188.9 544.7 L189.1 544.7 L189.4 544.7 L189.7 544.7 L189.9 544.7 L190.2 544.7 L190.5 544.7 L190.7 544.7 L191.0 544.7 L191.3 544.7 L191.5 544.7 L191.8 544.7 L192.1 544.7 L192.3 544.7 L192.6 544.7 L192.9 544.7 L193.1 544.7 L193.4 544.7 L193.7 544.7 L193.9 544.7 L194.2 544.7 L194.5 544.7 L194.7 544.7 L195.0 544.7 L195.3 544.7 L195.5 544.7 L195.8 544.7 L196.1 544.7 L196.3 544.7 L196.6 544.7 L196.9 544.7 L197.1 544.7 L197.4 544.7 L197.7 544.7 L197.9 544.7 L198.2 544.7 L198.5 544.7 L198.8 544.7 L199.0 544.7 L199.3 544.7 L199.6 544.7 L199.8 544.7 L200.1 544.7 L200.4 544.7 L200.6 544.7 L200.9 544.7 L201.2 544.7 L201.4 544.7 L201.7 544.7 L202.0 544.7 L202.2 544.7 L202.5 544.7 L202.8 544.7 L203.0 544.7 L203.3 544.7 L203.6 544.7 L203.8 544.7 L204.1 544.7 L204.4 544.7 L204.6 544.7 L204.9 544.7 L205.2 544.7 L205.4 544.7 L205.7 544.7 L206.0 544.7 L206.2 544.7 L206.5 544.7 L206.8 544.7 L207.0 544.7 L207.3 544.7 L207.6 544.7 L207.8 544.7 L208.1 544.7 L208.4 544.7 L208.6 544.7 L208.9 544.7 L209.2 544.7 L209.4 544.7 L209.7 544.7 L210.0 544.7 L210.2 544.7 L210.5 544.7 L210.8 544.7 L211.1 544.7 L211.3 544.7 L211.6 544.7 L211.9 544.7 L212.1 544.7 L212.4 544.7 L212.7 544.7 L212.9 544.7 L213.2 544.7 L213.5 544.7 L213.7 544.7 L214.0 544.7 L214.3 544.7 L214.5 544.7 L214.8 544.7 L215.1 544.7 L215.3 544.6 L215.6 544.6 L215.9 544.6 L216.1 544.6 L216.4 544.6 L216.7 544.6 L216.9 544.6 L217.2 544.6 L217.5 544.6 L217.7 544.6 L218.0 544.6 L218.3 544.6 L218.5 544.6 L218.8 544.6 L219.1 544.6 L219.3 544.6 L219.6 544.6 L219.9 544.6 L220.1 544.6 L220.4 544.6 L220.7 544.6 L220.9 544.6 L221.2 544.6 L221.5 544.6 L221.7 544.6 L222.0 544.6 L222.3 544.6 L222.6 544.6 L222.8 544.6 L223.1 544.6 L223.4 544.6 L223.6 544.6 L223.9 544.6 L224.2 544.6 L224.4 544.6 L224.7 544.6 L225.0 544.6 L225.2 544.6 L225.5 544.6 L225.8 544.6 L226.0 544.6 L226.3 544.6 L226.6 544.6 L226.8 544.5 L227.1 544.5 L227.4 544.5 L227.6 544.5 L227.9 544.5 L228.2 544.5 L228.4 544.5 L228.7 544.5 L229.0 544.5 L229.2 544.5 L229.5 544.5 L229.8 544.5 L230.0 544.5 L230.3 544.5 L230.6 544.5 L230.8 544.5 L231.1 544.5 L231.4 544.5 L231.6 544.5 L231.9 544.5 L232.2 544.5 L232.4 544.5 L232.7 544.5 L233.0 544.5 L233.2 544.5 L233.5 544.5 L233.8 544.4 L234.0 544.4 L234.3 544.4 L234.6 544.4 L234.9 544.4 L235.1 544.4 L235.4 544.4 L235.7 544.4 L235.9 544.4 L236.2 544.4 L236.5 544.4 L236.7 544.4 L237.0 544.4 L237.3 544.4 L237.5 544.4 L237.8 544.4 L238.1 544.4 L238.3 544.4 L238.6 544.4 L238.9 544.3 L239.1 544.3 L239.4 544.3 L239.7 544.3 L239.9 544.3 L240.2 544.3 L240.5 544.3 L240.7 544.3 L241.0 544.3 L241.3 544.3 L241.5 544.3 L241.8 544.3 L242.1 544.3 L242.3 544.3 L242.6 544.2 L242.9 544.2 L243.1 544.2 L243.4 544.2 L243.7 544.2 L243.9 544.2 L244.2 544.2 L244.5 544.2 L244.7 544.2 L245.0 544.2 L245.3 544.2 L245.5 544.2 L245.8 544.1 L246.1 544.1 L246.4 544.1 L246.6 544.1 L246.9 544.1 L247.2 544.1 L247.4 544.1 L247.7 544.1 L248.0 544.1 L248.2 544.1 L248.5 544.0 L248.8 544.0 L249.0 544.0 L249.3 544.0 L249.6 544.0 L249.8 544.0 L250.1 544.0 L250.4 544.0 L250.6 544.0 L250.9 543.9 L251.2 543.9 L251.4 543.9 L251.7 543.9 L252.0 543.9 L252.2 543.9 L252.5 543.9 L252.8 543.8 L253.0 543.8 L253.3 543.8 L253.6 543.8 L253.8 543.8 L254.1 543.8 L254.4 543.8 L254.6 543.7 L254.9 543.7 L255.2 543.7 L255.4 543.7 L255.7 543.7 L256.0 543.7 L256.2 543.6 L256.5 543.6 L256.8 543.6 L257.0 543.6 L257.3 543.6 L257.6 543.6 L257.8 543.5 L258.1 543.5 L258.4 543.5 L258.7 543.5 L258.9 543.5 L259.2 543.4 L259.5 543.4 L259.7 543.4 L260.0 543.4 L260.3 543.3 L260.5 543.3 L260.8 543.3 L261.1 543.3 L261.3 543.2 L261.6 543.2 L261.9 543.2 L262.1 543.2 L262.4 543.1 L262.7 543.1 L262.9 543.1 L263.2 543.1 L263.5 543.0 L263.7 543.0 L264.0 543.0 L264.3 542.9 L264.5 542.9 L264.8 542.9 L265.1 542.8 L265.3 542.8 L265.6 542.8 L265.9 542.7 L266.1 542.7 L266.4 542.7 L266.7 542.6 L266.9 542.6 L267.2 542.5 L267.5 542.5 L267.7 542.5 L268.0 542.4 L268.3 542.4 L268.5 542.3 L268.8 542.3 L269.1 542.2 L269.3 542.2 L269.6 542.1 L269.9 542.1 L270.2 542.0 L270.4 542.0 L270.7 541.9 L271.0 541.9 L271.2 541.8 L271.5 541.8 L271.8 541.7 L272.0 541.7 L272.3 541.6 L272.6 541.5 L272.8 541.5 L273.1 541.4 L273.4 541.3 L273.6 541.3 L273.9 541.2 L274.2 541.1 L274.4 541.0 L274.7 541.0 L275.0 540.9 L275.2 540.8 L275.5 540.7 L275.8 540.6 L276.0 540.6 L276.3 540.5 L276.6 540.4 L276.8 540.3 L277.1 540.2 L277.4 540.1 L277.6 540.0 L277.9 539.9 L278.2 539.8 L278.4 539.6 L278.7 539.5 L279.0 539.4 L279.2 539.3 L279.5 539.1 L279.8 539.0 L280.0 538.9 L280.3 538.7 L280.6 538.6 L280.8 538.4 L281.1 538.3 L281.4 538.1 L281.6 538.0 L281.9 537.8 L282.2 537.6 L282.5 537.4 L282.7 537.2 L283.0 537.0 L283.3 536.8 L283.5 536.6 L283.8 536.4 L284.1 536.2 L284.3 535.9 L284.6 535.7 L284.9 535.4 L285.1 535.2 L285.4 534.9 L285.7 534.6 L285.9 534.3 L286.2 534.0 L286.5 533.7 L286.7 533.4 L287.0 533.0 L287.3 532.7 L287.5 532.3 L287.8 531.9 L288.1 531.5 L288.3 531.1 L288.6 530.6 L288.9 530.2 L289.1 529.7 L289.4 529.2 L289.7 528.6 L289.9 528.1 L290.2 527.5 L290.5 526.9 L290.7 526.3 L291.0 525.6 L291.3 524.9 L291.5 524.1 L291.8 523.3 L292.1 522.5 L292.3 521.7 L292.6 520.7 L292.9 519.8 L293.1 518.8 L293.4 517.7 L293.7 516.6 L294.0 515.3 L294.2 514.1 L294.5 512.7 L294.8 511.3 L295.0 509.8 L295.3 508.2 L295.6 506.4 L295.8 504.6 L296.1 502.7 L296.4 500.6 L296.6 498.4 L296.9 496.1 L297.2 493.5 L297.4 490.8 L297.7 488.0 L298.0 484.9 L298.2 481.6 L298.5 478.1 L298.8 474.3 L299.0 470.3 L299.3 465.9 L299.6 461.3 L299.8 456.3 L300.1 451.0 L300.4 445.3 L300.6 439.3 L300.9 432.8 L301.2 426.0 L301.4 418.7 L301.7 411.0 L302.0 403.0 L302.2 394.6 L302.5 385.9 L302.8 377.0 L303.0 368.0 L303.3 358.9 L303.6 349.9 L303.8 341.3 L304.1 333.1 L304.4 325.6 L304.6 319.0 L304.9 313.4 L305.2 309.1 L305.4 306.3 L305.7 304.9 L306.0 305.1 L306.3 306.8 L306.5 309.9 L306.8 314.4 L307.1 320.1 L307.3 326.7 L307.6 334.1 L307.9 342.0 L308.1 350.4 L308.4 358.9 L308.7 367.6 L308.9 376.1 L309.2 384.6 L309.5 392.8 L309.7 400.7 L310.0 408.2 L310.3 415.4 L310.5 422.3 L310.8 428.8 L311.1 434.9 L311.3 440.7 L311.6 446.1 L311.9 451.1 L312.1 455.9 L312.4 460.4 L312.7 464.5 L312.9 468.5 L313.2 472.1 L313.5 475.6 L313.7 478.8 L314.0 481.8 L314.3 484.7 L314.5 487.3 L314.8 489.8 L315.1 492.2 L315.3 494.4 L315.6 496.5 L315.9 498.4 L316.1 500.3 L316.4 502.0 L316.7 503.7 L316.9 505.2 L317.2 506.7 L317.5 508.1 L317.8 509.4 L318.0 510.7 L318.3 511.9 L318.6 513.0 L318.8 514.1 L319.1 515.1 L319.4 516.0 L319.6 517.0 L319.9 517.8 L320.2 518.7 L320.4 519.5 L320.7 520.2 L321.0 521.0 L321.2 521.7 L321.5 522.3 L321.8 523.0 L322.0 523.6 L322.3 524.2 L322.6 524.7 L322.8 525.3 L323.1 525.8 L323.4 526.3 L323.6 526.7 L323.9 527.2 L324.2 527.6 L324.4 528.1 L324.7 528.5 L325.0 528.9 L325.2 529.2 L325.5 529.6 L325.8 530.0 L326.0 530.3 L326.3 530.6 L326.6 530.9 L326.8 531.2 L327.1 531.5 L327.4 531.8 L327.6 532.1 L327.9 532.4 L328.2 532.6 L328.4 532.9 L328.7 533.1 L329.0 533.3 L329.2 533.6 L329.5 533.8 L329.8 534.0 L330.1 534.2 L330.3 534.4 L330.6 534.6 L330.9 534.8 L331.1 535.0 L331.4 535.1 L331.7 535.3 L331.9 535.5 L332.2 535.7 L332.5 535.8 L332.7 536.0 L333.0 536.1 L333.3 536.3 L333.5 536.4 L333.8 536.5 L334.1 536.7 L334.3 536.8 L334.6 536.9 L334.9 537.1 L335.1 537.2 L335.4 537.3 L335.7 537.4 L335.9 537.5 L336.2 537.6 L336.5 537.8 L336.7 537.9 L337.0 538.0 L337.3 538.1 L337.5 538.2 L337.8 538.3 L338.1 538.3 L338.3 538.4 L338.6 538.5 L338.9 538.6 L339.1 538.7 L339.4 538.8 L339.7 538.9 L339.9 538.9 L340.2 539.0 L340.5 539.1 L340.7 539.2 L341.0 539.2 L341.3 539.3 L341.6 539.4 L341.8 539.5 L342.1 539.5 L342.4 539.6 L342.6 539.7 L342.9 539.7 L343.2 539.8 L343.4 539.8 L343.7 539.9 L344.0 540.0 L344.2 540.0 L344.5 540.1 L344.8 540.1 L345.0 540.2 L345.3 540.2 L345.6 540.3 L345.8 540.3 L346.1 540.4 L346.4 540.4 L346.6 540.5 L346.9 540.5 L347.2 540.6 L347.4 540.6 L347.7 540.7 L348.0 540.7 L348.2 540.8 L348.5 540.8 L348.8 540.8 L349.0 540.9 L349.3 540.9 L349.6 541.0 L349.8 541.0 L350.1 541.0 L350.4 541.1 L350.6 541.1 L350.9 541.2 L351.2 541.2 L351.4 541.2 L351.7 541.3 L352.0 541.3 L352.2 541.3 L352.5 541.4 L352.8 541.4 L353.0 541.4 L353.3 541.5 L353.6 541.5 L353.9 541.5 L354.1 541.6 L354.4 541.6 L354.7 541.6 L354.9 541.6 L355.2 541.7 L355.5 541.7 L355.7 541.7 L356.0 541.8 L356.3 541.8 L356.5 541.8 L356.8 541.8 L357.1 541.9 L357.3 541.9 L357.6 541.9 L357.9 541.9 L358.1 542.0 L358.4 542.0 L358.7 542.0 L358.9 542.0 L359.2 542.0" fill="none" stroke="#0000ff" stroke-width="2.15" stroke-linejoin="round" clip-path="url(#cl-f)"/>
<rect x="38.3" y="304.9" width="320.9" height="239.8" fill="none" stroke="#231f20" stroke-width="1.5"/>
<path d="M91.8 304.9v4.2M91.8 544.7v-4.2M145.3 304.9v4.2M145.3 544.7v-4.2M198.8 304.9v4.2M198.8 544.7v-4.2M252.2 304.9v4.2M252.2 544.7v-4.2M305.7 304.9v4.2M305.7 544.7v-4.2M38.3 328.9h4.2M359.2 328.9h-4.2M38.3 352.9h4.2M359.2 352.9h-4.2M38.3 376.8h4.2M359.2 376.8h-4.2M38.3 400.8h4.2M359.2 400.8h-4.2M38.3 424.8h4.2M359.2 424.8h-4.2M38.3 448.8h4.2M359.2 448.8h-4.2M38.3 472.8h4.2M359.2 472.8h-4.2M38.3 496.7h4.2M359.2 496.7h-4.2M38.3 520.7h4.2M359.2 520.7h-4.2" stroke="#231f20" stroke-width="1.35" fill="none"/>
</g>
<g id="p-g">
<clipPath id="cl-g"><rect x="370.9" y="303.7" width="320.70000000000005" height="242.20000000000007"/></clipPath>
<rect x="527.5" y="304.9" width="7.5" height="239.80000000000007" fill="#f699a8"/>
<line x1="527.5" y1="304.9" x2="527.5" y2="544.7" stroke="#ee1c25" stroke-width="1.9" stroke-dasharray="0.01 5.99" stroke-linecap="round"/>
<line x1="535.0" y1="304.9" x2="535.0" y2="544.7" stroke="#ee1c25" stroke-width="1.9" stroke-dasharray="0.01 5.99" stroke-linecap="round"/>
<path d="M370.9 542.5 L372.0 542.5 L373.1 542.4 L374.2 542.4 L375.2 542.4 L376.2 542.3 L377.2 542.2 L378.2 542.1 L379.2 542.0 L380.2 541.9 L381.1 541.8 L382.0 541.7 L383.0 541.6 L383.8 541.4 L384.7 541.3 L385.6 541.1 L386.4 541.0 L387.2 540.8 L388.1 540.6 L388.9 540.4 L389.6 540.2 L390.4 539.9 L391.1 539.7 L391.9 539.5 L392.6 539.2 L393.3 538.9 L394.0 538.6 L394.7 538.3 L395.3 538.0 L396.0 537.7 L396.6 537.4 L397.2 537.0 L397.9 536.7 L398.4 536.3 L399.0 535.9 L399.6 535.5 L400.2 535.1 L400.7 534.7 L401.2 534.3 L401.8 533.8 L402.3 533.4 L402.8 532.9 L403.3 532.4 L403.7 531.9 L404.2 531.4 L404.7 530.9 L405.1 530.3 L405.5 529.8 L406.0 529.2 L406.4 528.6 L406.8 528.0 L407.2 527.4 L407.6 526.8 L407.9 526.1 L408.3 525.5 L408.7 524.8 L409.0 524.1 L409.4 523.4 L409.7 522.7 L410.0 521.9 L410.3 521.2 L410.6 520.4 L410.9 519.7 L411.2 518.9 L411.5 518.0 L411.8 517.2 L412.1 516.4 L412.3 515.5 L412.6 514.7 L412.8 513.8 L413.1 512.9 L413.3 512.0 L413.6 511.1 L413.8 510.1 L414.0 509.2 L414.2 508.2 L414.4 507.2 L414.6 506.3 L414.8 505.3 L415.0 504.3 L415.2 503.3 L415.4 502.2 L415.6 501.2 L415.7 500.2 L415.9 499.1 L416.1 498.0 L416.2 497.0 L416.4 495.9 L416.5 494.8 L416.7 493.7 L416.8 492.6 L416.9 491.5 L417.1 490.4 L417.2 489.3 L417.3 488.1 L417.4 487.0 L417.6 485.8 L417.7 484.7 L417.8 483.5 L417.9 482.4 L418.0 481.2 L418.1 480.1 L418.2 478.9 L418.3 477.7 L418.4 476.5 L418.5 475.3 L418.6 474.2 L418.7 473.0 L418.8 471.8 L418.9 470.6 L418.9 469.4 L419.0 468.2 L419.1 467.0 L419.2 465.8 L419.3 464.6 L419.4 463.4 L419.4 462.2 L419.5 461.0 L419.6 459.8 L419.7 458.6 L419.8 457.4 L419.8 456.3 L419.9 455.1 L420.0 453.9 L420.1 452.7 L420.1 451.5 L420.2 450.3 L420.3 449.1 L420.3 447.9 L420.4 446.7 L420.5 445.5 L420.6 444.3 L420.6 443.1 L420.7 442.0 L420.8 440.8 L420.8 439.6 L420.9 438.4 L421.0 437.2 L421.0 436.0 L421.1 434.8 L421.2 433.7 L421.2 432.5 L421.3 431.3 L421.4 430.1 L421.4 428.9 L421.5 427.7 L421.5 426.6 L421.6 425.4 L421.7 424.2 L421.7 423.0 L421.8 421.9 L421.8 420.7 L421.9 419.5 L421.9 418.3 L422.0 417.1 L422.1 416.0 L422.1 414.8 L422.2 413.6 L422.2 412.4 L422.3 411.2 L422.3 410.1 L422.4 408.9 L422.4 407.7 L422.5 406.5 L422.6 405.3 L422.6 404.1 L422.7 402.9 L422.7 401.7 L422.8 400.5 L422.8 399.3 L422.9 398.1 L422.9 396.9 L423.0 395.7 L423.1 394.4 L423.1 393.2 L423.2 392.0 L423.2 390.7 L423.3 389.5 L423.3 388.3 L423.4 387.0 L423.5 385.8 L423.5 384.5 L423.6 383.2 L423.6 382.0 L423.7 380.7 L423.7 379.4 L423.8 378.2 L423.9 376.9 L423.9 375.6 L424.0 374.3 L424.1 373.1 L424.1 371.8 L424.2 370.5 L424.2 369.2 L424.3 367.9 L424.4 366.7 L424.4 365.4 L424.5 364.1 L424.6 362.9 L424.6 361.6 L424.7 360.4 L424.8 359.1 L424.8 357.8 L424.9 356.6 L424.9 355.4 L425.0 354.1 L425.1 352.9 L425.1 351.7 L425.2 350.5 L425.3 349.3 L425.3 348.1 L425.4 346.9 L425.5 345.7 L425.5 344.5 L425.6 343.4 L425.7 342.2 L425.7 341.1 L425.8 339.9 L425.9 338.8 L425.9 337.7 L426.0 336.6 L426.1 335.5 L426.1 334.4 L426.2 333.4 L426.3 332.3 L426.3 331.3 L426.4 330.3 L426.5 329.3 L426.5 328.3 L426.6 327.3 L426.6 326.3 L426.7 325.4 L426.8 324.5 L426.8 323.5 L426.9 322.7 L427.0 321.8 L427.0 320.9 L427.1 320.1 L427.2 319.2 L427.2 318.4 L427.3 317.6 L427.3 316.9 L427.4 316.1 L427.5 315.4 L427.5 314.7 L427.6 314.0 L427.6 313.3 L427.7 312.6 L427.7 312.0 L427.8 311.4 L427.9 310.8 L427.9 310.2 L428.0 309.7 L428.0 309.2 L428.1 308.7 L428.1 308.2 L428.2 307.8 L428.2 307.3 L428.3 306.9 L428.3 306.5 L428.4 306.2 L428.5 305.8 L428.5 305.5 L428.6 305.3 L428.6 305.0 L428.6 305.0 L428.7 305.2 L428.7 305.5 L428.8 305.8 L428.9 306.1 L428.9 306.5 L429.0 306.9 L429.0 307.3 L429.1 307.8 L429.1 308.3 L429.2 308.8 L429.2 309.3 L429.3 309.9 L429.3 310.5 L429.4 311.1 L429.4 311.8 L429.4 312.5 L429.5 313.2 L429.5 313.9 L429.6 314.6 L429.6 315.4 L429.6 316.2 L429.7 317.0 L429.7 317.9 L429.7 318.8 L429.8 319.6 L429.8 320.6 L429.8 321.5 L429.9 322.4 L429.9 323.4 L429.9 324.4 L429.9 325.4 L430.0 326.4 L430.0 327.5 L430.0 328.6 L430.0 329.6 L430.0 330.7 L430.1 331.8 L430.1 333.0 L430.1 334.1 L430.1 335.3 L430.1 336.4 L430.1 337.6 L430.2 338.8 L430.2 340.0 L430.2 341.3 L430.2 342.5 L430.2 343.7 L430.2 345.0 L430.3 346.3 L430.3 347.5 L430.3 348.8 L430.3 350.1 L430.3 351.4 L430.3 352.7 L430.3 354.1 L430.3 355.4 L430.3 356.7 L430.4 358.1 L430.4 359.4 L430.4 360.8 L430.4 362.1 L430.4 363.5 L430.4 364.8 L430.4 366.2 L430.4 367.6 L430.5 368.9 L430.5 370.3 L430.5 371.7 L430.5 373.1 L430.5 374.4 L430.5 375.8 L430.5 377.2 L430.5 378.6 L430.6 379.9 L430.6 381.3 L430.6 382.7 L430.6 384.0 L430.6 385.4 L430.6 386.7 L430.6 388.1 L430.7 389.4 L430.7 390.8 L430.7 392.1 L430.7 393.5 L430.7 394.8 L430.8 396.1 L430.8 397.4 L430.8 398.7 L430.8 400.1 L430.8 401.4 L430.9 402.7 L430.9 404.0 L430.9 405.3 L430.9 406.6 L431.0 407.8 L431.0 409.1 L431.0 410.4 L431.0 411.7 L431.1 413.0 L431.1 414.3 L431.1 415.5 L431.2 416.8 L431.2 418.1 L431.2 419.3 L431.2 420.6 L431.3 421.9 L431.3 423.1 L431.3 424.4 L431.4 425.6 L431.4 426.9 L431.4 428.1 L431.5 429.4 L431.5 430.6 L431.5 431.9 L431.5 433.1 L431.6 434.4 L431.6 435.6 L431.6 436.9 L431.7 438.1 L431.7 439.4 L431.7 440.6 L431.8 441.9 L431.8 443.1 L431.9 444.3 L431.9 445.6 L431.9 446.8 L432.0 448.1 L432.0 449.3 L432.0 450.6 L432.1 451.8 L432.1 453.1 L432.1 454.3 L432.2 455.6 L432.2 456.8 L432.3 458.1 L432.3 459.3 L432.3 460.6 L432.4 461.9 L432.4 463.1 L432.4 464.4 L432.5 465.6 L432.5 466.9 L432.6 468.2 L432.6 469.4 L432.6 470.7 L432.7 472.0 L432.7 473.2 L432.8 474.5 L432.8 475.7 L432.9 477.0 L432.9 478.3 L433.0 479.5 L433.0 480.7 L433.1 482.0 L433.2 483.2 L433.2 484.5 L433.3 485.7 L433.4 486.9 L433.4 488.1 L433.5 489.3 L433.6 490.6 L433.7 491.8 L433.8 492.9 L433.9 494.1 L434.0 495.3 L434.1 496.5 L434.2 497.6 L434.3 498.8 L434.4 499.9 L434.5 501.1 L434.7 502.2 L434.8 503.3 L434.9 504.4 L435.1 505.5 L435.3 506.6 L435.4 507.6 L435.6 508.7 L435.8 509.7 L435.9 510.7 L436.1 511.7 L436.3 512.7 L436.5 513.7 L436.7 514.7 L436.9 515.7 L437.2 516.6 L437.4 517.5 L437.6 518.4 L437.9 519.3 L438.1 520.2 L438.4 521.0 L438.7 521.9 L439.0 522.7 L439.3 523.5 L439.6 524.3 L439.9 525.1 L440.2 525.8 L440.5 526.6 L440.9 527.3 L441.2 528.0 L441.6 528.7 L442.0 529.3 L442.4 530.0 L442.7 530.6 L443.2 531.3 L443.6 531.9 L444.0 532.4 L444.4 533.0 L444.9 533.6 L445.3 534.1 L445.8 534.6 L446.3 535.1 L446.8 535.6 L447.3 536.1 L447.8 536.6 L448.4 537.0 L448.9 537.5 L449.5 537.9 L450.1 538.3 L450.7 538.7 L451.3 539.0 L451.9 539.4 L452.5 539.7 L453.1 540.0 L453.8 540.3 L454.5 540.6 L455.2 540.9 L455.9 541.2 L456.6 541.4 L457.3 541.7 L458.0 541.9 L458.8 542.1 L459.5 542.3 L460.3 542.5 L461.1 542.7 L461.9 542.8 L462.6 543.0 L463.5 543.1 L464.3 543.3 L465.1 543.4 L465.9 543.5 L466.7 543.6 L467.6 543.7 L468.4 543.8 L469.3 543.9 L470.1 544.0 L471.0 544.1 L471.8 544.1 L472.7 544.2 L473.6 544.2 L474.5 544.3 L475.3 544.3 L476.2 544.3 L477.1 544.4 L477.9 544.4 L478.8 544.4 L479.7 544.4 L480.6 544.5 L481.4 544.5 L482.3 544.5 L483.2 544.5 L484.0 544.5 L484.9 544.5 L485.8 544.5 L486.6 544.5 L487.5 544.5 L488.3 544.5 L489.2 544.5 L490.0 544.5 L490.8 544.5 L491.7 544.5 L492.5 544.5 L493.3 544.6 L494.2 544.6 L495.0 544.6 L495.8 544.6 L496.6 544.6 L497.5 544.6 L498.3 544.6 L499.1 544.6 L499.9 544.5 L500.7 544.5 L501.5 544.5 L502.3 544.5 L503.2 544.5 L504.0 544.5 L504.8 544.5 L505.6 544.5 L506.4 544.5 L507.2 544.5 L508.0 544.5 L508.8 544.5 L509.6 544.5 L510.4 544.5 L511.3 544.5 L512.1 544.5 L512.9 544.5 L513.7 544.5 L514.5 544.5 L515.3 544.5 L516.1 544.5 L517.0 544.5 L517.8 544.5 L518.6 544.5 L519.4 544.5 L520.2 544.5 L521.1 544.5 L521.9 544.5 L522.7 544.5 L523.6 544.5 L524.4 544.5 L525.3 544.5 L526.1 544.5 L527.0 544.6 L527.8 544.6 L528.7 544.6 L529.5 544.6 L530.4 544.6 L531.2 544.6 L531.3 544.6 L532.1 544.6 L533.0 544.6 L533.8 544.6 L534.7 544.6 L535.5 544.6 L536.4 544.5 L537.2 544.5 L538.1 544.5 L538.9 544.5 L539.8 544.5 L540.6 544.5 L541.4 544.5 L542.3 544.5 L543.1 544.5 L543.9 544.5 L544.7 544.5 L545.5 544.5 L546.4 544.5 L547.2 544.5 L548.0 544.5 L548.8 544.5 L549.6 544.5 L550.4 544.5 L551.2 544.5 L552.1 544.5 L552.9 544.5 L553.7 544.5 L554.5 544.5 L555.3 544.5 L556.1 544.5 L556.9 544.5 L557.7 544.5 L558.5 544.5 L559.3 544.5 L560.2 544.5 L561.0 544.5 L561.8 544.5 L562.6 544.5 L563.4 544.6 L564.2 544.6 L565.0 544.6 L565.9 544.6 L566.7 544.6 L567.5 544.6 L568.3 544.6 L569.2 544.6 L570.0 544.5 L570.8 544.5 L571.7 544.5 L572.5 544.5 L573.3 544.5 L574.2 544.5 L575.0 544.5 L575.9 544.5 L576.7 544.5 L577.6 544.5 L578.5 544.5 L579.3 544.5 L580.2 544.5 L581.1 544.5 L581.9 544.5 L582.8 544.4 L583.7 544.4 L584.6 544.4 L585.4 544.4 L586.3 544.3 L587.2 544.3 L588.0 544.3 L588.9 544.2 L589.8 544.2 L590.7 544.1 L591.5 544.1 L592.4 544.0 L593.2 543.9 L594.1 543.8 L594.9 543.7 L595.8 543.6 L596.6 543.5 L597.4 543.4 L598.2 543.3 L599.0 543.1 L599.9 543.0 L600.6 542.8 L601.4 542.7 L602.2 542.5 L603.0 542.3 L603.7 542.1 L604.5 541.9 L605.2 541.7 L605.9 541.4 L606.6 541.2 L607.3 540.9 L608.0 540.6 L608.7 540.3 L609.4 540.0 L610.0 539.7 L610.6 539.4 L611.2 539.0 L611.8 538.7 L612.4 538.3 L613.0 537.9 L613.6 537.5 L614.1 537.0 L614.7 536.6 L615.2 536.1 L615.7 535.6 L616.2 535.1 L616.7 534.6 L617.2 534.1 L617.6 533.6 L618.1 533.0 L618.5 532.4 L618.9 531.9 L619.3 531.3 L619.8 530.6 L620.1 530.0 L620.5 529.3 L620.9 528.7 L621.3 528.0 L621.6 527.3 L622.0 526.6 L622.3 525.8 L622.6 525.1 L622.9 524.3 L623.2 523.5 L623.5 522.7 L623.8 521.9 L624.1 521.0 L624.4 520.2 L624.6 519.3 L624.9 518.4 L625.1 517.5 L625.3 516.6 L625.6 515.7 L625.8 514.7 L626.0 513.7 L626.2 512.7 L626.4 511.7 L626.6 510.7 L626.7 509.7 L626.9 508.7 L627.1 507.6 L627.2 506.6 L627.4 505.5 L627.6 504.4 L627.7 503.3 L627.8 502.2 L628.0 501.1 L628.1 499.9 L628.2 498.8 L628.3 497.6 L628.4 496.5 L628.5 495.3 L628.6 494.1 L628.7 492.9 L628.8 491.8 L628.9 490.6 L629.0 489.3 L629.1 488.1 L629.1 486.9 L629.2 485.7 L629.3 484.5 L629.3 483.2 L629.4 482.0 L629.5 480.7 L629.5 479.5 L629.6 478.3 L629.6 477.0 L629.7 475.7 L629.7 474.5 L629.8 473.2 L629.8 472.0 L629.9 470.7 L629.9 469.4 L629.9 468.2 L630.0 466.9 L630.0 465.6 L630.1 464.4 L630.1 463.1 L630.1 461.9 L630.2 460.6 L630.2 459.3 L630.2 458.1 L630.3 456.8 L630.3 455.6 L630.4 454.3 L630.4 453.1 L630.4 451.8 L630.5 450.6 L630.5 449.3 L630.5 448.1 L630.6 446.8 L630.6 445.6 L630.6 444.3 L630.7 443.1 L630.7 441.9 L630.8 440.6 L630.8 439.4 L630.8 438.1 L630.9 436.9 L630.9 435.6 L630.9 434.4 L631.0 433.1 L631.0 431.9 L631.0 430.6 L631.0 429.4 L631.1 428.1 L631.1 426.9 L631.1 425.6 L631.2 424.4 L631.2 423.1 L631.2 421.9 L631.3 420.6 L631.3 419.3 L631.3 418.1 L631.3 416.8 L631.4 415.5 L631.4 414.3 L631.4 413.0 L631.5 411.7 L631.5 410.4 L631.5 409.1 L631.5 407.8 L631.6 406.6 L631.6 405.3 L631.6 404.0 L631.6 402.7 L631.7 401.4 L631.7 400.1 L631.7 398.7 L631.7 397.4 L631.7 396.1 L631.8 394.8 L631.8 393.5 L631.8 392.1 L631.8 390.8 L631.8 389.4 L631.9 388.1 L631.9 386.7 L631.9 385.4 L631.9 384.0 L631.9 382.7 L631.9 381.3 L631.9 379.9 L632.0 378.6 L632.0 377.2 L632.0 375.8 L632.0 374.4 L632.0 373.1 L632.0 371.7 L632.0 370.3 L632.0 368.9 L632.1 367.6 L632.1 366.2 L632.1 364.8 L632.1 363.5 L632.1 362.1 L632.1 360.8 L632.1 359.4 L632.1 358.1 L632.2 356.7 L632.2 355.4 L632.2 354.1 L632.2 352.7 L632.2 351.4 L632.2 350.1 L632.2 348.8 L632.2 347.5 L632.2 346.3 L632.3 345.0 L632.3 343.7 L632.3 342.5 L632.3 341.3 L632.3 340.0 L632.3 338.8 L632.4 337.6 L632.4 336.4 L632.4 335.3 L632.4 334.1 L632.4 333.0 L632.4 331.8 L632.5 330.7 L632.5 329.6 L632.5 328.6 L632.5 327.5 L632.5 326.4 L632.6 325.4 L632.6 324.4 L632.6 323.4 L632.6 322.4 L632.7 321.5 L632.7 320.6 L632.7 319.6 L632.8 318.8 L632.8 317.9 L632.8 317.0 L632.9 316.2 L632.9 315.4 L632.9 314.6 L633.0 313.9 L633.0 313.2 L633.1 312.5 L633.1 311.8 L633.1 311.1 L633.2 310.5 L633.2 309.9 L633.3 309.3 L633.3 308.8 L633.4 308.3 L633.4 307.8 L633.5 307.3 L633.5 306.9 L633.6 306.5 L633.6 306.1 L633.7 305.8 L633.8 305.5 L633.8 305.2 L633.9 305.0 L633.9 305.0 L633.9 305.3 L634.0 305.5 L634.0 305.8 L634.1 306.2 L634.2 306.5 L634.2 306.9 L634.3 307.3 L634.3 307.8 L634.4 308.2 L634.4 308.7 L634.5 309.2 L634.5 309.7 L634.6 310.2 L634.6 310.8 L634.7 311.4 L634.8 312.0 L634.8 312.6 L634.9 313.3 L634.9 314.0 L635.0 314.7 L635.0 315.4 L635.1 316.1 L635.2 316.9 L635.2 317.6 L635.3 318.4 L635.3 319.2 L635.4 320.1 L635.5 320.9 L635.5 321.8 L635.6 322.7 L635.7 323.5 L635.7 324.5 L635.8 325.4 L635.9 326.3 L635.9 327.3 L636.0 328.3 L636.0 329.3 L636.1 330.3 L636.2 331.3 L636.2 332.3 L636.3 333.4 L636.4 334.4 L636.4 335.5 L636.5 336.6 L636.6 337.7 L636.6 338.8 L636.7 339.9 L636.8 341.1 L636.8 342.2 L636.9 343.4 L637.0 344.5 L637.0 345.7 L637.1 346.9 L637.2 348.1 L637.2 349.3 L637.3 350.5 L637.4 351.7 L637.4 352.9 L637.5 354.1 L637.6 355.4 L637.6 356.6 L637.7 357.8 L637.7 359.1 L637.8 360.4 L637.9 361.6 L637.9 362.9 L638.0 364.1 L638.1 365.4 L638.1 366.7 L638.2 367.9 L638.3 369.2 L638.3 370.5 L638.4 371.8 L638.4 373.1 L638.5 374.3 L638.6 375.6 L638.6 376.9 L638.7 378.2 L638.8 379.4 L638.8 380.7 L638.9 382.0 L638.9 383.2 L639.0 384.5 L639.0 385.8 L639.1 387.0 L639.2 388.3 L639.2 389.5 L639.3 390.7 L639.3 392.0 L639.4 393.2 L639.4 394.4 L639.5 395.7 L639.6 396.9 L639.6 398.1 L639.7 399.3 L639.7 400.5 L639.8 401.7 L639.8 402.9 L639.9 404.1 L639.9 405.3 L640.0 406.5 L640.1 407.7 L640.1 408.9 L640.2 410.1 L640.2 411.2 L640.3 412.4 L640.3 413.6 L640.4 414.8 L640.4 416.0 L640.5 417.1 L640.6 418.3 L640.6 419.5 L640.7 420.7 L640.7 421.9 L640.8 423.0 L640.8 424.2 L640.9 425.4 L641.0 426.6 L641.0 427.7 L641.1 428.9 L641.1 430.1 L641.2 431.3 L641.3 432.5 L641.3 433.7 L641.4 434.8 L641.5 436.0 L641.5 437.2 L641.6 438.4 L641.7 439.6 L641.7 440.8 L641.8 442.0 L641.9 443.1 L641.9 444.3 L642.0 445.5 L642.1 446.7 L642.2 447.9 L642.2 449.1 L642.3 450.3 L642.4 451.5 L642.4 452.7 L642.5 453.9 L642.6 455.1 L642.7 456.3 L642.7 457.4 L642.8 458.6 L642.9 459.8 L643.0 461.0 L643.1 462.2 L643.1 463.4 L643.2 464.6 L643.3 465.8 L643.4 467.0 L643.5 468.2 L643.6 469.4 L643.6 470.6 L643.7 471.8 L643.8 473.0 L643.9 474.2 L644.0 475.3 L644.1 476.5 L644.2 477.7 L644.3 478.9 L644.4 480.1 L644.5 481.2 L644.6 482.4 L644.7 483.5 L644.8 484.7 L644.9 485.8 L645.1 487.0 L645.2 488.1 L645.3 489.3 L645.4 490.4 L645.6 491.5 L645.7 492.6 L645.8 493.7 L646.0 494.8 L646.1 495.9 L646.3 497.0 L646.4 498.0 L646.6 499.1 L646.8 500.2 L646.9 501.2 L647.1 502.2 L647.3 503.3 L647.5 504.3 L647.7 505.3 L647.9 506.3 L648.1 507.2 L648.3 508.2 L648.5 509.2 L648.7 510.1 L648.9 511.1 L649.2 512.0 L649.4 512.9 L649.7 513.8 L649.9 514.7 L650.2 515.5 L650.4 516.4 L650.7 517.2 L651.0 518.0 L651.3 518.9 L651.6 519.7 L651.9 520.4 L652.2 521.2 L652.5 521.9 L652.8 522.7 L653.1 523.4 L653.5 524.1 L653.8 524.8 L654.2 525.5 L654.6 526.1 L654.9 526.8 L655.3 527.4 L655.7 528.0 L656.1 528.6 L656.5 529.2 L657.0 529.8 L657.4 530.3 L657.8 530.9 L658.3 531.4 L658.8 531.9 L659.2 532.4 L659.7 532.9 L660.2 533.4 L660.7 533.8 L661.3 534.3 L661.8 534.7 L662.3 535.1 L662.9 535.5 L663.5 535.9 L664.1 536.3 L664.6 536.7 L665.3 537.0 L665.9 537.4 L666.5 537.7 L667.2 538.0 L667.8 538.3 L668.5 538.6 L669.2 538.9 L669.9 539.2 L670.6 539.5 L671.4 539.7 L672.1 539.9 L672.9 540.2 L673.6 540.4 L674.4 540.6 L675.3 540.8 L676.1 541.0 L676.9 541.1 L677.8 541.3 L678.7 541.4 L679.5 541.6 L680.5 541.7 L681.4 541.8 L682.3 541.9 L683.3 542.0 L684.3 542.1 L685.3 542.2 L686.3 542.3 L687.3 542.4 L688.3 542.4 L689.4 542.4 L690.5 542.5 L691.6 542.5" fill="none" stroke="#0000ff" stroke-width="2.15" stroke-linejoin="round" clip-path="url(#cl-g)"/>
<path d="M531.2 544.2 L531.2 543.4 L531.1 542.6 L531.1 541.8 L531.0 540.9 L531.0 540.1 L530.9 539.2 L530.9 538.4 L530.8 537.5 L530.8 536.6 L530.8 535.7 L530.7 534.8 L530.7 533.9 L530.6 532.9 L530.6 532.0 L530.5 531.0 L530.5 530.1 L530.4 529.1 L530.4 528.1 L530.3 527.1 L530.3 526.1 L530.3 525.1 L530.2 524.1 L530.2 523.1 L530.1 522.1 L530.1 521.0 L530.1 520.0 L530.0 518.9 L530.0 517.9 L529.9 516.8 L529.9 515.7 L529.9 514.6 L529.8 513.5 L529.8 512.4 L529.8 511.3 L529.7 510.2 L529.7 509.1 L529.7 508.0 L529.6 506.8 L529.6 505.7 L529.6 504.6 L529.5 503.4 L529.5 502.3 L529.5 501.1 L529.5 500.0 L529.4 498.8 L529.4 497.6 L529.4 496.5 L529.3 495.3 L529.3 494.1 L529.3 492.9 L529.3 491.8 L529.2 490.6 L529.2 489.4 L529.2 488.2 L529.2 487.0 L529.1 485.8 L529.1 484.6 L529.1 483.4 L529.1 482.2 L529.1 481.0 L529.0 479.8 L529.0 478.6 L529.0 477.4 L529.0 476.2 L529.0 474.9 L528.9 473.7 L528.9 472.5 L528.9 471.3 L528.9 470.1 L528.9 468.9 L528.9 467.7 L528.8 466.4 L528.8 465.2 L528.8 464.0 L528.8 462.8 L528.8 461.6 L528.8 460.3 L528.8 459.1 L528.8 457.9 L528.7 456.7 L528.7 455.5 L528.7 454.2 L528.7 453.0 L528.7 451.8 L528.7 450.6 L528.7 449.4 L528.7 448.1 L528.7 446.9 L528.7 445.7 L528.7 444.5 L528.7 443.3 L528.7 442.0 L528.7 440.8 L528.7 439.6 L528.7 438.4 L528.7 437.2 L528.7 436.0 L528.7 434.7 L528.7 433.5 L528.7 432.3 L528.7 431.1 L528.7 429.9 L528.7 428.7 L528.7 427.5 L528.7 426.3 L528.7 425.1 L528.7 423.9 L528.7 422.7 L528.7 421.5 L528.7 420.4 L528.7 419.2 L528.7 418.0 L528.7 416.9 L528.7 415.7 L528.7 414.5 L528.7 413.4 L528.8 412.2 L528.8 411.1 L528.8 410.0 L528.8 408.8 L528.8 407.7 L528.8 406.6 L528.8 405.5 L528.9 404.4 L528.9 403.3 L528.9 402.2 L528.9 401.1 L528.9 400.0 L528.9 399.0 L529.0 397.9 L529.0 396.9 L529.0 395.8 L529.0 394.8 L529.1 393.8 L529.1 392.8 L529.1 391.8 L529.1 390.8 L529.2 389.8 L529.2 388.9 L529.2 387.9 L529.3 387.0 L529.3 386.0 L529.3 385.1 L529.4 384.2 L529.4 383.3 L529.4 382.5 L529.5 381.6 L529.5 380.8 L529.5 379.9 L529.6 379.1 L529.6 378.3 L529.7 377.6 L529.7 376.8 L529.7 376.0 L529.8 375.3 L529.8 374.6 L529.9 373.9 L529.9 373.2 L530.0 372.6 L530.0 372.0 L530.1 371.3 L530.1 370.7 L530.2 370.2 L530.2 369.6 L530.3 369.1 L530.4 368.6 L530.4 368.1 L530.5 367.6 L530.5 367.2 L530.6 366.7 L530.7 366.3 L530.7 366.0 L530.8 365.6 L530.9 365.3 L531.0 365.0 L531.0 364.7 L531.1 364.4 L531.2 364.2 L531.2 364.0 L531.3 364.0 L531.3 364.2 L531.4 364.4 L531.5 364.7 L531.5 365.0 L531.6 365.3 L531.7 365.6 L531.8 366.0 L531.8 366.3 L531.9 366.7 L532.0 367.2 L532.0 367.6 L532.1 368.1 L532.1 368.6 L532.2 369.1 L532.3 369.6 L532.3 370.2 L532.4 370.7 L532.4 371.3 L532.5 372.0 L532.5 372.6 L532.6 373.2 L532.6 373.9 L532.7 374.6 L532.7 375.3 L532.8 376.0 L532.8 376.8 L532.8 377.6 L532.9 378.3 L532.9 379.1 L533.0 379.9 L533.0 380.8 L533.0 381.6 L533.1 382.5 L533.1 383.3 L533.1 384.2 L533.2 385.1 L533.2 386.0 L533.2 387.0 L533.3 387.9 L533.3 388.9 L533.3 389.8 L533.4 390.8 L533.4 391.8 L533.4 392.8 L533.4 393.8 L533.5 394.8 L533.5 395.8 L533.5 396.9 L533.5 397.9 L533.6 399.0 L533.6 400.0 L533.6 401.1 L533.6 402.2 L533.6 403.3 L533.6 404.4 L533.7 405.5 L533.7 406.6 L533.7 407.7 L533.7 408.8 L533.7 410.0 L533.7 411.1 L533.7 412.2 L533.8 413.4 L533.8 414.5 L533.8 415.7 L533.8 416.9 L533.8 418.0 L533.8 419.2 L533.8 420.4 L533.8 421.5 L533.8 422.7 L533.8 423.9 L533.8 425.1 L533.8 426.3 L533.8 427.5 L533.8 428.7 L533.8 429.9 L533.8 431.1 L533.8 432.3 L533.8 433.5 L533.8 434.7 L533.8 436.0 L533.8 437.2 L533.8 438.4 L533.8 439.6 L533.8 440.8 L533.8 442.0 L533.8 443.3 L533.8 444.5 L533.8 445.7 L533.8 446.9 L533.8 448.1 L533.8 449.4 L533.8 450.6 L533.8 451.8 L533.8 453.0 L533.8 454.2 L533.8 455.5 L533.8 456.7 L533.7 457.9 L533.7 459.1 L533.7 460.3 L533.7 461.6 L533.7 462.8 L533.7 464.0 L533.7 465.2 L533.7 466.4 L533.6 467.7 L533.6 468.9 L533.6 470.1 L533.6 471.3 L533.6 472.5 L533.6 473.7 L533.5 474.9 L533.5 476.2 L533.5 477.4 L533.5 478.6 L533.5 479.8 L533.4 481.0 L533.4 482.2 L533.4 483.4 L533.4 484.6 L533.4 485.8 L533.3 487.0 L533.3 488.2 L533.3 489.4 L533.3 490.6 L533.2 491.8 L533.2 492.9 L533.2 494.1 L533.2 495.3 L533.1 496.5 L533.1 497.6 L533.1 498.8 L533.0 500.0 L533.0 501.1 L533.0 502.3 L533.0 503.4 L532.9 504.6 L532.9 505.7 L532.9 506.8 L532.8 508.0 L532.8 509.1 L532.8 510.2 L532.7 511.3 L532.7 512.4 L532.7 513.5 L532.6 514.6 L532.6 515.7 L532.6 516.8 L532.5 517.9 L532.5 518.9 L532.4 520.0 L532.4 521.0 L532.4 522.1 L532.3 523.1 L532.3 524.1 L532.2 525.1 L532.2 526.1 L532.2 527.1 L532.1 528.1 L532.1 529.1 L532.0 530.1 L532.0 531.0 L531.9 532.0 L531.9 532.9 L531.8 533.9 L531.8 534.8 L531.7 535.7 L531.7 536.6 L531.7 537.5 L531.6 538.4 L531.6 539.2 L531.5 540.1 L531.5 540.9 L531.4 541.8 L531.4 542.6 L531.3 543.4 L531.3 544.2" fill="none" stroke="#0000ff" stroke-width="2.15" stroke-linejoin="round" clip-path="url(#cl-g)"/>
<rect x="370.9" y="304.9" width="320.7" height="239.8" fill="none" stroke="#231f20" stroke-width="1.5"/>
<path d="M424.3 304.9v4.2M424.3 544.7v-4.2M477.8 304.9v4.2M477.8 544.7v-4.2M531.2 304.9v4.2M531.2 544.7v-4.2M584.7 304.9v4.2M584.7 544.7v-4.2M638.1 304.9v4.2M638.1 544.7v-4.2M370.9 328.9h4.2M691.6 328.9h-4.2M370.9 352.9h4.2M691.6 352.9h-4.2M370.9 376.8h4.2M691.6 376.8h-4.2M370.9 400.8h4.2M691.6 400.8h-4.2M370.9 424.8h4.2M691.6 424.8h-4.2M370.9 448.8h4.2M691.6 448.8h-4.2M370.9 472.8h4.2M691.6 472.8h-4.2M370.9 496.7h4.2M691.6 496.7h-4.2M370.9 520.7h4.2M691.6 520.7h-4.2" stroke="#231f20" stroke-width="1.35" fill="none"/>
</g>
<g id="p-h">
<clipPath id="cl-h"><rect x="703.4" y="303.7" width="320.9" height="242.20000000000007"/></clipPath>
<rect x="775.4" y="304.9" width="57.9" height="239.80000000000007" fill="#f699a8"/>
<line x1="775.4" y1="304.9" x2="775.4" y2="547.3000000000001" stroke="#ee1c25" stroke-width="1.9" stroke-dasharray="0.01 5.99" stroke-linecap="round"/>
<line x1="833.3" y1="304.9" x2="833.3" y2="547.3000000000001" stroke="#ee1c25" stroke-width="1.9" stroke-dasharray="0.01 5.99" stroke-linecap="round"/>
<rect x="850.0" y="304.9" width="27.6" height="239.80000000000007" fill="#f699a8"/>
<line x1="850.0" y1="304.9" x2="850.0" y2="547.3000000000001" stroke="#ee1c25" stroke-width="1.9" stroke-dasharray="0.01 5.99" stroke-linecap="round"/>
<line x1="877.6" y1="304.9" x2="877.6" y2="547.3000000000001" stroke="#ee1c25" stroke-width="1.9" stroke-dasharray="0.01 5.99" stroke-linecap="round"/>
<rect x="894.4" y="304.9" width="57.9" height="239.80000000000007" fill="#f699a8"/>
<line x1="894.4" y1="304.9" x2="894.4" y2="547.3000000000001" stroke="#ee1c25" stroke-width="1.9" stroke-dasharray="0.01 5.99" stroke-linecap="round"/>
<path d="M756.9 304.9v4.2M756.9 544.7v-4.2M810.4 304.9v4.2M810.4 544.7v-4.2M863.8 304.9v4.2M863.8 544.7v-4.2M917.3 304.9v4.2M917.3 544.7v-4.2M970.8 304.9v4.2M970.8 544.7v-4.2M703.4 328.9h4.2M1024.3 328.9h-4.2M703.4 352.9h4.2M1024.3 352.9h-4.2M703.4 376.8h4.2M1024.3 376.8h-4.2M703.4 400.8h4.2M1024.3 400.8h-4.2M703.4 424.8h4.2M1024.3 424.8h-4.2M703.4 448.8h4.2M1024.3 448.8h-4.2M703.4 472.8h4.2M1024.3 472.8h-4.2M703.4 496.7h4.2M1024.3 496.7h-4.2M703.4 520.7h4.2M1024.3 520.7h-4.2" stroke="#231f20" stroke-width="1.35" fill="none"/>
<path d="M703.4 542.9 L704.6 542.9 L705.8 542.8 L707.0 542.7 L708.2 542.7 L709.4 542.6 L710.5 542.5 L711.6 542.3 L712.7 542.2 L713.8 542.1 L714.9 541.9 L715.9 541.7 L717.0 541.5 L718.0 541.3 L719.0 541.1 L720.0 540.8 L720.9 540.6 L721.9 540.3 L722.8 540.0 L723.7 539.7 L724.6 539.4 L725.5 539.1 L726.4 538.7 L727.2 538.4 L728.1 538.0 L728.9 537.6 L729.7 537.2 L730.5 536.7 L731.3 536.3 L732.1 535.8 L732.8 535.3 L733.6 534.8 L734.3 534.3 L735.0 533.8 L735.7 533.2 L736.4 532.7 L737.1 532.1 L737.7 531.5 L738.4 530.8 L739.0 530.2 L739.6 529.5 L740.3 528.8 L740.9 528.1 L741.4 527.4 L742.0 526.7 L742.6 525.9 L743.2 525.1 L743.7 524.3 L744.2 523.5 L744.8 522.7 L745.3 521.8 L745.8 521.0 L746.3 520.1 L746.8 519.2 L747.3 518.3 L747.7 517.4 L748.2 516.4 L748.7 515.5 L749.1 514.5 L749.6 513.5 L750.0 512.6 L750.4 511.6 L750.8 510.6 L751.3 509.5 L751.7 508.5 L752.1 507.5 L752.5 506.4 L752.8 505.4 L753.2 504.3 L753.6 503.3 L754.0 502.2 L754.4 501.1 L754.7 500.1 L755.1 499.0 L755.5 497.9 L755.8 496.8 L756.2 495.7 L756.5 494.7 L756.9 493.6 L757.2 492.5 L757.5 491.4 L757.9 490.3 L758.2 489.2 L758.6 488.1 L758.9 487.1 L759.2 486.0 L759.6 484.9 L759.9 483.8 L760.2 482.8 L760.6 481.7 L760.9 480.6 L761.2 479.6 L761.6 478.6 L761.9 477.5 L762.2 476.5 L762.6 475.5 L762.9 474.5 L763.2 473.4 L763.6 472.4 L763.9 471.4 L764.2 470.3 L764.5 469.3 L764.8 468.2 L765.1 467.1 L765.4 466.0 L765.7 464.9 L766.0 463.8 L766.3 462.7 L766.6 461.5 L766.8 460.4 L767.1 459.2 L767.4 458.0 L767.6 456.9 L767.9 455.7 L768.2 454.6 L768.4 453.4 L768.7 452.3 L769.0 451.2 L769.3 450.0 L769.6 449.0 L769.8 447.9 L770.1 446.8 L770.4 445.8 L770.7 444.7 L771.0 443.7 L771.3 442.7 L771.6 441.7 L771.9 440.7 L772.2 439.7 L772.5 438.8 L772.8 437.8 L773.1 436.9 L773.4 435.9 L773.7 435.0 L774.0 434.0 L774.3 433.1 L774.6 432.2 L774.9 431.3 L775.1 430.4 L775.4 429.5 L775.7 428.5 L775.9 427.6 L776.2 426.7 L776.4 425.8 L776.7 424.9 L776.9 424.0 L777.1 423.1 L777.4 422.2 L777.6 421.3 L777.8 420.4 L778.1 419.5 L778.3 418.6 L778.5 417.7 L778.7 416.8 L778.9 415.9 L779.2 415.0 L779.4 414.1 L779.6 413.2 L779.8 412.2 L780.0 411.3 L780.3 410.4 L780.5 409.5 L780.7 408.5 L781.0 407.6 L781.2 406.6 L781.4 405.7 L781.7 404.7 L781.9 403.8 L782.2 402.8 L782.5 401.8 L782.7 400.8 L783.0 399.8 L783.3 398.8 L783.6 397.8 L783.9 396.8 L784.2 395.8 L784.5 394.8 L784.8 393.7 L785.1 392.7 L785.4 391.7 L785.8 390.6 L786.1 389.6 L786.4 388.6 L786.8 387.5 L787.1 386.5 L787.4 385.5 L787.8 384.4 L788.1 383.4 L788.5 382.4 L788.9 381.4 L789.2 380.4 L789.6 379.4 L789.9 378.4 L790.3 377.4 L790.6 376.5 L791.0 375.5 L791.3 374.6 L791.7 373.7 L792.0 372.8 L792.4 371.9 L792.7 371.0 L793.1 370.1 L793.4 369.2 L793.8 368.4 L794.1 367.5 L794.5 366.7 L794.8 365.8 L795.2 365.0 L795.5 364.1 L795.9 363.3 L796.2 362.4 L796.6 361.6 L797.0 360.7 L797.3 359.9 L797.7 359.0 L798.1 358.2 L798.5 357.3 L798.9 356.4 L799.3 355.5 L799.7 354.7 L800.1 353.8 L800.5 352.9 L800.9 352.0 L801.3 351.1 L801.7 350.2 L802.1 349.2 L802.5 348.3 L803.0 347.4 L803.4 346.5 L803.8 345.5 L804.3 344.6 L804.7 343.6 L805.1 342.7 L805.6 341.7 L806.0 340.8 L806.5 339.8 L807.0 338.9 L807.4 337.9 L807.9 336.9 L808.3 336.0 L808.8 335.0 L809.3 334.0 L809.7 333.0 L810.2 332.1 L810.7 331.1 L811.2 330.1 L811.7 329.2 L812.1 328.2 L812.6 327.2 L813.1 326.2 L813.6 325.3 L814.1 324.3 L814.6 323.4 L815.2 322.4 L815.7 321.5 L816.2 320.6 L816.7 319.7 L817.2 318.8 L817.7 317.9 L818.3 317.0 L818.8 316.1 L819.3 315.3 L819.8 314.5 L820.4 313.7 L820.9 312.9 L821.4 312.2 L821.9 311.4 L822.4 310.8 L823.0 310.1 L823.5 309.5 L824.0 308.9 L824.5 308.3 L825.0 307.8 L825.5 307.3 L825.9 306.9 L826.4 306.5 L826.9 306.1 L827.4 305.8 L827.8 305.5 L828.3 305.3 L828.7 305.1 L829.1 305.0 L829.6 304.9 L830.0 304.9 L830.4 304.9 L830.8 305.0 L831.1 305.2 L831.5 305.3 L831.8 305.6 L832.2 305.9 L832.5 306.2 L832.7 306.6 L833.0 307.0 L833.2 307.5 L833.4 308.0 L833.6 308.5 L833.7 309.1 L833.8 309.7 L833.9 310.3 L833.9 310.9 L833.9 311.6 L833.8 312.3 L833.8 313.0 L833.7 313.7 L833.5 314.4 L833.4 315.1 L833.2 315.9 L833.0 316.6 L832.7 317.4 L832.5 318.1 L832.2 318.9 L831.9 319.7 L831.6 320.5 L831.2 321.3 L830.9 322.1 L830.5 322.9 L830.1 323.7 L829.7 324.6 L829.3 325.4 L828.9 326.3 L828.5 327.2 L828.1 328.0 L827.7 328.9 L827.2 329.8 L826.8 330.7 L826.4 331.7 L825.9 332.6 L825.5 333.5 L825.1 334.4 L824.6 335.4 L824.2 336.3 L823.8 337.3 L823.3 338.2 L822.9 339.2 L822.5 340.1 L822.1 341.0 L821.6 342.0 L821.2 342.9 L820.8 343.8 L820.4 344.7 L820.0 345.6 L819.6 346.5 L819.3 347.4 L818.9 348.3 L818.5 349.1 L818.2 350.0 L817.8 350.8 L817.5 351.6 L817.1 352.4 L816.8 353.2 L816.5 354.0 L816.2 354.8 L815.8 355.5 L815.5 356.3 L815.2 357.0 L814.9 357.8 L814.6 358.6 L814.3 359.3 L814.0 360.1 L813.7 360.9 L813.3 361.7 L813.0 362.5 L812.7 363.3 L812.3 364.1 L812.0 364.9 L811.7 365.8 L811.3 366.6 L810.9 367.5 L810.6 368.4 L810.2 369.3 L809.9 370.2 L809.5 371.1 L809.1 372.0 L808.8 372.9 L808.4 373.8 L808.1 374.7 L807.7 375.6 L807.4 376.5 L807.0 377.4 L806.7 378.4 L806.4 379.3 L806.0 380.2 L805.7 381.1 L805.4 382.0 L805.0 382.9 L804.7 383.8 L804.4 384.7 L804.1 385.7 L803.8 386.6 L803.5 387.5 L803.2 388.4 L802.9 389.3 L802.6 390.2 L802.3 391.1 L802.0 392.0 L801.7 393.0 L801.4 393.9 L801.1 394.8 L800.8 395.7 L800.5 396.6 L800.3 397.5 L800.0 398.4 L799.7 399.3 L799.4 400.3 L799.2 401.2 L798.9 402.1 L798.6 403.0 L798.4 403.9 L798.1 404.8 L797.8 405.7 L797.6 406.6 L797.3 407.5 L797.1 408.4 L796.8 409.4 L796.6 410.3 L796.3 411.2 L796.1 412.1 L795.8 413.0 L795.6 413.9 L795.4 414.8 L795.1 415.7 L794.9 416.6 L794.6 417.5 L794.4 418.4 L794.2 419.3 L793.9 420.2 L793.7 421.2 L793.5 422.1 L793.2 423.0 L793.0 423.9 L792.8 424.8 L792.5 425.8 L792.3 426.7 L792.0 427.6 L791.8 428.5 L791.6 429.5 L791.3 430.4 L791.1 431.4 L790.9 432.3 L790.6 433.3 L790.4 434.2 L790.1 435.2 L789.9 436.1 L789.7 437.1 L789.4 438.1 L789.2 439.1 L788.9 440.1 L788.7 441.1 L788.4 442.1 L788.2 443.1 L787.9 444.1 L787.6 445.1 L787.4 446.1 L787.1 447.1 L786.9 448.2 L786.6 449.2 L786.3 450.3 L786.1 451.3 L785.8 452.3 L785.5 453.4 L785.3 454.4 L785.0 455.5 L784.8 456.5 L784.5 457.5 L784.3 458.6 L784.0 459.6 L783.8 460.6 L783.5 461.7 L783.3 462.7 L783.1 463.7 L782.8 464.7 L782.6 465.7 L782.4 466.7 L782.2 467.7 L782.0 468.7 L781.8 469.6 L781.6 470.6 L781.4 471.6 L781.2 472.6 L781.1 473.5 L780.9 474.5 L780.7 475.5 L780.5 476.5 L780.3 477.5 L780.1 478.6 L780.0 479.6 L779.8 480.7 L779.6 481.8 L779.4 482.9 L779.2 484.0 L779.0 485.1 L778.8 486.2 L778.6 487.3 L778.4 488.5 L778.2 489.6 L778.0 490.7 L777.9 491.9 L777.7 493.0 L777.5 494.1 L777.3 495.2 L777.2 496.3 L777.0 497.4 L776.8 498.5 L776.7 499.6 L776.5 500.7 L776.4 501.8 L776.3 502.9 L776.1 504.0 L776.0 505.0 L775.9 506.1 L775.8 507.2 L775.7 508.2 L775.6 509.3 L775.6 510.3 L775.5 511.3 L775.4 512.3 L775.4 513.4 L775.4 514.4 L775.3 515.4 L775.3 516.4 L775.3 517.3 L775.3 518.3 L775.3 519.3 L775.4 520.2 L775.4 521.2 L775.5 522.1 L775.6 523.0 L775.6 523.9 L775.8 524.8 L775.9 525.7 L776.0 526.6 L776.2 527.4 L776.3 528.3 L776.5 529.1 L776.7 530.0 L776.9 530.8 L777.2 531.6 L777.4 532.3 L777.7 533.1 L778.0 533.8 L778.4 534.5 L778.8 535.2 L779.2 535.8 L779.6 536.5 L780.0 537.1 L780.5 537.7 L781.1 538.2 L781.6 538.7 L782.2 539.2 L782.8 539.6 L783.5 540.1 L784.2 540.4 L784.9 540.8 L785.7 541.1 L786.5 541.4 L787.3 541.7 L788.2 541.9 L789.0 542.2 L790.0 542.4 L790.9 542.6 L791.8 542.7 L792.8 542.9 L793.8 543.0 L794.8 543.2 L795.8 543.3 L796.9 543.4 L797.9 543.5 L799.0 543.6 L800.1 543.7 L801.2 543.7 L802.3 543.8 L803.4 543.9 L804.6 543.9 L805.7 544.0 L806.9 544.0 L808.0 544.1 L809.2 544.1 L810.4 544.2 L811.6 544.2 L812.8 544.3 L814.0 544.3 L815.3 544.3 L816.5 544.4 L817.8 544.4 L819.1 544.4 L820.4 544.4 L821.7 544.5 L823.0 544.5 L824.3 544.5 L825.7 544.5 L827.0 544.5 L828.4 544.5 L829.8 544.5 L831.2 544.5 L832.6 544.5 L834.0 544.5 L835.4 544.6 L836.9 544.6 L838.4 544.6 L839.8 544.6 L841.3 544.6 L842.8 544.6 L844.4 544.6 L845.9 544.6 L847.5 544.6 L849.0 544.6 L850.6 544.6 L852.2 544.6 L853.8 544.6 L855.5 544.6 L857.1 544.6 L858.8 544.7 L860.4 544.7 L862.1 544.7 L863.8 544.7 L863.9 544.7 L865.6 544.7 L867.3 544.7 L868.9 544.7 L870.6 544.6 L872.2 544.6 L873.9 544.6 L875.5 544.6 L877.1 544.6 L878.7 544.6 L880.2 544.6 L881.8 544.6 L883.3 544.6 L884.9 544.6 L886.4 544.6 L887.9 544.6 L889.3 544.6 L890.8 544.6 L892.3 544.6 L893.7 544.5 L895.1 544.5 L896.5 544.5 L897.9 544.5 L899.3 544.5 L900.7 544.5 L902.0 544.5 L903.4 544.5 L904.7 544.5 L906.0 544.5 L907.3 544.4 L908.6 544.4 L909.9 544.4 L911.2 544.4 L912.4 544.3 L913.7 544.3 L914.9 544.3 L916.1 544.2 L917.3 544.2 L918.5 544.1 L919.7 544.1 L920.8 544.0 L922.0 544.0 L923.1 543.9 L924.3 543.9 L925.4 543.8 L926.5 543.7 L927.6 543.7 L928.7 543.6 L929.8 543.5 L930.8 543.4 L931.9 543.3 L932.9 543.2 L933.9 543.0 L934.9 542.9 L935.9 542.7 L936.8 542.6 L937.7 542.4 L938.7 542.2 L939.5 541.9 L940.4 541.7 L941.2 541.4 L942.0 541.1 L942.8 540.8 L943.5 540.4 L944.2 540.1 L944.9 539.6 L945.5 539.2 L946.1 538.7 L946.6 538.2 L947.2 537.7 L947.7 537.1 L948.1 536.5 L948.5 535.8 L948.9 535.2 L949.3 534.5 L949.7 533.8 L950.0 533.1 L950.3 532.3 L950.5 531.6 L950.8 530.8 L951.0 530.0 L951.2 529.1 L951.4 528.3 L951.5 527.4 L951.7 526.6 L951.8 525.7 L951.9 524.8 L952.1 523.9 L952.1 523.0 L952.2 522.1 L952.3 521.2 L952.3 520.2 L952.4 519.3 L952.4 518.3 L952.4 517.3 L952.4 516.4 L952.4 515.4 L952.3 514.4 L952.3 513.4 L952.3 512.3 L952.2 511.3 L952.1 510.3 L952.1 509.3 L952.0 508.2 L951.9 507.2 L951.8 506.1 L951.7 505.0 L951.6 504.0 L951.4 502.9 L951.3 501.8 L951.2 500.7 L951.0 499.6 L950.9 498.5 L950.7 497.4 L950.5 496.3 L950.4 495.2 L950.2 494.1 L950.0 493.0 L949.8 491.9 L949.7 490.7 L949.5 489.6 L949.3 488.5 L949.1 487.3 L948.9 486.2 L948.7 485.1 L948.5 484.0 L948.3 482.9 L948.1 481.8 L947.9 480.7 L947.7 479.6 L947.6 478.6 L947.4 477.5 L947.2 476.5 L947.0 475.5 L946.8 474.5 L946.6 473.5 L946.5 472.6 L946.3 471.6 L946.1 470.6 L945.9 469.6 L945.7 468.7 L945.5 467.7 L945.3 466.7 L945.1 465.7 L944.9 464.7 L944.6 463.7 L944.4 462.7 L944.2 461.7 L943.9 460.6 L943.7 459.6 L943.4 458.6 L943.2 457.5 L942.9 456.5 L942.7 455.5 L942.4 454.4 L942.2 453.4 L941.9 452.3 L941.6 451.3 L941.4 450.3 L941.1 449.2 L940.8 448.2 L940.6 447.1 L940.3 446.1 L940.1 445.1 L939.8 444.1 L939.5 443.1 L939.3 442.1 L939.0 441.1 L938.8 440.1 L938.5 439.1 L938.3 438.1 L938.0 437.1 L937.8 436.1 L937.6 435.2 L937.3 434.2 L937.1 433.3 L936.8 432.3 L936.6 431.4 L936.4 430.4 L936.1 429.5 L935.9 428.5 L935.7 427.6 L935.4 426.7 L935.2 425.8 L934.9 424.8 L934.7 423.9 L934.5 423.0 L934.2 422.1 L934.0 421.2 L933.8 420.2 L933.5 419.3 L933.3 418.4 L933.1 417.5 L932.8 416.6 L932.6 415.7 L932.3 414.8 L932.1 413.9 L931.9 413.0 L931.6 412.1 L931.4 411.2 L931.1 410.3 L930.9 409.4 L930.6 408.4 L930.4 407.5 L930.1 406.6 L929.9 405.7 L929.6 404.8 L929.3 403.9 L929.1 403.0 L928.8 402.1 L928.5 401.2 L928.3 400.3 L928.0 399.3 L927.7 398.4 L927.4 397.5 L927.2 396.6 L926.9 395.7 L926.6 394.8 L926.3 393.9 L926.0 393.0 L925.7 392.0 L925.4 391.1 L925.1 390.2 L924.8 389.3 L924.5 388.4 L924.2 387.5 L923.9 386.6 L923.6 385.7 L923.3 384.7 L923.0 383.8 L922.7 382.9 L922.3 382.0 L922.0 381.1 L921.7 380.2 L921.3 379.3 L921.0 378.4 L920.7 377.4 L920.3 376.5 L920.0 375.6 L919.6 374.7 L919.3 373.8 L918.9 372.9 L918.6 372.0 L918.2 371.1 L917.8 370.2 L917.5 369.3 L917.1 368.4 L916.8 367.5 L916.4 366.6 L916.0 365.8 L915.7 364.9 L915.4 364.1 L915.0 363.3 L914.7 362.5 L914.4 361.7 L914.0 360.9 L913.7 360.1 L913.4 359.3 L913.1 358.6 L912.8 357.8 L912.5 357.0 L912.2 356.3 L911.9 355.5 L911.5 354.8 L911.2 354.0 L910.9 353.2 L910.6 352.4 L910.2 351.6 L909.9 350.8 L909.5 350.0 L909.2 349.1 L908.8 348.3 L908.4 347.4 L908.1 346.5 L907.7 345.6 L907.3 344.7 L906.9 343.8 L906.5 342.9 L906.1 342.0 L905.6 341.0 L905.2 340.1 L904.8 339.2 L904.4 338.2 L903.9 337.3 L903.5 336.3 L903.1 335.4 L902.6 334.4 L902.2 333.5 L901.8 332.6 L901.3 331.7 L900.9 330.7 L900.5 329.8 L900.0 328.9 L899.6 328.0 L899.2 327.2 L898.8 326.3 L898.4 325.4 L898.0 324.6 L897.6 323.7 L897.2 322.9 L896.8 322.1 L896.5 321.3 L896.1 320.5 L895.8 319.7 L895.5 318.9 L895.2 318.1 L895.0 317.4 L894.7 316.6 L894.5 315.9 L894.3 315.1 L894.2 314.4 L894.0 313.7 L893.9 313.0 L893.9 312.3 L893.8 311.6 L893.8 310.9 L893.8 310.3 L893.9 309.7 L894.0 309.1 L894.1 308.5 L894.3 308.0 L894.5 307.5 L894.7 307.0 L895.0 306.6 L895.2 306.2 L895.5 305.9 L895.9 305.6 L896.2 305.3 L896.6 305.2 L896.9 305.0 L897.3 304.9 L897.7 304.9 L898.1 304.9 L898.6 305.0 L899.0 305.1 L899.4 305.3 L899.9 305.5 L900.3 305.8 L900.8 306.1 L901.3 306.5 L901.8 306.9 L902.2 307.3 L902.7 307.8 L903.2 308.3 L903.7 308.9 L904.2 309.5 L904.7 310.1 L905.3 310.8 L905.8 311.4 L906.3 312.2 L906.8 312.9 L907.3 313.7 L907.9 314.5 L908.4 315.3 L908.9 316.1 L909.4 317.0 L910.0 317.9 L910.5 318.8 L911.0 319.7 L911.5 320.6 L912.0 321.5 L912.5 322.4 L913.1 323.4 L913.6 324.3 L914.1 325.3 L914.6 326.2 L915.1 327.2 L915.6 328.2 L916.0 329.2 L916.5 330.1 L917.0 331.1 L917.5 332.1 L918.0 333.0 L918.4 334.0 L918.9 335.0 L919.4 336.0 L919.8 336.9 L920.3 337.9 L920.7 338.9 L921.2 339.8 L921.7 340.8 L922.1 341.7 L922.6 342.7 L923.0 343.6 L923.4 344.6 L923.9 345.5 L924.3 346.5 L924.7 347.4 L925.2 348.3 L925.6 349.2 L926.0 350.2 L926.4 351.1 L926.8 352.0 L927.2 352.9 L927.6 353.8 L928.0 354.7 L928.4 355.5 L928.8 356.4 L929.2 357.3 L929.6 358.2 L930.0 359.0 L930.4 359.9 L930.7 360.7 L931.1 361.6 L931.5 362.4 L931.8 363.3 L932.2 364.1 L932.5 365.0 L932.9 365.8 L933.2 366.7 L933.6 367.5 L933.9 368.4 L934.3 369.2 L934.6 370.1 L935.0 371.0 L935.3 371.9 L935.7 372.8 L936.0 373.7 L936.4 374.6 L936.7 375.5 L937.1 376.5 L937.4 377.4 L937.8 378.4 L938.1 379.4 L938.5 380.4 L938.8 381.4 L939.2 382.4 L939.6 383.4 L939.9 384.4 L940.3 385.5 L940.6 386.5 L940.9 387.5 L941.3 388.6 L941.6 389.6 L941.9 390.6 L942.3 391.7 L942.6 392.7 L942.9 393.7 L943.2 394.8 L943.5 395.8 L943.8 396.8 L944.1 397.8 L944.4 398.8 L944.7 399.8 L945.0 400.8 L945.2 401.8 L945.5 402.8 L945.8 403.8 L946.0 404.7 L946.3 405.7 L946.5 406.6 L946.7 407.6 L947.0 408.5 L947.2 409.5 L947.4 410.4 L947.7 411.3 L947.9 412.2 L948.1 413.2 L948.3 414.1 L948.5 415.0 L948.8 415.9 L949.0 416.8 L949.2 417.7 L949.4 418.6 L949.6 419.5 L949.9 420.4 L950.1 421.3 L950.3 422.2 L950.6 423.1 L950.8 424.0 L951.0 424.9 L951.3 425.8 L951.5 426.7 L951.8 427.6 L952.0 428.5 L952.3 429.5 L952.6 430.4 L952.8 431.3 L953.1 432.2 L953.4 433.1 L953.7 434.0 L954.0 435.0 L954.3 435.9 L954.6 436.9 L954.9 437.8 L955.2 438.8 L955.5 439.7 L955.8 440.7 L956.1 441.7 L956.4 442.7 L956.7 443.7 L957.0 444.7 L957.3 445.8 L957.6 446.8 L957.9 447.9 L958.1 449.0 L958.4 450.0 L958.7 451.2 L959.0 452.3 L959.3 453.4 L959.5 454.6 L959.8 455.7 L960.1 456.9 L960.3 458.0 L960.6 459.2 L960.9 460.4 L961.1 461.5 L961.4 462.7 L961.7 463.8 L962.0 464.9 L962.3 466.0 L962.6 467.1 L962.9 468.2 L963.2 469.3 L963.5 470.3 L963.8 471.4 L964.1 472.4 L964.5 473.4 L964.8 474.5 L965.1 475.5 L965.5 476.5 L965.8 477.5 L966.1 478.6 L966.5 479.6 L966.8 480.6 L967.1 481.7 L967.5 482.8 L967.8 483.8 L968.1 484.9 L968.5 486.0 L968.8 487.1 L969.1 488.1 L969.5 489.2 L969.8 490.3 L970.2 491.4 L970.5 492.5 L970.8 493.6 L971.2 494.7 L971.5 495.7 L971.9 496.8 L972.2 497.9 L972.6 499.0 L973.0 500.1 L973.3 501.1 L973.7 502.2 L974.1 503.3 L974.5 504.3 L974.9 505.4 L975.2 506.4 L975.6 507.5 L976.0 508.5 L976.4 509.5 L976.9 510.6 L977.3 511.6 L977.7 512.6 L978.1 513.5 L978.6 514.5 L979.0 515.5 L979.5 516.4 L980.0 517.4 L980.4 518.3 L980.9 519.2 L981.4 520.1 L981.9 521.0 L982.4 521.8 L982.9 522.7 L983.5 523.5 L984.0 524.3 L984.5 525.1 L985.1 525.9 L985.7 526.7 L986.3 527.4 L986.8 528.1 L987.4 528.8 L988.1 529.5 L988.7 530.2 L989.3 530.8 L990.0 531.5 L990.6 532.1 L991.3 532.7 L992.0 533.2 L992.7 533.8 L993.4 534.3 L994.1 534.8 L994.9 535.3 L995.6 535.8 L996.4 536.3 L997.2 536.7 L998.0 537.2 L998.8 537.6 L999.6 538.0 L1000.5 538.4 L1001.3 538.7 L1002.2 539.1 L1003.1 539.4 L1004.0 539.7 L1004.9 540.0 L1005.8 540.3 L1006.8 540.6 L1007.7 540.8 L1008.7 541.1 L1009.7 541.3 L1010.7 541.5 L1011.8 541.7 L1012.8 541.9 L1013.9 542.1 L1015.0 542.2 L1016.1 542.3 L1017.2 542.5 L1018.3 542.6 L1019.5 542.7 L1020.7 542.7 L1021.9 542.8 L1023.1 542.9 L1024.3 542.9" fill="none" stroke="#0000ff" stroke-width="2.15" stroke-linejoin="round" clip-path="url(#cl-h)"/>
<path d="M863.9 544.5 L863.8 543.3 L863.8 542.2 L863.7 541.0 L863.7 539.9 L863.6 538.7 L863.6 537.5 L863.5 536.4 L863.4 535.2 L863.4 534.0 L863.3 532.9 L863.2 531.7 L863.2 530.5 L863.1 529.4 L863.0 528.2 L863.0 527.0 L862.9 525.9 L862.8 524.7 L862.8 523.5 L862.7 522.4 L862.6 521.2 L862.6 520.0 L862.5 518.9 L862.4 517.7 L862.4 516.5 L862.3 515.3 L862.2 514.2 L862.1 513.0 L862.1 511.8 L862.0 510.6 L861.9 509.5 L861.9 508.3 L861.8 507.1 L861.7 506.0 L861.6 504.8 L861.6 503.6 L861.5 502.4 L861.4 501.3 L861.3 500.1 L861.2 498.9 L861.2 497.8 L861.1 496.6 L861.0 495.4 L860.9 494.2 L860.9 493.1 L860.8 491.9 L860.7 490.7 L860.6 489.5 L860.6 488.4 L860.5 487.2 L860.4 486.0 L860.3 484.9 L860.2 483.7 L860.2 482.5 L860.1 481.4 L860.0 480.2 L859.9 479.0 L859.8 477.8 L859.8 476.7 L859.7 475.5 L859.6 474.3 L859.5 473.2 L859.5 472.0 L859.4 470.8 L859.3 469.7 L859.2 468.5 L859.1 467.4 L859.1 466.2 L859.0 465.0 L858.9 463.9 L858.8 462.7 L858.8 461.5 L858.7 460.4 L858.6 459.2 L858.5 458.1 L858.5 456.9 L858.4 455.8 L858.3 454.6 L858.2 453.5 L858.2 452.3 L858.1 451.1 L858.0 450.0 L857.9 448.8 L857.9 447.7 L857.8 446.5 L857.7 445.4 L857.7 444.2 L857.6 443.1 L857.5 442.0 L857.5 440.8 L857.4 439.7 L857.3 438.5 L857.3 437.4 L857.2 436.3 L857.1 435.1 L857.1 434.0 L857.0 432.8 L856.9 431.7 L856.9 430.6 L856.8 429.4 L856.7 428.3 L856.7 427.2 L856.6 426.0 L856.5 424.9 L856.5 423.8 L856.4 422.6 L856.4 421.5 L856.3 420.4 L856.2 419.2 L856.2 418.1 L856.1 417.0 L856.0 415.9 L856.0 414.7 L855.9 413.6 L855.9 412.5 L855.8 411.3 L855.7 410.2 L855.7 409.1 L855.6 407.9 L855.5 406.8 L855.5 405.7 L855.4 404.5 L855.4 403.4 L855.3 402.3 L855.2 401.1 L855.2 400.0 L855.1 398.9 L855.0 397.7 L855.0 396.6 L854.9 395.5 L854.8 394.3 L854.8 393.2 L854.7 392.1 L854.6 390.9 L854.6 389.8 L854.5 388.6 L854.4 387.5 L854.4 386.3 L854.3 385.2 L854.2 384.0 L854.1 382.9 L854.1 381.7 L854.0 380.6 L853.9 379.4 L853.9 378.3 L853.8 377.1 L853.7 376.0 L853.6 374.8 L853.6 373.7 L853.5 372.5 L853.4 371.3 L853.3 370.2 L853.2 369.0 L853.2 367.8 L853.1 366.7 L853.0 365.5 L852.9 364.3 L852.8 363.1 L852.7 362.0 L852.7 360.8 L852.6 359.6 L852.5 358.4 L852.4 357.2 L852.3 356.0 L852.2 354.9 L852.1 353.7 L852.0 352.5 L851.9 351.4 L851.8 350.2 L851.8 349.0 L851.7 347.9 L851.6 346.7 L851.5 345.6 L851.4 344.5 L851.3 343.4 L851.3 342.3 L851.2 341.2 L851.1 340.1 L851.0 339.0 L850.9 338.0 L850.9 336.9 L850.8 335.9 L850.7 334.9 L850.7 333.9 L850.6 332.9 L850.6 331.9 L850.5 331.0 L850.5 330.1 L850.4 329.2 L850.4 328.3 L850.3 327.4 L850.3 326.6 L850.3 325.8 L850.2 325.0 L850.2 324.2 L850.2 323.5 L850.2 322.8 L850.2 322.1 L850.2 321.4 L850.2 320.8 L850.2 320.2 L850.2 319.6 L850.2 319.1 L850.3 318.6 L850.3 318.0 L850.4 317.5 L850.4 317.1 L850.5 316.6 L850.6 316.1 L850.7 315.6 L850.8 315.1 L850.9 314.7 L851.1 314.2 L851.2 313.7 L851.4 313.3 L851.6 312.8 L851.8 312.3 L852.0 311.9 L852.3 311.4 L852.6 311.0 L852.9 310.5 L853.2 310.1 L853.5 309.7 L853.8 309.3 L854.2 308.9 L854.5 308.5 L854.9 308.1 L855.3 307.7 L855.7 307.4 L856.1 307.0 L856.5 306.7 L856.9 306.4 L857.3 306.2 L857.8 305.9 L858.2 305.7 L858.7 305.5 L859.2 305.3 L859.6 305.1 L860.1 305.0 L860.6 304.9 L861.0 304.8 L861.5 304.8 L862.0 304.8 L862.5 304.8 L862.9 304.9 L863.4 305.0 L863.9 305.1 L863.8 305.1 L864.3 305.0 L864.8 304.9 L865.2 304.8 L865.7 304.8 L866.2 304.8 L866.7 304.8 L867.1 304.9 L867.6 305.0 L868.1 305.1 L868.5 305.3 L869.0 305.5 L869.5 305.7 L869.9 305.9 L870.4 306.2 L870.8 306.4 L871.2 306.7 L871.6 307.0 L872.0 307.4 L872.4 307.7 L872.8 308.1 L873.2 308.5 L873.5 308.9 L873.9 309.3 L874.2 309.7 L874.5 310.1 L874.8 310.5 L875.1 311.0 L875.4 311.4 L875.7 311.9 L875.9 312.3 L876.1 312.8 L876.3 313.3 L876.5 313.7 L876.6 314.2 L876.8 314.7 L876.9 315.1 L877.0 315.6 L877.1 316.1 L877.2 316.6 L877.3 317.1 L877.3 317.5 L877.4 318.0 L877.4 318.6 L877.5 319.1 L877.5 319.6 L877.5 320.2 L877.5 320.8 L877.5 321.4 L877.5 322.1 L877.5 322.8 L877.5 323.5 L877.5 324.2 L877.5 325.0 L877.4 325.8 L877.4 326.6 L877.4 327.4 L877.3 328.3 L877.3 329.2 L877.2 330.1 L877.2 331.0 L877.1 331.9 L877.1 332.9 L877.0 333.9 L877.0 334.9 L876.9 335.9 L876.8 336.9 L876.8 338.0 L876.7 339.0 L876.6 340.1 L876.5 341.2 L876.4 342.3 L876.4 343.4 L876.3 344.5 L876.2 345.6 L876.1 346.7 L876.0 347.9 L875.9 349.0 L875.9 350.2 L875.8 351.4 L875.7 352.5 L875.6 353.7 L875.5 354.9 L875.4 356.0 L875.3 357.2 L875.2 358.4 L875.1 359.6 L875.0 360.8 L875.0 362.0 L874.9 363.1 L874.8 364.3 L874.7 365.5 L874.6 366.7 L874.5 367.8 L874.5 369.0 L874.4 370.2 L874.3 371.3 L874.2 372.5 L874.1 373.7 L874.1 374.8 L874.0 376.0 L873.9 377.1 L873.8 378.3 L873.8 379.4 L873.7 380.6 L873.6 381.7 L873.6 382.9 L873.5 384.0 L873.4 385.2 L873.3 386.3 L873.3 387.5 L873.2 388.6 L873.1 389.8 L873.1 390.9 L873.0 392.1 L872.9 393.2 L872.9 394.3 L872.8 395.5 L872.7 396.6 L872.7 397.7 L872.6 398.9 L872.5 400.0 L872.5 401.1 L872.4 402.3 L872.3 403.4 L872.3 404.5 L872.2 405.7 L872.2 406.8 L872.1 407.9 L872.0 409.1 L872.0 410.2 L871.9 411.3 L871.8 412.5 L871.8 413.6 L871.7 414.7 L871.7 415.9 L871.6 417.0 L871.5 418.1 L871.5 419.2 L871.4 420.4 L871.3 421.5 L871.3 422.6 L871.2 423.8 L871.2 424.9 L871.1 426.0 L871.0 427.2 L871.0 428.3 L870.9 429.4 L870.8 430.6 L870.8 431.7 L870.7 432.8 L870.6 434.0 L870.6 435.1 L870.5 436.3 L870.4 437.4 L870.4 438.5 L870.3 439.7 L870.2 440.8 L870.2 442.0 L870.1 443.1 L870.0 444.2 L870.0 445.4 L869.9 446.5 L869.8 447.7 L869.8 448.8 L869.7 450.0 L869.6 451.1 L869.5 452.3 L869.5 453.5 L869.4 454.6 L869.3 455.8 L869.2 456.9 L869.2 458.1 L869.1 459.2 L869.0 460.4 L868.9 461.5 L868.9 462.7 L868.8 463.9 L868.7 465.0 L868.6 466.2 L868.6 467.4 L868.5 468.5 L868.4 469.7 L868.3 470.8 L868.2 472.0 L868.2 473.2 L868.1 474.3 L868.0 475.5 L867.9 476.7 L867.9 477.8 L867.8 479.0 L867.7 480.2 L867.6 481.4 L867.5 482.5 L867.5 483.7 L867.4 484.9 L867.3 486.0 L867.2 487.2 L867.1 488.4 L867.1 489.5 L867.0 490.7 L866.9 491.9 L866.8 493.1 L866.8 494.2 L866.7 495.4 L866.6 496.6 L866.5 497.8 L866.5 498.9 L866.4 500.1 L866.3 501.3 L866.2 502.4 L866.1 503.6 L866.1 504.8 L866.0 506.0 L865.9 507.1 L865.8 508.3 L865.8 509.5 L865.7 510.6 L865.6 511.8 L865.6 513.0 L865.5 514.2 L865.4 515.3 L865.3 516.5 L865.3 517.7 L865.2 518.9 L865.1 520.0 L865.1 521.2 L865.0 522.4 L864.9 523.5 L864.9 524.7 L864.8 525.9 L864.7 527.0 L864.7 528.2 L864.6 529.4 L864.5 530.5 L864.5 531.7 L864.4 532.9 L864.3 534.0 L864.3 535.2 L864.2 536.4 L864.1 537.5 L864.1 538.7 L864.0 539.9 L864.0 541.0 L863.9 542.2 L863.9 543.3 L863.8 544.5" fill="none" stroke="#0000ff" stroke-width="2.15" stroke-linejoin="round" clip-path="url(#cl-h)"/>
<rect x="703.4" y="304.9" width="320.9" height="239.8" fill="none" stroke="#231f20" stroke-width="1.5"/>
</g>
<g id="p-i">
<clipPath id="cl-i"><rect x="1036.2" y="303.7" width="321.0" height="242.20000000000007"/></clipPath>
<rect x="1132.5" y="304.9" width="128.4" height="239.80000000000007" fill="#f699a8"/>
<line x1="1132.5" y1="304.9" x2="1132.5" y2="544.7" stroke="#ee1c25" stroke-width="1.9" stroke-dasharray="0.01 5.99" stroke-linecap="round"/>
<line x1="1260.9" y1="304.9" x2="1260.9" y2="544.7" stroke="#ee1c25" stroke-width="1.9" stroke-dasharray="0.01 5.99" stroke-linecap="round"/>
<rect x="1036.2" y="304.9" width="321.0" height="239.8" fill="none" stroke="#231f20" stroke-width="1.5"/>
<path d="M1089.7 304.9v4.2M1089.7 544.7v-4.2M1143.2 304.9v4.2M1143.2 544.7v-4.2M1196.7 304.9v4.2M1196.7 544.7v-4.2M1250.2 304.9v4.2M1250.2 544.7v-4.2M1303.7 304.9v4.2M1303.7 544.7v-4.2M1036.2 328.9h4.2M1357.2 328.9h-4.2M1036.2 352.9h4.2M1357.2 352.9h-4.2M1036.2 376.8h4.2M1357.2 376.8h-4.2M1036.2 400.8h4.2M1357.2 400.8h-4.2M1036.2 424.8h4.2M1357.2 424.8h-4.2M1036.2 448.8h4.2M1357.2 448.8h-4.2M1036.2 472.8h4.2M1357.2 472.8h-4.2M1036.2 496.7h4.2M1357.2 496.7h-4.2M1036.2 520.7h4.2M1357.2 520.7h-4.2" stroke="#231f20" stroke-width="1.35" fill="none"/>
<path d="M1036.2 542.8 L1037.1 542.8 L1038.0 542.7 L1038.9 542.7 L1039.8 542.6 L1040.7 542.5 L1041.6 542.4 L1042.5 542.3 L1043.5 542.2 L1044.5 542.1 L1045.4 542.0 L1046.4 541.8 L1047.4 541.7 L1048.4 541.5 L1049.4 541.3 L1050.4 541.2 L1051.4 541.0 L1052.5 540.8 L1053.5 540.6 L1054.5 540.3 L1055.6 540.1 L1056.6 539.9 L1057.7 539.6 L1058.8 539.4 L1059.8 539.1 L1060.9 538.9 L1062.0 538.6 L1063.1 538.3 L1064.2 538.0 L1065.3 537.7 L1066.4 537.4 L1067.5 537.1 L1068.6 536.8 L1069.7 536.5 L1070.8 536.1 L1071.9 535.8 L1073.0 535.4 L1074.2 535.1 L1075.3 534.7 L1076.4 534.4 L1077.5 534.0 L1078.6 533.6 L1079.8 533.3 L1080.9 532.9 L1082.0 532.5 L1083.1 532.1 L1084.3 531.7 L1085.4 531.3 L1086.5 530.9 L1087.6 530.5 L1088.7 530.1 L1089.9 529.6 L1091.0 529.2 L1092.1 528.8 L1093.2 528.4 L1094.3 527.9 L1095.4 527.5 L1096.5 527.1 L1097.6 526.6 L1098.7 526.2 L1099.8 525.7 L1100.8 525.3 L1101.9 524.8 L1103.0 524.4 L1104.1 523.9 L1105.1 523.5 L1106.2 523.0 L1107.3 522.5 L1108.3 522.1 L1109.4 521.6 L1110.4 521.2 L1111.5 520.7 L1112.5 520.2 L1113.5 519.8 L1114.6 519.3 L1115.6 518.8 L1116.6 518.4 L1117.6 517.9 L1118.6 517.4 L1119.6 517.0 L1120.6 516.5 L1121.6 516.1 L1122.6 515.6 L1123.6 515.1 L1124.6 514.7 L1125.5 514.2 L1126.5 513.8 L1127.5 513.3 L1128.4 512.9 L1129.4 512.4 L1130.3 512.0 L1131.3 511.5 L1132.2 511.1 L1133.1 510.6 L1134.0 510.2 L1134.9 509.8 L1135.8 509.3 L1136.7 508.9 L1137.6 508.5 L1138.5 508.1 L1139.4 507.6 L1140.2 507.2 L1141.1 506.8 L1141.9 506.3 L1142.8 505.9 L1143.6 505.5 L1144.5 505.0 L1145.3 504.6 L1146.1 504.2 L1146.9 503.7 L1147.7 503.3 L1148.5 502.8 L1149.3 502.4 L1150.1 501.9 L1150.9 501.5 L1151.6 501.0 L1152.4 500.5 L1153.1 500.0 L1153.9 499.5 L1154.6 499.0 L1155.3 498.5 L1156.0 498.0 L1156.8 497.5 L1157.5 497.0 L1158.1 496.4 L1158.8 495.9 L1159.5 495.3 L1160.2 494.7 L1160.8 494.1 L1161.5 493.5 L1162.1 492.9 L1162.8 492.3 L1163.4 491.7 L1164.0 491.0 L1164.6 490.4 L1165.2 489.7 L1165.8 489.0 L1166.4 488.3 L1167.0 487.6 L1167.6 486.8 L1168.1 486.1 L1168.7 485.3 L1169.2 484.6 L1169.7 483.8 L1170.2 483.0 L1170.8 482.2 L1171.2 481.3 L1171.7 480.5 L1172.2 479.7 L1172.7 478.8 L1173.1 478.0 L1173.5 477.1 L1173.9 476.3 L1174.3 475.4 L1174.7 474.5 L1175.1 473.7 L1175.5 472.8 L1175.8 471.9 L1176.1 471.1 L1176.4 470.2 L1176.7 469.3 L1177.0 468.5 L1177.2 467.6 L1177.5 466.8 L1177.7 465.9 L1177.9 465.0 L1178.1 464.2 L1178.3 463.3 L1178.5 462.5 L1178.7 461.6 L1178.9 460.7 L1179.1 459.8 L1179.2 459.0 L1179.4 458.1 L1179.6 457.1 L1179.8 456.2 L1180.0 455.3 L1180.1 454.4 L1180.3 453.4 L1180.5 452.5 L1180.7 451.6 L1180.9 450.6 L1181.0 449.6 L1181.2 448.7 L1181.4 447.7 L1181.6 446.7 L1181.7 445.7 L1181.9 444.7 L1182.1 443.7 L1182.2 442.7 L1182.4 441.7 L1182.6 440.7 L1182.7 439.7 L1182.9 438.7 L1183.1 437.7 L1183.2 436.7 L1183.4 435.6 L1183.5 434.6 L1183.7 433.6 L1183.9 432.6 L1184.0 431.5 L1184.2 430.5 L1184.3 429.5 L1184.5 428.4 L1184.6 427.4 L1184.8 426.3 L1184.9 425.3 L1185.1 424.2 L1185.2 423.2 L1185.3 422.2 L1185.5 421.1 L1185.6 420.1 L1185.7 419.0 L1185.9 418.0 L1186.0 416.9 L1186.1 415.9 L1186.3 414.9 L1186.4 413.8 L1186.5 412.8 L1186.6 411.8 L1186.7 410.7 L1186.8 409.7 L1187.0 408.7 L1187.1 407.6 L1187.2 406.6 L1187.3 405.6 L1187.4 404.6 L1187.5 403.6 L1187.6 402.5 L1187.7 401.5 L1187.8 400.5 L1187.9 399.5 L1188.0 398.5 L1188.0 397.5 L1188.1 396.5 L1188.2 395.5 L1188.3 394.5 L1188.4 393.4 L1188.5 392.4 L1188.5 391.4 L1188.6 390.4 L1188.7 389.4 L1188.8 388.4 L1188.8 387.4 L1188.9 386.4 L1189.0 385.3 L1189.1 384.3 L1189.1 383.3 L1189.2 382.3 L1189.3 381.3 L1189.3 380.2 L1189.4 379.2 L1189.5 378.2 L1189.5 377.1 L1189.6 376.1 L1189.6 375.1 L1189.7 374.0 L1189.8 373.0 L1189.8 371.9 L1189.9 370.9 L1190.0 369.8 L1190.0 368.8 L1190.1 367.7 L1190.1 366.6 L1190.2 365.6 L1190.3 364.5 L1190.3 363.4 L1190.4 362.3 L1190.4 361.3 L1190.5 360.2 L1190.6 359.1 L1190.6 358.0 L1190.7 356.9 L1190.8 355.8 L1190.8 354.7 L1190.9 353.6 L1191.0 352.5 L1191.0 351.4 L1191.1 350.3 L1191.2 349.1 L1191.2 348.0 L1191.3 346.9 L1191.4 345.8 L1191.5 344.6 L1191.6 343.5 L1191.6 342.3 L1191.7 341.2 L1191.8 340.1 L1191.9 338.9 L1192.0 337.8 L1192.1 336.6 L1192.2 335.5 L1192.3 334.3 L1192.4 333.2 L1192.5 332.1 L1192.6 331.0 L1192.7 329.8 L1192.8 328.7 L1192.9 327.6 L1193.0 326.6 L1193.1 325.5 L1193.2 324.4 L1193.3 323.4 L1193.4 322.4 L1193.5 321.3 L1193.6 320.3 L1193.7 319.4 L1193.8 318.4 L1194.0 317.5 L1194.1 316.5 L1194.2 315.6 L1194.3 314.8 L1194.4 313.9 L1194.5 313.1 L1194.6 312.3 L1194.7 311.5 L1194.9 310.8 L1195.0 310.1 L1195.1 309.4 L1195.2 308.8 L1195.4 308.2 L1195.5 307.6 L1195.6 307.1 L1195.8 306.7 L1195.9 306.3 L1196.1 305.9 L1196.2 305.6 L1196.4 305.3 L1196.5 305.1 L1196.7 304.9 L1196.7 304.9 L1196.9 305.1 L1197.0 305.3 L1197.2 305.6 L1197.3 305.9 L1197.5 306.3 L1197.6 306.7 L1197.8 307.1 L1197.9 307.6 L1198.0 308.2 L1198.2 308.8 L1198.3 309.4 L1198.4 310.1 L1198.5 310.8 L1198.7 311.5 L1198.8 312.3 L1198.9 313.1 L1199.0 313.9 L1199.1 314.8 L1199.2 315.6 L1199.3 316.5 L1199.4 317.5 L1199.6 318.4 L1199.7 319.4 L1199.8 320.3 L1199.9 321.3 L1200.0 322.4 L1200.1 323.4 L1200.2 324.4 L1200.3 325.5 L1200.4 326.6 L1200.5 327.6 L1200.6 328.7 L1200.7 329.8 L1200.8 331.0 L1200.9 332.1 L1201.0 333.2 L1201.1 334.3 L1201.2 335.5 L1201.3 336.6 L1201.4 337.8 L1201.5 338.9 L1201.6 340.1 L1201.7 341.2 L1201.8 342.3 L1201.8 343.5 L1201.9 344.6 L1202.0 345.8 L1202.1 346.9 L1202.2 348.0 L1202.2 349.1 L1202.3 350.3 L1202.4 351.4 L1202.4 352.5 L1202.5 353.6 L1202.6 354.7 L1202.6 355.8 L1202.7 356.9 L1202.8 358.0 L1202.8 359.1 L1202.9 360.2 L1203.0 361.3 L1203.0 362.3 L1203.1 363.4 L1203.1 364.5 L1203.2 365.6 L1203.3 366.6 L1203.3 367.7 L1203.4 368.8 L1203.4 369.8 L1203.5 370.9 L1203.6 371.9 L1203.6 373.0 L1203.7 374.0 L1203.8 375.1 L1203.8 376.1 L1203.9 377.1 L1203.9 378.2 L1204.0 379.2 L1204.1 380.2 L1204.1 381.3 L1204.2 382.3 L1204.3 383.3 L1204.3 384.3 L1204.4 385.3 L1204.5 386.4 L1204.6 387.4 L1204.6 388.4 L1204.7 389.4 L1204.8 390.4 L1204.9 391.4 L1204.9 392.4 L1205.0 393.4 L1205.1 394.5 L1205.2 395.5 L1205.3 396.5 L1205.4 397.5 L1205.4 398.5 L1205.5 399.5 L1205.6 400.5 L1205.7 401.5 L1205.8 402.5 L1205.9 403.6 L1206.0 404.6 L1206.1 405.6 L1206.2 406.6 L1206.3 407.6 L1206.4 408.7 L1206.6 409.7 L1206.7 410.7 L1206.8 411.8 L1206.9 412.8 L1207.0 413.8 L1207.1 414.9 L1207.3 415.9 L1207.4 416.9 L1207.5 418.0 L1207.7 419.0 L1207.8 420.1 L1207.9 421.1 L1208.1 422.2 L1208.2 423.2 L1208.3 424.2 L1208.5 425.3 L1208.6 426.3 L1208.8 427.4 L1208.9 428.4 L1209.1 429.5 L1209.2 430.5 L1209.4 431.5 L1209.5 432.6 L1209.7 433.6 L1209.9 434.6 L1210.0 435.6 L1210.2 436.7 L1210.3 437.7 L1210.5 438.7 L1210.7 439.7 L1210.8 440.7 L1211.0 441.7 L1211.2 442.7 L1211.3 443.7 L1211.5 444.7 L1211.7 445.7 L1211.8 446.7 L1212.0 447.7 L1212.2 448.7 L1212.4 449.6 L1212.5 450.6 L1212.7 451.6 L1212.9 452.5 L1213.1 453.4 L1213.3 454.4 L1213.4 455.3 L1213.6 456.2 L1213.8 457.1 L1214.0 458.1 L1214.2 459.0 L1214.3 459.8 L1214.5 460.7 L1214.7 461.6 L1214.9 462.5 L1215.1 463.3 L1215.3 464.2 L1215.5 465.0 L1215.7 465.9 L1215.9 466.8 L1216.2 467.6 L1216.4 468.5 L1216.7 469.3 L1217.0 470.2 L1217.3 471.1 L1217.6 471.9 L1217.9 472.8 L1218.3 473.7 L1218.7 474.5 L1219.1 475.4 L1219.5 476.3 L1219.9 477.1 L1220.3 478.0 L1220.7 478.8 L1221.2 479.7 L1221.7 480.5 L1222.2 481.3 L1222.6 482.2 L1223.2 483.0 L1223.7 483.8 L1224.2 484.6 L1224.7 485.3 L1225.3 486.1 L1225.8 486.8 L1226.4 487.6 L1227.0 488.3 L1227.6 489.0 L1228.2 489.7 L1228.8 490.4 L1229.4 491.0 L1230.0 491.7 L1230.6 492.3 L1231.3 492.9 L1231.9 493.5 L1232.6 494.1 L1233.2 494.7 L1233.9 495.3 L1234.6 495.9 L1235.3 496.4 L1235.9 497.0 L1236.6 497.5 L1237.4 498.0 L1238.1 498.5 L1238.8 499.0 L1239.5 499.5 L1240.3 500.0 L1241.0 500.5 L1241.8 501.0 L1242.5 501.5 L1243.3 501.9 L1244.1 502.4 L1244.9 502.8 L1245.7 503.3 L1246.5 503.7 L1247.3 504.2 L1248.1 504.6 L1248.9 505.0 L1249.8 505.5 L1250.6 505.9 L1251.5 506.3 L1252.3 506.8 L1253.2 507.2 L1254.0 507.6 L1254.9 508.1 L1255.8 508.5 L1256.7 508.9 L1257.6 509.3 L1258.5 509.8 L1259.4 510.2 L1260.3 510.6 L1261.2 511.1 L1262.1 511.5 L1263.1 512.0 L1264.0 512.4 L1265.0 512.9 L1265.9 513.3 L1266.9 513.8 L1267.9 514.2 L1268.8 514.7 L1269.8 515.1 L1270.8 515.6 L1271.8 516.1 L1272.8 516.5 L1273.8 517.0 L1274.8 517.4 L1275.8 517.9 L1276.8 518.4 L1277.8 518.8 L1278.8 519.3 L1279.9 519.8 L1280.9 520.2 L1281.9 520.7 L1283.0 521.2 L1284.0 521.6 L1285.1 522.1 L1286.1 522.5 L1287.2 523.0 L1288.3 523.5 L1289.3 523.9 L1290.4 524.4 L1291.5 524.8 L1292.6 525.3 L1293.6 525.7 L1294.7 526.2 L1295.8 526.6 L1296.9 527.1 L1298.0 527.5 L1299.1 527.9 L1300.2 528.4 L1301.3 528.8 L1302.4 529.2 L1303.5 529.6 L1304.7 530.1 L1305.8 530.5 L1306.9 530.9 L1308.0 531.3 L1309.1 531.7 L1310.3 532.1 L1311.4 532.5 L1312.5 532.9 L1313.6 533.3 L1314.8 533.6 L1315.9 534.0 L1317.0 534.4 L1318.1 534.7 L1319.2 535.1 L1320.4 535.4 L1321.5 535.8 L1322.6 536.1 L1323.7 536.5 L1324.8 536.8 L1325.9 537.1 L1327.0 537.4 L1328.1 537.7 L1329.2 538.0 L1330.3 538.3 L1331.4 538.6 L1332.5 538.9 L1333.6 539.1 L1334.6 539.4 L1335.7 539.6 L1336.8 539.9 L1337.8 540.1 L1338.9 540.3 L1339.9 540.6 L1340.9 540.8 L1342.0 541.0 L1343.0 541.2 L1344.0 541.3 L1345.0 541.5 L1346.0 541.7 L1347.0 541.8 L1348.0 542.0 L1348.9 542.1 L1349.9 542.2 L1350.9 542.3 L1351.8 542.4 L1352.7 542.5 L1353.6 542.6 L1354.5 542.7 L1355.4 542.7 L1356.3 542.8 L1357.2 542.8" fill="none" stroke="#0000ff" stroke-width="2.15" stroke-linejoin="round" clip-path="url(#cl-i)"/>
<path d="M1196.7 544.6 L1194.7 544.6 L1192.8 544.6 L1190.9 544.6 L1189.1 544.6 L1187.3 544.6 L1185.5 544.6 L1183.8 544.6 L1182.2 544.6 L1180.6 544.6 L1179.0 544.6 L1177.5 544.6 L1176.0 544.6 L1174.5 544.5 L1173.1 544.5 L1171.7 544.5 L1170.3 544.5 L1169.0 544.5 L1167.7 544.5 L1166.4 544.5 L1165.2 544.4 L1163.9 544.4 L1162.7 544.4 L1161.5 544.4 L1160.4 544.4 L1159.2 544.3 L1158.1 544.3 L1157.0 544.3 L1155.9 544.3 L1154.8 544.2 L1153.7 544.2 L1152.7 544.2 L1151.6 544.2 L1150.6 544.1 L1149.6 544.1 L1148.6 544.0 L1147.6 544.0 L1146.6 543.9 L1145.6 543.9 L1144.7 543.8 L1143.8 543.7 L1142.9 543.6 L1142.0 543.5 L1141.1 543.4 L1140.3 543.3 L1139.5 543.1 L1138.7 543.0 L1137.9 542.8 L1137.1 542.6 L1136.4 542.4 L1135.8 542.2 L1135.1 542.0 L1134.6 541.7 L1134.1 541.5 L1133.8 541.3 L1133.5 541.0 L1133.4 540.7 L1133.3 540.5 L1133.5 540.2 L1133.7 540.0 L1134.1 539.7 L1134.6 539.4 L1135.1 539.2 L1135.7 538.9 L1136.3 538.6 L1136.9 538.4 L1137.6 538.1 L1138.3 537.9 L1139.0 537.6 L1139.8 537.4 L1140.5 537.1 L1141.3 536.9 L1142.1 536.6 L1143.0 536.4 L1143.8 536.2 L1144.7 536.0 L1145.6 535.8 L1146.5 535.6 L1147.4 535.4 L1148.3 535.3 L1149.3 535.1 L1150.3 535.0 L1151.2 534.8 L1152.2 534.7 L1153.2 534.6 L1154.2 534.5 L1155.2 534.5 L1156.2 534.4 L1157.2 534.4 L1158.2 534.4 L1159.2 534.4 L1160.3 534.4 L1161.3 534.5 L1162.3 534.6 L1163.3 534.7 L1164.3 534.8 L1165.4 534.9 L1166.4 535.1 L1167.4 535.3 L1168.4 535.5 L1169.4 535.8 L1170.3 536.0 L1171.3 536.3 L1172.3 536.6 L1173.3 537.0 L1174.2 537.3 L1175.2 537.7 L1176.1 538.1 L1177.1 538.4 L1178.0 538.8 L1178.9 539.2 L1179.9 539.6 L1180.8 540.0 L1181.7 540.4 L1182.7 540.8 L1183.6 541.2 L1184.5 541.6 L1185.4 542.0 L1186.4 542.3 L1187.3 542.7 L1188.2 543.0 L1189.1 543.3 L1190.1 543.6 L1191.0 543.8 L1192.0 544.1 L1192.9 544.3 L1193.8 544.5 L1194.8 544.6 L1195.7 544.7 L1196.7 544.8 L1196.7 544.8 L1197.7 544.7 L1198.6 544.6 L1199.6 544.5 L1200.5 544.3 L1201.4 544.1 L1202.4 543.8 L1203.3 543.6 L1204.3 543.3 L1205.2 543.0 L1206.1 542.7 L1207.0 542.3 L1208.0 542.0 L1208.9 541.6 L1209.8 541.2 L1210.7 540.8 L1211.7 540.4 L1212.6 540.0 L1213.5 539.6 L1214.5 539.2 L1215.4 538.8 L1216.3 538.4 L1217.3 538.1 L1218.2 537.7 L1219.2 537.3 L1220.1 537.0 L1221.1 536.6 L1222.1 536.3 L1223.1 536.0 L1224.0 535.8 L1225.0 535.5 L1226.0 535.3 L1227.0 535.1 L1228.0 534.9 L1229.1 534.8 L1230.1 534.7 L1231.1 534.6 L1232.1 534.5 L1233.1 534.4 L1234.2 534.4 L1235.2 534.4 L1236.2 534.4 L1237.2 534.4 L1238.2 534.5 L1239.2 534.5 L1240.2 534.6 L1241.2 534.7 L1242.2 534.8 L1243.1 535.0 L1244.1 535.1 L1245.1 535.3 L1246.0 535.4 L1246.9 535.6 L1247.8 535.8 L1248.7 536.0 L1249.6 536.2 L1250.4 536.4 L1251.3 536.6 L1252.1 536.9 L1252.9 537.1 L1253.6 537.4 L1254.4 537.6 L1255.1 537.9 L1255.8 538.1 L1256.5 538.4 L1257.1 538.6 L1257.7 538.9 L1258.3 539.2 L1258.8 539.4 L1259.3 539.7 L1259.7 540.0 L1259.9 540.2 L1260.1 540.5 L1260.0 540.7 L1259.9 541.0 L1259.6 541.3 L1259.3 541.5 L1258.8 541.7 L1258.3 542.0 L1257.6 542.2 L1257.0 542.4 L1256.3 542.6 L1255.5 542.8 L1254.7 543.0 L1253.9 543.1 L1253.1 543.3 L1252.3 543.4 L1251.4 543.5 L1250.5 543.6 L1249.6 543.7 L1248.7 543.8 L1247.8 543.9 L1246.8 543.9 L1245.8 544.0 L1244.8 544.0 L1243.8 544.1 L1242.8 544.1 L1241.8 544.2 L1240.7 544.2 L1239.7 544.2 L1238.6 544.2 L1237.5 544.3 L1236.4 544.3 L1235.3 544.3 L1234.2 544.3 L1233.0 544.4 L1231.9 544.4 L1230.7 544.4 L1229.5 544.4 L1228.2 544.4 L1227.0 544.5 L1225.7 544.5 L1224.4 544.5 L1223.1 544.5 L1221.7 544.5 L1220.3 544.5 L1218.9 544.5 L1217.4 544.6 L1215.9 544.6 L1214.4 544.6 L1212.8 544.6 L1211.2 544.6 L1209.6 544.6 L1207.9 544.6 L1206.1 544.6 L1204.3 544.6 L1202.5 544.6 L1200.6 544.6 L1198.7 544.6 L1196.7 544.6" fill="none" stroke="#0000ff" stroke-width="2.15" stroke-linejoin="round" clip-path="url(#cl-i)"/>
</g>
<g id="p-j">
<clipPath id="cl-j"><rect x="1369.0" y="303.7" width="321.0" height="242.20000000000007"/></clipPath>
<path d="M1369.0 542.2 L1369.2 542.2 L1369.4 542.1 L1369.6 542.1 L1369.9 542.1 L1370.1 542.1 L1370.3 542.1 L1370.5 542.1 L1370.7 542.1 L1370.9 542.1 L1371.1 542.1 L1371.4 542.0 L1371.6 542.0 L1371.8 542.0 L1372.0 542.0 L1372.2 542.0 L1372.4 542.0 L1372.6 542.0 L1372.9 542.0 L1373.1 542.0 L1373.3 541.9 L1373.5 541.9 L1373.7 541.9 L1373.9 541.9 L1374.1 541.9 L1374.3 541.9 L1374.6 541.9 L1374.8 541.9 L1375.0 541.8 L1375.2 541.8 L1375.4 541.8 L1375.6 541.8 L1375.8 541.8 L1376.1 541.8 L1376.3 541.8 L1376.5 541.8 L1376.7 541.8 L1376.9 541.7 L1377.1 541.7 L1377.3 541.7 L1377.6 541.7 L1377.8 541.7 L1378.0 541.7 L1378.2 541.7 L1378.4 541.7 L1378.6 541.6 L1378.8 541.6 L1379.1 541.6 L1379.3 541.6 L1379.5 541.6 L1379.7 541.6 L1379.9 541.6 L1380.1 541.6 L1380.3 541.5 L1380.6 541.5 L1380.8 541.5 L1381.0 541.5 L1381.2 541.5 L1381.4 541.5 L1381.6 541.5 L1381.8 541.4 L1382.1 541.4 L1382.3 541.4 L1382.5 541.4 L1382.7 541.4 L1382.9 541.4 L1383.1 541.4 L1383.3 541.4 L1383.6 541.3 L1383.8 541.3 L1384.0 541.3 L1384.2 541.3 L1384.4 541.3 L1384.6 541.3 L1384.8 541.3 L1385.0 541.2 L1385.3 541.2 L1385.5 541.2 L1385.7 541.2 L1385.9 541.2 L1386.1 541.2 L1386.3 541.2 L1386.5 541.1 L1386.8 541.1 L1387.0 541.1 L1387.2 541.1 L1387.4 541.1 L1387.6 541.1 L1387.8 541.1 L1388.0 541.0 L1388.3 541.0 L1388.5 541.0 L1388.7 541.0 L1388.9 541.0 L1389.1 541.0 L1389.3 541.0 L1389.5 540.9 L1389.8 540.9 L1390.0 540.9 L1390.2 540.9 L1390.4 540.9 L1390.6 540.9 L1390.8 540.9 L1391.0 540.8 L1391.3 540.8 L1391.5 540.8 L1391.7 540.8 L1391.9 540.8 L1392.1 540.8 L1392.3 540.7 L1392.5 540.7 L1392.8 540.7 L1393.0 540.7 L1393.2 540.7 L1393.4 540.7 L1393.6 540.7 L1393.8 540.6 L1394.0 540.6 L1394.3 540.6 L1394.5 540.6 L1394.7 540.6 L1394.9 540.6 L1395.1 540.5 L1395.3 540.5 L1395.5 540.5 L1395.8 540.5 L1396.0 540.5 L1396.2 540.5 L1396.4 540.4 L1396.6 540.4 L1396.8 540.4 L1397.0 540.4 L1397.2 540.4 L1397.5 540.4 L1397.7 540.3 L1397.9 540.3 L1398.1 540.3 L1398.3 540.3 L1398.5 540.3 L1398.7 540.3 L1399.0 540.2 L1399.2 540.2 L1399.4 540.2 L1399.6 540.2 L1399.8 540.2 L1400.0 540.2 L1400.2 540.1 L1400.5 540.1 L1400.7 540.1 L1400.9 540.1 L1401.1 540.1 L1401.3 540.1 L1401.5 540.0 L1401.7 540.0 L1402.0 540.0 L1402.2 540.0 L1402.4 540.0 L1402.6 540.0 L1402.8 539.9 L1403.0 539.9 L1403.2 539.9 L1403.5 539.9 L1403.7 539.9 L1403.9 539.8 L1404.1 539.8 L1404.3 539.8 L1404.5 539.8 L1404.7 539.8 L1405.0 539.8 L1405.2 539.7 L1405.4 539.7 L1405.6 539.7 L1405.8 539.7 L1406.0 539.7 L1406.2 539.6 L1406.5 539.6 L1406.7 539.6 L1406.9 539.6 L1407.1 539.6 L1407.3 539.6 L1407.5 539.5 L1407.7 539.5 L1407.9 539.5 L1408.2 539.5 L1408.4 539.5 L1408.6 539.4 L1408.8 539.4 L1409.0 539.4 L1409.2 539.4 L1409.4 539.4 L1409.7 539.3 L1409.9 539.3 L1410.1 539.3 L1410.3 539.3 L1410.5 539.3 L1410.7 539.3 L1410.9 539.2 L1411.2 539.2 L1411.4 539.2 L1411.6 539.2 L1411.8 539.2 L1412.0 539.1 L1412.2 539.1 L1412.4 539.1 L1412.7 539.1 L1412.9 539.1 L1413.1 539.0 L1413.3 539.0 L1413.5 539.0 L1413.7 539.0 L1413.9 539.0 L1414.2 538.9 L1414.4 538.9 L1414.6 538.9 L1414.8 538.9 L1415.0 538.9 L1415.2 538.8 L1415.4 538.8 L1415.7 538.8 L1415.9 538.8 L1416.1 538.8 L1416.3 538.7 L1416.5 538.7 L1416.7 538.7 L1416.9 538.7 L1417.2 538.7 L1417.4 538.6 L1417.6 538.6 L1417.8 538.6 L1418.0 538.6 L1418.2 538.5 L1418.4 538.5 L1418.6 538.5 L1418.9 538.5 L1419.1 538.5 L1419.3 538.4 L1419.5 538.4 L1419.7 538.4 L1419.9 538.4 L1420.1 538.4 L1420.4 538.3 L1420.6 538.3 L1420.8 538.3 L1421.0 538.3 L1421.2 538.2 L1421.4 538.2 L1421.6 538.2 L1421.9 538.2 L1422.1 538.2 L1422.3 538.1 L1422.5 538.1 L1422.7 538.1 L1422.9 538.1 L1423.1 538.0 L1423.4 538.0 L1423.6 538.0 L1423.8 538.0 L1424.0 538.0 L1424.2 537.9 L1424.4 537.9 L1424.6 537.9 L1424.9 537.9 L1425.1 537.8 L1425.3 537.8 L1425.5 537.8 L1425.7 537.8 L1425.9 537.8 L1426.1 537.7 L1426.4 537.7 L1426.6 537.7 L1426.8 537.7 L1427.0 537.6 L1427.2 537.6 L1427.4 537.6 L1427.6 537.6 L1427.8 537.5 L1428.1 537.5 L1428.3 537.5 L1428.5 537.5 L1428.7 537.5 L1428.9 537.4 L1429.1 537.4 L1429.3 537.4 L1429.6 537.4 L1429.8 537.3 L1430.0 537.3 L1430.2 537.3 L1430.4 537.3 L1430.6 537.2 L1430.8 537.2 L1431.1 537.2 L1431.3 537.2 L1431.5 537.1 L1431.7 537.1 L1431.9 537.1 L1432.1 537.1 L1432.3 537.0 L1432.6 537.0 L1432.8 537.0 L1433.0 537.0 L1433.2 536.9 L1433.4 536.9 L1433.6 536.9 L1433.8 536.9 L1434.1 536.8 L1434.3 536.8 L1434.5 536.8 L1434.7 536.8 L1434.9 536.7 L1435.1 536.7 L1435.3 536.7 L1435.6 536.7 L1435.8 536.6 L1436.0 536.6 L1436.2 536.6 L1436.4 536.6 L1436.6 536.5 L1436.8 536.5 L1437.1 536.5 L1437.3 536.5 L1437.5 536.4 L1437.7 536.4 L1437.9 536.4 L1438.1 536.4 L1438.3 536.3 L1438.5 536.3 L1438.8 536.3 L1439.0 536.3 L1439.2 536.2 L1439.4 536.2 L1439.6 536.2 L1439.8 536.2 L1440.0 536.1 L1440.3 536.1 L1440.5 536.1 L1440.7 536.0 L1440.9 536.0 L1441.1 536.0 L1441.3 536.0 L1441.5 535.9 L1441.8 535.9 L1442.0 535.9 L1442.2 535.9 L1442.4 535.8 L1442.6 535.8 L1442.8 535.8 L1443.0 535.7 L1443.3 535.7 L1443.5 535.7 L1443.7 535.7 L1443.9 535.6 L1444.1 535.6 L1444.3 535.6 L1444.5 535.5 L1444.8 535.5 L1445.0 535.5 L1445.2 535.5 L1445.4 535.4 L1445.6 535.4 L1445.8 535.4 L1446.0 535.3 L1446.3 535.3 L1446.5 535.3 L1446.7 535.3 L1446.9 535.2 L1447.1 535.2 L1447.3 535.2 L1447.5 535.1 L1447.8 535.1 L1448.0 535.1 L1448.2 535.1 L1448.4 535.0 L1448.6 535.0 L1448.8 535.0 L1449.0 534.9 L1449.2 534.9 L1449.5 534.9 L1449.7 534.8 L1449.9 534.8 L1450.1 534.8 L1450.3 534.8 L1450.5 534.7 L1450.7 534.7 L1451.0 534.7 L1451.2 534.6 L1451.4 534.6 L1451.6 534.6 L1451.8 534.5 L1452.0 534.5 L1452.2 534.5 L1452.5 534.4 L1452.7 534.4 L1452.9 534.4 L1453.1 534.3 L1453.3 534.3 L1453.5 534.3 L1453.7 534.3 L1454.0 534.2 L1454.2 534.2 L1454.4 534.2 L1454.6 534.1 L1454.8 534.1 L1455.0 534.1 L1455.2 534.0 L1455.5 534.0 L1455.7 534.0 L1455.9 533.9 L1456.1 533.9 L1456.3 533.9 L1456.5 533.8 L1456.7 533.8 L1457.0 533.8 L1457.2 533.7 L1457.4 533.7 L1457.6 533.7 L1457.8 533.6 L1458.0 533.6 L1458.2 533.5 L1458.5 533.5 L1458.7 533.5 L1458.9 533.4 L1459.1 533.4 L1459.3 533.4 L1459.5 533.3 L1459.7 533.3 L1460.0 533.3 L1460.2 533.2 L1460.4 533.2 L1460.6 533.2 L1460.8 533.1 L1461.0 533.1 L1461.2 533.0 L1461.4 533.0 L1461.7 533.0 L1461.9 532.9 L1462.1 532.9 L1462.3 532.9 L1462.5 532.8 L1462.7 532.8 L1462.9 532.7 L1463.2 532.7 L1463.4 532.7 L1463.6 532.6 L1463.8 532.6 L1464.0 532.6 L1464.2 532.5 L1464.4 532.5 L1464.7 532.4 L1464.9 532.4 L1465.1 532.4 L1465.3 532.3 L1465.5 532.3 L1465.7 532.2 L1465.9 532.2 L1466.2 532.2 L1466.4 532.1 L1466.6 532.1 L1466.8 532.0 L1467.0 532.0 L1467.2 531.9 L1467.4 531.9 L1467.7 531.9 L1467.9 531.8 L1468.1 531.8 L1468.3 531.7 L1468.5 531.7 L1468.7 531.6 L1468.9 531.6 L1469.2 531.5 L1469.4 531.5 L1469.6 531.5 L1469.8 531.4 L1470.0 531.4 L1470.2 531.3 L1470.4 531.3 L1470.7 531.2 L1470.9 531.2 L1471.1 531.1 L1471.3 531.1 L1471.5 531.0 L1471.7 531.0 L1471.9 530.9 L1472.1 530.9 L1472.4 530.8 L1472.6 530.8 L1472.8 530.7 L1473.0 530.7 L1473.2 530.6 L1473.4 530.6 L1473.6 530.5 L1473.9 530.5 L1474.1 530.4 L1474.3 530.4 L1474.5 530.3 L1474.7 530.3 L1474.9 530.2 L1475.1 530.2 L1475.4 530.1 L1475.6 530.1 L1475.8 530.0 L1476.0 530.0 L1476.2 529.9 L1476.4 529.8 L1476.6 529.8 L1476.9 529.7 L1477.1 529.7 L1477.3 529.6 L1477.5 529.6 L1477.7 529.5 L1477.9 529.4 L1478.1 529.4 L1478.4 529.3 L1478.6 529.3 L1478.8 529.2 L1479.0 529.1 L1479.2 529.1 L1479.4 529.0 L1479.6 528.9 L1479.9 528.9 L1480.1 528.8 L1480.3 528.8 L1480.5 528.7 L1480.7 528.6 L1480.9 528.6 L1481.1 528.5 L1481.3 528.4 L1481.6 528.3 L1481.8 528.3 L1482.0 528.2 L1482.2 528.1 L1482.4 528.1 L1482.6 528.0 L1482.8 527.9 L1483.1 527.8 L1483.3 527.8 L1483.5 527.7 L1483.7 527.6 L1483.9 527.5 L1484.1 527.5 L1484.3 527.4 L1484.6 527.3 L1484.8 527.2 L1485.0 527.1 L1485.2 527.1 L1485.4 527.0 L1485.6 526.9 L1485.8 526.8 L1486.1 526.7 L1486.3 526.6 L1486.5 526.5 L1486.7 526.4 L1486.9 526.4 L1487.1 526.3 L1487.3 526.2 L1487.6 526.1 L1487.8 526.0 L1488.0 525.9 L1488.2 525.8 L1488.4 525.7 L1488.6 525.6 L1488.8 525.5 L1489.1 525.4 L1489.3 525.3 L1489.5 525.2 L1489.7 525.1 L1489.9 525.0 L1490.1 524.9 L1490.3 524.8 L1490.6 524.6 L1490.8 524.5 L1491.0 524.4 L1491.2 524.3 L1491.4 524.2 L1491.6 524.1 L1491.8 523.9 L1492.0 523.8 L1492.3 523.7 L1492.5 523.6 L1492.7 523.4 L1492.9 523.3 L1493.1 523.2 L1493.3 523.0 L1493.5 522.9 L1493.8 522.8 L1494.0 522.6 L1494.2 522.5 L1494.4 522.3 L1494.6 522.2 L1494.8 522.0 L1495.0 521.9 L1495.3 521.7 L1495.5 521.6 L1495.7 521.4 L1495.9 521.3 L1496.1 521.1 L1496.3 520.9 L1496.5 520.8 L1496.8 520.6 L1497.0 520.4 L1497.2 520.2 L1497.4 520.0 L1497.6 519.9 L1497.8 519.7 L1498.0 519.5 L1498.3 519.3 L1498.5 519.1 L1498.7 518.9 L1498.9 518.7 L1499.1 518.5 L1499.3 518.3 L1499.5 518.1 L1499.8 517.8 L1500.0 517.6 L1500.2 517.4 L1500.4 517.1 L1500.6 516.9 L1500.8 516.7 L1501.0 516.4 L1501.3 516.2 L1501.5 515.9 L1501.7 515.7 L1501.9 515.4 L1502.1 515.1 L1502.3 514.8 L1502.5 514.6 L1502.8 514.3 L1503.0 514.0 L1503.2 513.7 L1503.4 513.4 L1503.6 513.1 L1503.8 512.7 L1504.0 512.4 L1504.2 512.1 L1504.5 511.7 L1504.7 511.4 L1504.9 511.0 L1505.1 510.7 L1505.3 510.3 L1505.5 509.9 L1505.7 509.5 L1506.0 509.1 L1506.2 508.7 L1506.4 508.3 L1506.6 507.9 L1506.8 507.4 L1507.0 507.0 L1507.2 506.5 L1507.5 506.1 L1507.7 505.6 L1507.9 505.1 L1508.1 504.6 L1508.3 504.1 L1508.5 503.5 L1508.7 503.0 L1509.0 502.4 L1509.2 501.9 L1509.4 501.3 L1509.6 500.7 L1509.8 500.1 L1510.0 499.4 L1510.2 498.8 L1510.5 498.1 L1510.7 497.4 L1510.9 496.7 L1511.1 496.0 L1511.3 495.3 L1511.5 494.5 L1511.7 493.7 L1512.0 492.9 L1512.2 492.1 L1512.4 491.2 L1512.6 490.4 L1512.8 489.5 L1513.0 488.5 L1513.2 487.6 L1513.5 486.6 L1513.7 485.6 L1513.9 484.6 L1514.1 483.5 L1514.3 482.4 L1514.5 481.3 L1514.7 480.1 L1514.9 478.9 L1515.2 477.6 L1515.4 476.4 L1515.6 475.1 L1515.8 473.7 L1516.0 472.3 L1516.2 470.9 L1516.4 469.4 L1516.7 467.8 L1516.9 466.2 L1517.1 464.6 L1517.3 462.9 L1517.5 461.2 L1517.7 459.4 L1517.9 457.6 L1518.2 455.7 L1518.4 453.7 L1518.6 451.7 L1518.8 449.6 L1519.0 447.4 L1519.2 445.2 L1519.4 442.9 L1519.7 440.6 L1519.9 438.1 L1520.1 435.6 L1520.3 433.0 L1520.5 430.4 L1520.7 427.7 L1520.9 424.9 L1521.2 422.0 L1521.4 419.0 L1521.6 416.0 L1521.8 412.8 L1522.0 409.6 L1522.2 406.4 L1522.4 403.0 L1522.7 399.6 L1522.9 396.1 L1523.1 392.5 L1523.3 388.9 L1523.5 385.2 L1523.7 381.4 L1523.9 377.7 L1524.2 373.8 L1524.4 370.0 L1524.6 366.1 L1524.8 362.2 L1525.0 358.3 L1525.2 354.4 L1525.4 350.5 L1525.6 346.7 L1525.9 342.9 L1526.1 339.3 L1526.3 335.7 L1526.5 332.2 L1526.7 328.8 L1526.9 325.6 L1527.1 322.5 L1527.4 319.7 L1527.6 317.0 L1527.8 314.6 L1528.0 312.4 L1528.2 310.4 L1528.4 308.8 L1528.6 307.4 L1528.9 306.3 L1529.1 305.5 L1529.3 305.1 L1529.5 304.9 L1529.7 305.1 L1529.9 305.5 L1530.1 306.3 L1530.4 307.4 L1530.6 308.8 L1530.8 310.4 L1531.0 312.4 L1531.2 314.6 L1531.4 317.0 L1531.6 319.7 L1531.9 322.5 L1532.1 325.6 L1532.3 328.8 L1532.5 332.2 L1532.7 335.7 L1532.9 339.3 L1533.1 342.9 L1533.4 346.7 L1533.6 350.5 L1533.8 354.4 L1534.0 358.3 L1534.2 362.2 L1534.4 366.1 L1534.6 370.0 L1534.8 373.8 L1535.1 377.7 L1535.3 381.4 L1535.5 385.2 L1535.7 388.9 L1535.9 392.5 L1536.1 396.1 L1536.3 399.6 L1536.6 403.0 L1536.8 406.4 L1537.0 409.6 L1537.2 412.8 L1537.4 416.0 L1537.6 419.0 L1537.8 422.0 L1538.1 424.9 L1538.3 427.7 L1538.5 430.4 L1538.7 433.0 L1538.9 435.6 L1539.1 438.1 L1539.3 440.6 L1539.6 442.9 L1539.8 445.2 L1540.0 447.4 L1540.2 449.6 L1540.4 451.7 L1540.6 453.7 L1540.8 455.7 L1541.1 457.6 L1541.3 459.4 L1541.5 461.2 L1541.7 462.9 L1541.9 464.6 L1542.1 466.2 L1542.3 467.8 L1542.6 469.4 L1542.8 470.9 L1543.0 472.3 L1543.2 473.7 L1543.4 475.1 L1543.6 476.4 L1543.8 477.6 L1544.1 478.9 L1544.3 480.1 L1544.5 481.3 L1544.7 482.4 L1544.9 483.5 L1545.1 484.6 L1545.3 485.6 L1545.5 486.6 L1545.8 487.6 L1546.0 488.5 L1546.2 489.5 L1546.4 490.4 L1546.6 491.2 L1546.8 492.1 L1547.0 492.9 L1547.3 493.7 L1547.5 494.5 L1547.7 495.3 L1547.9 496.0 L1548.1 496.7 L1548.3 497.4 L1548.5 498.1 L1548.8 498.8 L1549.0 499.4 L1549.2 500.1 L1549.4 500.7 L1549.6 501.3 L1549.8 501.9 L1550.0 502.4 L1550.3 503.0 L1550.5 503.5 L1550.7 504.1 L1550.9 504.6 L1551.1 505.1 L1551.3 505.6 L1551.5 506.1 L1551.8 506.5 L1552.0 507.0 L1552.2 507.4 L1552.4 507.9 L1552.6 508.3 L1552.8 508.7 L1553.0 509.1 L1553.3 509.5 L1553.5 509.9 L1553.7 510.3 L1553.9 510.7 L1554.1 511.0 L1554.3 511.4 L1554.5 511.7 L1554.8 512.1 L1555.0 512.4 L1555.2 512.7 L1555.4 513.1 L1555.6 513.4 L1555.8 513.7 L1556.0 514.0 L1556.2 514.3 L1556.5 514.6 L1556.7 514.8 L1556.9 515.1 L1557.1 515.4 L1557.3 515.7 L1557.5 515.9 L1557.7 516.2 L1558.0 516.4 L1558.2 516.7 L1558.4 516.9 L1558.6 517.1 L1558.8 517.4 L1559.0 517.6 L1559.2 517.8 L1559.5 518.1 L1559.7 518.3 L1559.9 518.5 L1560.1 518.7 L1560.3 518.9 L1560.5 519.1 L1560.7 519.3 L1561.0 519.5 L1561.2 519.7 L1561.4 519.9 L1561.6 520.0 L1561.8 520.2 L1562.0 520.4 L1562.2 520.6 L1562.5 520.8 L1562.7 520.9 L1562.9 521.1 L1563.1 521.3 L1563.3 521.4 L1563.5 521.6 L1563.7 521.7 L1564.0 521.9 L1564.2 522.0 L1564.4 522.2 L1564.6 522.3 L1564.8 522.5 L1565.0 522.6 L1565.2 522.8 L1565.5 522.9 L1565.7 523.0 L1565.9 523.2 L1566.1 523.3 L1566.3 523.4 L1566.5 523.6 L1566.7 523.7 L1567.0 523.8 L1567.2 523.9 L1567.4 524.1 L1567.6 524.2 L1567.8 524.3 L1568.0 524.4 L1568.2 524.5 L1568.4 524.6 L1568.7 524.8 L1568.9 524.9 L1569.1 525.0 L1569.3 525.1 L1569.5 525.2 L1569.7 525.3 L1569.9 525.4 L1570.2 525.5 L1570.4 525.6 L1570.6 525.7 L1570.8 525.8 L1571.0 525.9 L1571.2 526.0 L1571.4 526.1 L1571.7 526.2 L1571.9 526.3 L1572.1 526.4 L1572.3 526.4 L1572.5 526.5 L1572.7 526.6 L1572.9 526.7 L1573.2 526.8 L1573.4 526.9 L1573.6 527.0 L1573.8 527.1 L1574.0 527.1 L1574.2 527.2 L1574.4 527.3 L1574.7 527.4 L1574.9 527.5 L1575.1 527.5 L1575.3 527.6 L1575.5 527.7 L1575.7 527.8 L1575.9 527.8 L1576.2 527.9 L1576.4 528.0 L1576.6 528.1 L1576.8 528.1 L1577.0 528.2 L1577.2 528.3 L1577.4 528.3 L1577.7 528.4 L1577.9 528.5 L1578.1 528.6 L1578.3 528.6 L1578.5 528.7 L1578.7 528.8 L1578.9 528.8 L1579.1 528.9 L1579.4 528.9 L1579.6 529.0 L1579.8 529.1 L1580.0 529.1 L1580.2 529.2 L1580.4 529.3 L1580.6 529.3 L1580.9 529.4 L1581.1 529.4 L1581.3 529.5 L1581.5 529.6 L1581.7 529.6 L1581.9 529.7 L1582.1 529.7 L1582.4 529.8 L1582.6 529.8 L1582.8 529.9 L1583.0 530.0 L1583.2 530.0 L1583.4 530.1 L1583.6 530.1 L1583.9 530.2 L1584.1 530.2 L1584.3 530.3 L1584.5 530.3 L1584.7 530.4 L1584.9 530.4 L1585.1 530.5 L1585.4 530.5 L1585.6 530.6 L1585.8 530.6 L1586.0 530.7 L1586.2 530.7 L1586.4 530.8 L1586.6 530.8 L1586.9 530.9 L1587.1 530.9 L1587.3 531.0 L1587.5 531.0 L1587.7 531.1 L1587.9 531.1 L1588.1 531.2 L1588.3 531.2 L1588.6 531.3 L1588.8 531.3 L1589.0 531.4 L1589.2 531.4 L1589.4 531.5 L1589.6 531.5 L1589.8 531.5 L1590.1 531.6 L1590.3 531.6 L1590.5 531.7 L1590.7 531.7 L1590.9 531.8 L1591.1 531.8 L1591.3 531.9 L1591.6 531.9 L1591.8 531.9 L1592.0 532.0 L1592.2 532.0 L1592.4 532.1 L1592.6 532.1 L1592.8 532.2 L1593.1 532.2 L1593.3 532.2 L1593.5 532.3 L1593.7 532.3 L1593.9 532.4 L1594.1 532.4 L1594.3 532.4 L1594.6 532.5 L1594.8 532.5 L1595.0 532.6 L1595.2 532.6 L1595.4 532.6 L1595.6 532.7 L1595.8 532.7 L1596.1 532.7 L1596.3 532.8 L1596.5 532.8 L1596.7 532.9 L1596.9 532.9 L1597.1 532.9 L1597.3 533.0 L1597.6 533.0 L1597.8 533.0 L1598.0 533.1 L1598.2 533.1 L1598.4 533.2 L1598.6 533.2 L1598.8 533.2 L1599.0 533.3 L1599.3 533.3 L1599.5 533.3 L1599.7 533.4 L1599.9 533.4 L1600.1 533.4 L1600.3 533.5 L1600.5 533.5 L1600.8 533.5 L1601.0 533.6 L1601.2 533.6 L1601.4 533.7 L1601.6 533.7 L1601.8 533.7 L1602.0 533.8 L1602.3 533.8 L1602.5 533.8 L1602.7 533.9 L1602.9 533.9 L1603.1 533.9 L1603.3 534.0 L1603.5 534.0 L1603.8 534.0 L1604.0 534.1 L1604.2 534.1 L1604.4 534.1 L1604.6 534.2 L1604.8 534.2 L1605.0 534.2 L1605.3 534.3 L1605.5 534.3 L1605.7 534.3 L1605.9 534.3 L1606.1 534.4 L1606.3 534.4 L1606.5 534.4 L1606.8 534.5 L1607.0 534.5 L1607.2 534.5 L1607.4 534.6 L1607.6 534.6 L1607.8 534.6 L1608.0 534.7 L1608.3 534.7 L1608.5 534.7 L1608.7 534.8 L1608.9 534.8 L1609.1 534.8 L1609.3 534.8 L1609.5 534.9 L1609.8 534.9 L1610.0 534.9 L1610.2 535.0 L1610.4 535.0 L1610.6 535.0 L1610.8 535.1 L1611.0 535.1 L1611.2 535.1 L1611.5 535.1 L1611.7 535.2 L1611.9 535.2 L1612.1 535.2 L1612.3 535.3 L1612.5 535.3 L1612.7 535.3 L1613.0 535.3 L1613.2 535.4 L1613.4 535.4 L1613.6 535.4 L1613.8 535.5 L1614.0 535.5 L1614.2 535.5 L1614.5 535.5 L1614.7 535.6 L1614.9 535.6 L1615.1 535.6 L1615.3 535.7 L1615.5 535.7 L1615.7 535.7 L1616.0 535.7 L1616.2 535.8 L1616.4 535.8 L1616.6 535.8 L1616.8 535.9 L1617.0 535.9 L1617.2 535.9 L1617.5 535.9 L1617.7 536.0 L1617.9 536.0 L1618.1 536.0 L1618.3 536.0 L1618.5 536.1 L1618.7 536.1 L1619.0 536.1 L1619.2 536.2 L1619.4 536.2 L1619.6 536.2 L1619.8 536.2 L1620.0 536.3 L1620.2 536.3 L1620.5 536.3 L1620.7 536.3 L1620.9 536.4 L1621.1 536.4 L1621.3 536.4 L1621.5 536.4 L1621.7 536.5 L1621.9 536.5 L1622.2 536.5 L1622.4 536.5 L1622.6 536.6 L1622.8 536.6 L1623.0 536.6 L1623.2 536.6 L1623.4 536.7 L1623.7 536.7 L1623.9 536.7 L1624.1 536.7 L1624.3 536.8 L1624.5 536.8 L1624.7 536.8 L1624.9 536.8 L1625.2 536.9 L1625.4 536.9 L1625.6 536.9 L1625.8 536.9 L1626.0 537.0 L1626.2 537.0 L1626.4 537.0 L1626.7 537.0 L1626.9 537.1 L1627.1 537.1 L1627.3 537.1 L1627.5 537.1 L1627.7 537.2 L1627.9 537.2 L1628.2 537.2 L1628.4 537.2 L1628.6 537.3 L1628.8 537.3 L1629.0 537.3 L1629.2 537.3 L1629.4 537.4 L1629.7 537.4 L1629.9 537.4 L1630.1 537.4 L1630.3 537.5 L1630.5 537.5 L1630.7 537.5 L1630.9 537.5 L1631.2 537.5 L1631.4 537.6 L1631.6 537.6 L1631.8 537.6 L1632.0 537.6 L1632.2 537.7 L1632.4 537.7 L1632.6 537.7 L1632.9 537.7 L1633.1 537.8 L1633.3 537.8 L1633.5 537.8 L1633.7 537.8 L1633.9 537.8 L1634.1 537.9 L1634.4 537.9 L1634.6 537.9 L1634.8 537.9 L1635.0 538.0 L1635.2 538.0 L1635.4 538.0 L1635.6 538.0 L1635.9 538.0 L1636.1 538.1 L1636.3 538.1 L1636.5 538.1 L1636.7 538.1 L1636.9 538.2 L1637.1 538.2 L1637.4 538.2 L1637.6 538.2 L1637.8 538.2 L1638.0 538.3 L1638.2 538.3 L1638.4 538.3 L1638.6 538.3 L1638.9 538.4 L1639.1 538.4 L1639.3 538.4 L1639.5 538.4 L1639.7 538.4 L1639.9 538.5 L1640.1 538.5 L1640.4 538.5 L1640.6 538.5 L1640.8 538.5 L1641.0 538.6 L1641.2 538.6 L1641.4 538.6 L1641.6 538.6 L1641.8 538.7 L1642.1 538.7 L1642.3 538.7 L1642.5 538.7 L1642.7 538.7 L1642.9 538.8 L1643.1 538.8 L1643.3 538.8 L1643.6 538.8 L1643.8 538.8 L1644.0 538.9 L1644.2 538.9 L1644.4 538.9 L1644.6 538.9 L1644.8 538.9 L1645.1 539.0 L1645.3 539.0 L1645.5 539.0 L1645.7 539.0 L1645.9 539.0 L1646.1 539.1 L1646.3 539.1 L1646.6 539.1 L1646.8 539.1 L1647.0 539.1 L1647.2 539.2 L1647.4 539.2 L1647.6 539.2 L1647.8 539.2 L1648.1 539.2 L1648.3 539.3 L1648.5 539.3 L1648.7 539.3 L1648.9 539.3 L1649.1 539.3 L1649.3 539.3 L1649.6 539.4 L1649.8 539.4 L1650.0 539.4 L1650.2 539.4 L1650.4 539.4 L1650.6 539.5 L1650.8 539.5 L1651.1 539.5 L1651.3 539.5 L1651.5 539.5 L1651.7 539.6 L1651.9 539.6 L1652.1 539.6 L1652.3 539.6 L1652.5 539.6 L1652.8 539.6 L1653.0 539.7 L1653.2 539.7 L1653.4 539.7 L1653.6 539.7 L1653.8 539.7 L1654.0 539.8 L1654.3 539.8 L1654.5 539.8 L1654.7 539.8 L1654.9 539.8 L1655.1 539.8 L1655.3 539.9 L1655.5 539.9 L1655.8 539.9 L1656.0 539.9 L1656.2 539.9 L1656.4 540.0 L1656.6 540.0 L1656.8 540.0 L1657.0 540.0 L1657.3 540.0 L1657.5 540.0 L1657.7 540.1 L1657.9 540.1 L1658.1 540.1 L1658.3 540.1 L1658.5 540.1 L1658.8 540.1 L1659.0 540.2 L1659.2 540.2 L1659.4 540.2 L1659.6 540.2 L1659.8 540.2 L1660.0 540.2 L1660.3 540.3 L1660.5 540.3 L1660.7 540.3 L1660.9 540.3 L1661.1 540.3 L1661.3 540.3 L1661.5 540.4 L1661.8 540.4 L1662.0 540.4 L1662.2 540.4 L1662.4 540.4 L1662.6 540.4 L1662.8 540.5 L1663.0 540.5 L1663.2 540.5 L1663.5 540.5 L1663.7 540.5 L1663.9 540.5 L1664.1 540.6 L1664.3 540.6 L1664.5 540.6 L1664.7 540.6 L1665.0 540.6 L1665.2 540.6 L1665.4 540.7 L1665.6 540.7 L1665.8 540.7 L1666.0 540.7 L1666.2 540.7 L1666.5 540.7 L1666.7 540.7 L1666.9 540.8 L1667.1 540.8 L1667.3 540.8 L1667.5 540.8 L1667.7 540.8 L1668.0 540.8 L1668.2 540.9 L1668.4 540.9 L1668.6 540.9 L1668.8 540.9 L1669.0 540.9 L1669.2 540.9 L1669.5 540.9 L1669.7 541.0 L1669.9 541.0 L1670.1 541.0 L1670.3 541.0 L1670.5 541.0 L1670.7 541.0 L1671.0 541.0 L1671.2 541.1 L1671.4 541.1 L1671.6 541.1 L1671.8 541.1 L1672.0 541.1 L1672.2 541.1 L1672.5 541.1 L1672.7 541.2 L1672.9 541.2 L1673.1 541.2 L1673.3 541.2 L1673.5 541.2 L1673.7 541.2 L1674.0 541.2 L1674.2 541.3 L1674.4 541.3 L1674.6 541.3 L1674.8 541.3 L1675.0 541.3 L1675.2 541.3 L1675.4 541.3 L1675.7 541.4 L1675.9 541.4 L1676.1 541.4 L1676.3 541.4 L1676.5 541.4 L1676.7 541.4 L1676.9 541.4 L1677.2 541.4 L1677.4 541.5 L1677.6 541.5 L1677.8 541.5 L1678.0 541.5 L1678.2 541.5 L1678.4 541.5 L1678.7 541.5 L1678.9 541.6 L1679.1 541.6 L1679.3 541.6 L1679.5 541.6 L1679.7 541.6 L1679.9 541.6 L1680.2 541.6 L1680.4 541.6 L1680.6 541.7 L1680.8 541.7 L1681.0 541.7 L1681.2 541.7 L1681.4 541.7 L1681.7 541.7 L1681.9 541.7 L1682.1 541.7 L1682.3 541.8 L1682.5 541.8 L1682.7 541.8 L1682.9 541.8 L1683.2 541.8 L1683.4 541.8 L1683.6 541.8 L1683.8 541.8 L1684.0 541.8 L1684.2 541.9 L1684.4 541.9 L1684.7 541.9 L1684.9 541.9 L1685.1 541.9 L1685.3 541.9 L1685.5 541.9 L1685.7 541.9 L1685.9 542.0 L1686.1 542.0 L1686.4 542.0 L1686.6 542.0 L1686.8 542.0 L1687.0 542.0 L1687.2 542.0 L1687.4 542.0 L1687.6 542.0 L1687.9 542.1 L1688.1 542.1 L1688.3 542.1 L1688.5 542.1 L1688.7 542.1 L1688.9 542.1 L1689.1 542.1 L1689.4 542.1 L1689.6 542.1 L1689.8 542.2 L1690.0 542.2" fill="none" stroke="#0000ff" stroke-width="2.15" stroke-linejoin="round" clip-path="url(#cl-j)"/>
<rect x="1369.0" y="304.9" width="321.0" height="239.8" fill="none" stroke="#231f20" stroke-width="1.5"/>
<path d="M1422.5 304.9v4.2M1422.5 544.7v-4.2M1476.0 304.9v4.2M1476.0 544.7v-4.2M1529.5 304.9v4.2M1529.5 544.7v-4.2M1583.0 304.9v4.2M1583.0 544.7v-4.2M1636.5 304.9v4.2M1636.5 544.7v-4.2M1369.0 328.9h4.2M1690.0 328.9h-4.2M1369.0 352.9h4.2M1690.0 352.9h-4.2M1369.0 376.8h4.2M1690.0 376.8h-4.2M1369.0 400.8h4.2M1690.0 400.8h-4.2M1369.0 424.8h4.2M1690.0 424.8h-4.2M1369.0 448.8h4.2M1690.0 448.8h-4.2M1369.0 472.8h4.2M1690.0 472.8h-4.2M1369.0 496.7h4.2M1690.0 496.7h-4.2M1369.0 520.7h4.2M1690.0 520.7h-4.2" stroke="#231f20" stroke-width="1.35" fill="none"/>
</g>
<g font-family='"Liberation Serif", "Times New Roman", serif' font-size="34.1" fill="#231f20" stroke="#231f20" stroke-width="0.3">
<text x="36.3" y="22.7" textLength="79.6" lengthAdjust="spacingAndGlyphs">NMU</text>
<text x="369.8" y="22.7" textLength="79.6" lengthAdjust="spacingAndGlyphs">NMU</text>
<text x="702.5" y="22.7" textLength="107.7" lengthAdjust="spacingAndGlyphs">NMBW</text>
<text x="1034.6" y="22.7" textLength="89.1" lengthAdjust="spacingAndGlyphs">ECBC</text>
<text x="1367.8" y="22.7" textLength="68.2" lengthAdjust="spacingAndGlyphs">ECU</text>
<text x="36.6" y="301.8" textLength="79.6" lengthAdjust="spacingAndGlyphs">NMU</text>
<text x="368.6" y="301.8" textLength="100.4" lengthAdjust="spacingAndGlyphs">NMBC</text>
<text x="701.0" y="301.8" textLength="131.3" lengthAdjust="spacingAndGlyphs">NMBWC</text>
<text x="1034.5" y="301.8" textLength="89.1" lengthAdjust="spacingAndGlyphs">ECBC</text>
<text x="1372.3" y="301.8" textLength="68.2" lengthAdjust="spacingAndGlyphs">ECU</text>
</g>
<g font-family='"Liberation Sans", Arial, sans-serif' font-size="25.4" letter-spacing="0.6" fill="#231f20" stroke="#231f20" stroke-width="0.3">
<text x="45.6" y="53.5">(a)</text>
<text x="376.9" y="53.5">(b)</text>
<text x="712.6" y="53.5">(c)</text>
<text x="1047.2" y="53.5">(d)</text>
<text x="1375.2" y="53.5">(e)</text>
<text x="47.1" y="330.8">(f)</text>
<text x="383.2" y="330.8">(g)</text>
<text x="711.3" y="330.8">(h)</text>
<text x="1051.0" y="330.8">(i)</text>
<text x="1380.2" y="330.8">(j)</text>
</g>
<g font-family='"Liberation Serif", "Times New Roman", serif' font-size="24.5" fill="#0000ff" stroke="#0000ff" stroke-width="0.3">
<text x="103.7" y="81.0" textLength="42.3" lengthAdjust="spacingAndGlyphs">η=κ</text>
<text x="440.6" y="81.0" textLength="55.0" lengthAdjust="spacingAndGlyphs">η=3κ</text>
<text x="711.1" y="81.0" textLength="66.3" lengthAdjust="spacingAndGlyphs">η=20κ</text>
<text x="1047.9" y="81.0" textLength="66.9" lengthAdjust="spacingAndGlyphs">η=30κ</text>
<text x="1381.4" y="81.0" textLength="67.9" lengthAdjust="spacingAndGlyphs">η=70κ</text>
<text x="104.6" y="358.1" textLength="41.0" lengthAdjust="spacingAndGlyphs">η=κ</text>
<text x="440.6" y="358.1" textLength="55.0" lengthAdjust="spacingAndGlyphs">η=3κ</text>
<text x="708.4" y="358.1" textLength="67.0" lengthAdjust="spacingAndGlyphs">η=10κ</text>
<text x="1047.0" y="358.1" textLength="67.7" lengthAdjust="spacingAndGlyphs">η=30κ</text>
<text x="1381.4" y="358.1" textLength="67.9" lengthAdjust="spacingAndGlyphs">η=70κ</text>
</g>
<g font-family='"Liberation Sans", Arial, sans-serif' font-size="33.5" fill="#231f20" stroke="#231f20" stroke-width="0.35">
<text x="93.5" y="579" text-anchor="middle">-1</text>
<text x="199.3" y="579" text-anchor="middle">0</text>
<text x="306.3" y="579" text-anchor="middle">1</text>
<text x="99.5" y="609.8">detuning</text>
<text x="236.5" y="609.9" font-family='"Liberation Serif", "Times New Roman", serif' textLength="16.4" lengthAdjust="spacingAndGlyphs">δ</text>
<text x="252.5" y="609.9" font-family='"Liberation Serif", "Times New Roman", serif' textLength="12.5" lengthAdjust="spacingAndGlyphs">/</text>
<text x="261.2" y="609.9" font-family='"Liberation Serif", "Times New Roman", serif' font-style="italic" textLength="18" lengthAdjust="spacingAndGlyphs">g</text>
<text x="278.1" y="625.2" font-size="26.8">N</text>
<text x="426.1" y="579" text-anchor="middle">-1</text>
<text x="531.9" y="579" text-anchor="middle">0</text>
<text x="638.8" y="579" text-anchor="middle">1</text>
<text x="432.0" y="609.8">detuning</text>
<text x="569.0" y="609.9" font-family='"Liberation Serif", "Times New Roman", serif' textLength="16.4" lengthAdjust="spacingAndGlyphs">δ</text>
<text x="585.0" y="609.9" font-family='"Liberation Serif", "Times New Roman", serif' textLength="12.5" lengthAdjust="spacingAndGlyphs">/</text>
<text x="593.8" y="609.9" font-family='"Liberation Serif", "Times New Roman", serif' font-style="italic" textLength="18" lengthAdjust="spacingAndGlyphs">g</text>
<text x="610.5" y="625.2" font-size="26.8">N</text>
<text x="758.6" y="579" text-anchor="middle">-1</text>
<text x="864.4" y="579" text-anchor="middle">0</text>
<text x="971.4" y="579" text-anchor="middle">1</text>
<text x="764.6" y="609.8">detuning</text>
<text x="901.6" y="609.9" font-family='"Liberation Serif", "Times New Roman", serif' textLength="16.4" lengthAdjust="spacingAndGlyphs">δ</text>
<text x="917.6" y="609.9" font-family='"Liberation Serif", "Times New Roman", serif' textLength="12.5" lengthAdjust="spacingAndGlyphs">/</text>
<text x="926.3" y="609.9" font-family='"Liberation Serif", "Times New Roman", serif' font-style="italic" textLength="18" lengthAdjust="spacingAndGlyphs">g</text>
<text x="943.1" y="625.2" font-size="26.8">N</text>
<text x="1091.4" y="579" text-anchor="middle">-1</text>
<text x="1197.3" y="579" text-anchor="middle">0</text>
<text x="1304.3" y="579" text-anchor="middle">1</text>
<text x="1097.5" y="609.8">detuning</text>
<text x="1234.5" y="609.9" font-family='"Liberation Serif", "Times New Roman", serif' textLength="16.4" lengthAdjust="spacingAndGlyphs">δ</text>
<text x="1250.5" y="609.9" font-family='"Liberation Serif", "Times New Roman", serif' textLength="12.5" lengthAdjust="spacingAndGlyphs">/</text>
<text x="1259.2" y="609.9" font-family='"Liberation Serif", "Times New Roman", serif' font-style="italic" textLength="18" lengthAdjust="spacingAndGlyphs">g</text>
<text x="1276.0" y="625.2" font-size="26.8">N</text>
<text x="1424.2" y="579" text-anchor="middle">-1</text>
<text x="1530.1" y="579" text-anchor="middle">0</text>
<text x="1637.1" y="579" text-anchor="middle">1</text>
<text x="1430.3" y="609.8">detuning</text>
<text x="1567.3" y="609.9" font-family='"Liberation Serif", "Times New Roman", serif' textLength="16.4" lengthAdjust="spacingAndGlyphs">δ</text>
<text x="1583.3" y="609.9" font-family='"Liberation Serif", "Times New Roman", serif' textLength="12.5" lengthAdjust="spacingAndGlyphs">/</text>
<text x="1592.0" y="609.9" font-family='"Liberation Serif", "Times New Roman", serif' font-style="italic" textLength="18" lengthAdjust="spacingAndGlyphs">g</text>
<text x="1608.8" y="625.2" font-size="26.8">N</text>
</g>
<text transform="translate(25,519.8) rotate(-90)" font-family='"Liberation Sans", Arial, sans-serif' font-size="33.5" fill="#231f20" stroke="#231f20" stroke-width="0.35" textLength="447.3" lengthAdjust="spacing">transmission profile (arb.units)</text>
<text transform="translate(1704.5,106.5) rotate(90)" font-family='"Liberation Sans", Arial, sans-serif' font-size="33.5" fill="#231f20" stroke="#231f20" stroke-width="0.35">good cavity</text>
<text transform="translate(1704.5,397) rotate(90)" font-family='"Liberation Sans", Arial, sans-serif' font-size="33.5" fill="#231f20" stroke="#231f20" stroke-width="0.35">bad cavity</text>
<path d="M497.3 439.4H523M564.4 439.4H539" stroke="#231f20" stroke-width="1.6" fill="none"/>
<path d="M526.9 439.4l-7.2 -3.3l1.6 3.3l-1.6 3.3zM535.1 439.4l7.2 -3.3l-1.6 3.3l1.6 3.3z" fill="#231f20"/>
<text x="569.4" y="447.2" font-family='"Liberation Sans", Arial, sans-serif' font-size="24.75" fill="#231f20" stroke="#231f20" stroke-width="0.3">x10</text>
</svg>
</body></html>
